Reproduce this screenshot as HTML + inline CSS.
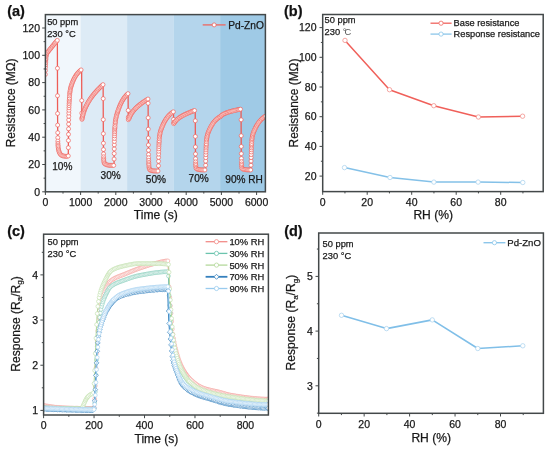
<!DOCTYPE html><html><head><meta charset="utf-8"><style>html,body{margin:0;padding:0;background:#fff;width:550px;height:449px;overflow:hidden}svg{display:block;will-change:transform;filter:blur(0.3px)} text{stroke:#1e1e1e;stroke-width:0.25px}</style></head><body>
<svg width="550" height="449" viewBox="0 0 550 449" font-family='"Liberation Sans", sans-serif'>
<rect width="550" height="449" fill="#fff"/>
<rect x="45.4" y="14.6" width="35.1" height="177.2" fill="#f1f7fc"/>
<rect x="80.5" y="14.6" width="46.6" height="177.2" fill="#ddebf6"/>
<rect x="127.1" y="14.6" width="46.3" height="177.2" fill="#c7def0"/>
<rect x="173.4" y="14.6" width="46.7" height="177.2" fill="#b4d5ec"/>
<rect x="220.1" y="14.6" width="45.3" height="177.2" fill="#9fcae6"/>
<clipPath id="ca"><rect x="45.4" y="14.6" width="220" height="177.2"/></clipPath>
<polyline points="45.4,74.41 45.47,70.49 45.54,67.33 45.61,64.79 45.68,62.73 45.75,61.06 45.82,59.71 45.89,58.61 45.96,57.71 46.03,56.97 46.1,56.35 46.17,55.84 46.24,55.42 46.32,55.06 46.39,54.75 46.46,54.49 46.53,54.26 46.6,54.05 46.67,53.87 46.74,53.71 46.81,53.56 46.88,53.42 46.95,53.29 47.02,53.17 47.09,53.05 47.16,52.94 47.23,52.84 47.3,52.73 47.37,52.63 47.44,52.53 47.51,52.43 47.58,52.34 47.65,52.24 47.72,52.15 47.79,52.06 47.86,51.96 47.93,51.87 48,51.78 48.08,51.69 48.15,51.6 48.22,51.5 48.29,51.41 48.36,51.32 48.43,51.23 48.5,51.14 48.57,51.05 48.64,50.96 48.71,50.87 48.78,50.78 48.85,50.69 48.92,50.61 48.99,50.52 49.06,50.43 49.13,50.34 49.2,50.25 49.27,50.16 49.34,50.07 49.41,49.98 49.48,49.89 49.55,49.81 49.62,49.72 49.69,49.63 49.76,49.54 49.84,49.45 49.91,49.36 49.98,49.28 50.05,49.19 50.12,49.1 50.19,49.01 50.26,48.92 50.33,48.84 50.4,48.75 50.47,48.66 50.54,48.57 50.61,48.49 50.68,48.4 50.75,48.31 50.82,48.22 50.89,48.14 50.96,48.05 51.03,47.96 51.1,47.88 51.17,47.79 51.24,47.7 51.31,47.61 51.38,47.53 51.45,47.44 51.52,47.35 51.6,47.27 51.67,47.18 51.74,47.09 51.81,47.01 51.88,46.92 51.95,46.83 52.02,46.75 52.09,46.66 52.16,46.58 52.23,46.49 52.3,46.4 52.37,46.32 52.44,46.23 52.51,46.14 52.58,46.06 52.65,45.97 52.72,45.89 52.79,45.8 52.86,45.71 52.93,45.63 53,45.54 53.07,45.46 53.14,45.37 53.21,45.28 53.28,45.2 53.36,45.11 53.43,45.03 53.5,44.94 53.57,44.86 53.64,44.77 53.71,44.69 53.78,44.6 53.85,44.51 53.92,44.43 53.99,44.34 54.06,44.26 54.13,44.17 54.2,44.09 54.27,44 54.34,43.92 54.41,43.83 54.48,43.75 54.55,43.66 54.62,43.58 54.69,43.49 54.76,43.41 54.83,43.32 54.9,43.24 54.97,43.15 55.04,43.07 55.12,42.98 55.19,42.9 55.26,42.81 55.33,42.73 55.4,42.64 55.47,42.56 55.54,42.48 55.61,42.39 55.68,42.31 55.75,42.22 55.82,42.14 55.89,42.05 55.96,41.97 56.03,41.88 56.1,41.8 56.17,41.72 56.24,41.63 56.31,41.55 56.38,41.46 56.45,41.38 56.52,41.29 56.59,41.21 56.66,41.13 56.73,41.04 56.8,40.96 56.88,40.87 56.95,40.79 57.02,40.7 57.09,40.62 57.16,40.54 57.23,40.45 57.3,40.37 57.37,40.29 57.44,68.25 57.51,95.73 57.58,113.53 57.65,125.11 57.72,132.7 57.79,137.73 57.86,141.1 57.93,143.4 58,145.02 58.07,146.18 58.14,147.06 58.21,147.74 58.28,148.29 58.35,148.75 58.42,149.15 58.49,149.51 58.56,149.84 58.64,150.14 58.71,150.42 58.78,150.68 58.85,150.93 58.92,151.17 58.99,151.39 59.06,151.61 59.13,151.81 59.2,152.01 59.27,152.2 59.34,152.38 59.41,152.55 59.48,152.71 59.55,152.87 59.62,153.02 59.69,153.16 59.76,153.3 59.83,153.43 59.9,153.55 59.97,153.67 60.04,153.79 60.11,153.9 60.18,154 60.25,154.1 60.32,154.2 60.4,154.29 60.47,154.38 60.54,154.46 60.61,154.54 60.68,154.62 60.75,154.69 60.82,154.76 60.89,154.83 60.96,154.9 61.03,154.96 61.1,155.02 61.17,155.07 61.24,155.13 61.31,155.18 61.38,155.23 61.45,155.27 61.52,155.32 61.59,155.36 61.66,155.4 61.73,155.44 61.8,155.48 61.87,155.52 61.94,155.55 62.01,155.58 62.08,155.62 62.16,155.65 62.23,155.67 62.3,155.7 62.37,155.73 62.44,155.75 62.51,155.78 62.58,155.8 62.65,155.82 62.72,155.84 62.79,155.86 62.86,155.88 62.93,155.9 63,155.92 63.07,155.94 63.14,155.95 63.21,155.97 63.28,155.98 63.35,156 63.42,156.01 63.49,156.02 63.56,156.04 63.63,156.05 63.7,156.06 63.77,156.07 63.84,156.08 63.92,156.09 63.99,156.1 64.06,156.11 64.13,156.12 64.2,156.13 64.27,156.13 64.34,156.14 64.41,156.15 64.48,156.16 64.55,156.16 64.62,156.17 64.69,156.18 64.76,156.18 64.83,156.19 64.9,156.19 64.97,156.2 65.04,156.2 65.11,156.21 65.18,156.21 65.25,156.22 65.32,156.22 65.39,156.22 65.46,156.23 65.53,156.23 65.6,156.23 65.68,156.24 65.75,156.24 65.82,156.24 65.89,156.25 65.96,156.25 66.03,156.25 66.1,156.25 66.17,156.26 66.24,156.26 66.31,156.26 66.38,156.26 66.45,156.27 66.52,156.27 66.59,156.27 66.66,156.27 66.73,156.27 66.8,156.27 66.87,156.28 66.94,156.28 67.01,156.28 67.08,156.28 67.15,156.28 67.22,156.28 67.29,156.28 67.36,156.29 67.44,156.29 67.51,156.29 67.58,156.29 67.65,156.29 67.72,156.29 67.79,156.29 67.86,156.29 67.93,156.29 68,156.29 68.07,156.29 68.14,156.29 68.21,156.3 68.28,155.9 68.35,147.69 68.42,140.54 68.49,134.3 68.56,128.85 68.63,124.09 68.7,119.92 68.77,116.28 68.84,113.08 68.91,110.27 68.98,107.8 69.05,105.62 69.12,103.69 69.2,101.99 69.27,100.48 69.34,99.14 69.41,97.94 69.48,96.87 69.55,95.9 69.62,95.03 69.69,94.25 69.76,93.54 69.83,92.89 69.9,92.29 69.97,91.74 70.04,91.24 70.11,90.77 70.18,90.33 70.25,89.92 70.32,89.54 70.39,89.17 70.46,88.83 70.53,88.5 70.6,88.19 70.67,87.89 70.74,87.61 70.81,87.33 70.88,87.06 70.96,86.8 71.03,86.55 71.1,86.3 71.17,86.07 71.24,85.83 71.31,85.6 71.38,85.38 71.45,85.16 71.52,84.95 71.59,84.74 71.66,84.53 71.73,84.32 71.8,84.12 71.87,83.92 71.94,83.73 72.01,83.53 72.08,83.34 72.15,83.15 72.22,82.97 72.29,82.78 72.36,82.6 72.43,82.42 72.5,82.24 72.57,82.07 72.64,81.89 72.72,81.72 72.79,81.55 72.86,81.38 72.93,81.22 73,81.05 73.07,80.89 73.14,80.73 73.21,80.57 73.28,80.41 73.35,80.26 73.42,80.1 73.49,79.95 73.56,79.8 73.63,79.65 73.7,79.5 73.77,79.35 73.84,79.2 73.91,79.06 73.98,78.92 74.05,78.78 74.12,78.64 74.19,78.5 74.26,78.36 74.33,78.22 74.4,78.09 74.48,77.96 74.55,77.83 74.62,77.7 74.69,77.57 74.76,77.44 74.83,77.31 74.9,77.19 74.97,77.06 75.04,76.94 75.11,76.82 75.18,76.7 75.25,76.58 75.32,76.46 75.39,76.34 75.46,76.23 75.53,76.11 75.6,76 75.67,75.89 75.74,75.78 75.81,75.67 75.88,75.56 75.95,75.45 76.02,75.34 76.09,75.24 76.16,75.13 76.24,75.03 76.31,74.93 76.38,74.83 76.45,74.73 76.52,74.63 76.59,74.53 76.66,74.43 76.73,74.33 76.8,74.24 76.87,74.14 76.94,74.05 77.01,73.96 77.08,73.86 77.15,73.77 77.22,73.68 77.29,73.59 77.36,73.51 77.43,73.42 77.5,73.33 77.57,73.25 77.64,73.16 77.71,73.08 77.78,72.99 77.85,72.91 77.92,72.83 78,72.75 78.07,72.67 78.14,72.59 78.21,72.51 78.28,72.44 78.35,72.36 78.42,72.28 78.49,72.21 78.56,72.13 78.63,72.06 78.7,71.99 78.77,71.91 78.84,71.84 78.91,71.77 78.98,71.7 79.05,71.63 79.12,71.56 79.19,71.5 79.26,71.43 79.33,71.36 79.4,71.3 79.47,71.23 79.54,71.17 79.61,71.1 79.68,71.04 79.76,70.98 79.83,70.91 79.9,70.85 79.97,70.79 80.04,70.73 80.11,70.67 80.18,70.61 80.25,70.55 80.32,70.49 80.39,70.44 80.46,70.38 80.53,70.32 80.6,70.27 80.67,70.21 80.74,70.16 80.81,70.1 80.88,70.05 80.95,70 81.02,69.95 81.09,69.89 81.16,69.84 81.23,69.79 81.3,69.74 81.37,69.69 81.44,69.64 81.52,69.59 81.59,69.54 81.66,69.5 81.73,100.54 81.8,113.13 81.87,117.81 81.94,119.32 82.01,119.6 82.08,119.41 82.15,119.05 82.22,118.64 82.29,118.22 82.36,117.82 82.43,117.43 82.5,117.06 82.57,116.71 82.64,116.36 82.71,116.04 82.78,115.72 82.85,115.41 82.92,115.12 82.99,114.83 83.06,114.55 83.13,114.28 83.2,114.01 83.28,113.75 83.35,113.5 83.42,113.25 83.49,113.01 83.56,112.77 83.63,112.54 83.7,112.31 83.77,112.09 83.84,111.87 83.91,111.65 83.98,111.44 84.05,111.23 84.12,111.02 84.19,110.82 84.26,110.62 84.33,110.42 84.4,110.23 84.47,110.04 84.54,109.85 84.61,109.66 84.68,109.48 84.75,109.3 84.82,109.12 84.89,108.94 84.96,108.77 85.04,108.59 85.11,108.42 85.18,108.25 85.25,108.09 85.32,107.92 85.39,107.76 85.46,107.59 85.53,107.43 85.6,107.27 85.67,107.12 85.74,106.96 85.81,106.81 85.88,106.65 85.95,106.5 86.02,106.35 86.09,106.2 86.16,106.05 86.23,105.91 86.3,105.76 86.37,105.62 86.44,105.47 86.51,105.33 86.58,105.19 86.65,105.05 86.72,104.91 86.8,104.77 86.87,104.64 86.94,104.5 87.01,104.37 87.08,104.23 87.15,104.1 87.22,103.97 87.29,103.84 87.36,103.71 87.43,103.58 87.5,103.45 87.57,103.32 87.64,103.19 87.71,103.07 87.78,102.94 87.85,102.82 87.92,102.7 87.99,102.57 88.06,102.45 88.13,102.33 88.2,102.21 88.27,102.09 88.34,101.97 88.41,101.85 88.48,101.73 88.56,101.61 88.63,101.5 88.7,101.38 88.77,101.27 88.84,101.15 88.91,101.04 88.98,100.92 89.05,100.81 89.12,100.7 89.19,100.59 89.26,100.47 89.33,100.36 89.4,100.25 89.47,100.14 89.54,100.03 89.61,99.93 89.68,99.82 89.75,99.71 89.82,99.6 89.89,99.5 89.96,99.39 90.03,99.28 90.1,99.18 90.17,99.07 90.24,98.97 90.32,98.87 90.39,98.76 90.46,98.66 90.53,98.56 90.6,98.46 90.67,98.35 90.74,98.25 90.81,98.15 90.88,98.05 90.95,97.95 91.02,97.85 91.09,97.75 91.16,97.66 91.23,97.56 91.3,97.46 91.37,97.36 91.44,97.26 91.51,97.17 91.58,97.07 91.65,96.98 91.72,96.88 91.79,96.78 91.86,96.69 91.93,96.6 92,96.5 92.08,96.41 92.15,96.31 92.22,96.22 92.29,96.13 92.36,96.04 92.43,95.94 92.5,95.85 92.57,95.76 92.64,95.67 92.71,95.58 92.78,95.49 92.85,95.4 92.92,95.31 92.99,95.22 93.06,95.13 93.13,95.04 93.2,94.95 93.27,94.86 93.34,94.77 93.41,94.68 93.48,94.6 93.55,94.51 93.62,94.42 93.69,94.34 93.76,94.25 93.84,94.16 93.91,94.08 93.98,93.99 94.05,93.91 94.12,93.82 94.19,93.74 94.26,93.65 94.33,93.57 94.4,93.48 94.47,93.4 94.54,93.32 94.61,93.23 94.68,93.15 94.75,93.07 94.82,92.98 94.89,92.9 94.96,92.82 95.03,92.74 95.1,92.65 95.17,92.57 95.24,92.49 95.31,92.41 95.38,92.33 95.45,92.25 95.52,92.17 95.6,92.09 95.67,92.01 95.74,91.93 95.81,91.85 95.88,91.77 95.95,91.69 96.02,91.61 96.09,91.53 96.16,91.45 96.23,91.38 96.3,91.3 96.37,91.22 96.44,91.14 96.51,91.07 96.58,90.99 96.65,90.91 96.72,90.83 96.79,90.76 96.86,90.68 96.93,90.6 97,90.53 97.07,90.45 97.14,90.38 97.21,90.3 97.28,90.23 97.36,90.15 97.43,90.08 97.5,90 97.57,89.93 97.64,89.85 97.71,89.78 97.78,89.7 97.85,89.63 97.92,89.56 97.99,89.48 98.06,89.41 98.13,89.34 98.2,89.26 98.27,89.19 98.34,89.12 98.41,89.04 98.48,88.97 98.55,88.9 98.62,88.83 98.69,88.76 98.76,88.68 98.83,88.61 98.9,88.54 98.97,88.47 99.04,88.4 99.12,88.33 99.19,88.26 99.26,88.19 99.33,88.12 99.4,88.05 99.47,87.97 99.54,87.9 99.61,87.83 99.68,87.77 99.75,87.7 99.82,87.63 99.89,87.56 99.96,87.49 100.03,87.42 100.1,87.35 100.17,87.28 100.24,87.21 100.31,87.14 100.38,87.08 100.45,87.01 100.52,86.94 100.59,86.87 100.66,86.8 100.73,86.74 100.8,86.67 100.88,86.6 100.95,86.53 101.02,86.47 101.09,86.4 101.16,86.33 101.23,86.27 101.3,86.2 101.37,86.13 101.44,86.07 101.51,86 101.58,85.93 101.65,85.87 101.72,85.8 101.79,85.74 101.86,85.67 101.93,85.61 102,85.54 102.07,85.48 102.14,85.41 102.21,85.34 102.28,85.28 102.35,85.22 102.42,85.15 102.49,85.09 102.56,85.02 102.64,84.96 102.71,84.89 102.78,84.83 102.85,84.77 102.92,84.7 102.99,84.64 103.06,84.57 103.13,84.51 103.2,98.64 103.27,119.61 103.34,133.7 103.41,143.18 103.48,149.56 103.55,153.88 103.62,156.8 103.69,158.79 103.76,160.15 103.83,161.09 103.9,161.74 103.97,162.21 104.04,162.55 104.11,162.8 104.18,162.99 104.25,163.14 104.32,163.26 104.4,163.36 104.47,163.45 104.54,163.53 104.61,163.6 104.68,163.67 104.75,163.73 104.82,163.79 104.89,163.85 104.96,163.9 105.03,163.96 105.1,164 105.17,164.05 105.24,164.1 105.31,164.14 105.38,164.19 105.45,164.23 105.52,164.27 105.59,164.31 105.66,164.35 105.73,164.38 105.8,164.42 105.87,164.45 105.94,164.48 106.01,164.52 106.08,164.55 106.16,164.58 106.23,164.61 106.3,164.63 106.37,164.66 106.44,164.69 106.51,164.71 106.58,164.74 106.65,164.76 106.72,164.78 106.79,164.8 106.86,164.83 106.93,164.85 107,164.87 107.07,164.89 107.14,164.9 107.21,164.92 107.28,164.94 107.35,164.96 107.42,164.97 107.49,164.99 107.56,165 107.63,165.02 107.7,165.03 107.77,165.05 107.84,165.06 107.92,165.07 107.99,165.09 108.06,165.1 108.13,165.11 108.2,165.12 108.27,165.13 108.34,165.14 108.41,165.15 108.48,165.16 108.55,165.17 108.62,165.18 108.69,165.19 108.76,165.2 108.83,165.21 108.9,165.22 108.97,165.22 109.04,165.23 109.11,165.24 109.18,165.25 109.25,165.25 109.32,165.26 109.39,165.27 109.46,165.27 109.53,165.28 109.6,165.28 109.68,165.29 109.75,165.29 109.82,165.3 109.89,165.31 109.96,165.31 110.03,165.31 110.1,165.32 110.17,165.32 110.24,165.33 110.31,165.33 110.38,165.34 110.45,165.34 110.52,165.34 110.59,165.35 110.66,165.35 110.73,165.35 110.8,165.36 110.87,165.36 110.94,165.36 111.01,165.37 111.08,165.37 111.15,165.37 111.22,165.38 111.29,165.38 111.36,165.38 111.44,165.38 111.51,165.39 111.58,165.39 111.65,165.39 111.72,165.39 111.79,165.39 111.86,165.4 111.93,165.4 112,165.4 112.07,165.4 112.14,165.4 112.21,165.41 112.28,165.41 112.35,165.41 112.42,165.41 112.49,165.41 112.56,165.41 112.63,165.41 112.7,165.42 112.77,165.42 112.84,165.42 112.91,165.42 112.98,165.42 113.05,165.42 113.12,165.42 113.2,165.42 113.27,165.43 113.34,165.43 113.41,165.43 113.48,165.43 113.55,165.43 113.62,165.43 113.69,165.43 113.76,165.43 113.83,165.43 113.9,165.43 113.97,165.43 114.04,165.46 114.11,159.04 114.18,153.56 114.25,148.88 114.32,144.86 114.39,141.41 114.46,138.45 114.53,135.89 114.6,133.68 114.67,131.76 114.74,130.09 114.81,128.63 114.88,127.35 114.96,126.23 115.03,125.23 115.1,124.34 115.17,123.54 115.24,122.82 115.31,122.17 115.38,121.58 115.45,121.03 115.52,120.53 115.59,120.06 115.66,119.63 115.73,119.22 115.8,118.83 115.87,118.46 115.94,118.11 116.01,117.78 116.08,117.45 116.15,117.14 116.22,116.84 116.29,116.54 116.36,116.26 116.43,115.98 116.5,115.7 116.57,115.43 116.64,115.17 116.72,114.91 116.79,114.66 116.86,114.4 116.93,114.16 117,113.91 117.07,113.67 117.14,113.43 117.21,113.2 117.28,112.96 117.35,112.73 117.42,112.5 117.49,112.28 117.56,112.05 117.63,111.83 117.7,111.61 117.77,111.4 117.84,111.18 117.91,110.97 117.98,110.76 118.05,110.55 118.12,110.34 118.19,110.13 118.26,109.93 118.33,109.73 118.4,109.53 118.48,109.33 118.55,109.13 118.62,108.94 118.69,108.74 118.76,108.55 118.83,108.36 118.9,108.17 118.97,107.99 119.04,107.8 119.11,107.62 119.18,107.44 119.25,107.26 119.32,107.08 119.39,106.9 119.46,106.72 119.53,106.55 119.6,106.38 119.67,106.21 119.74,106.04 119.81,105.87 119.88,105.7 119.95,105.54 120.02,105.37 120.09,105.21 120.16,105.05 120.24,104.89 120.31,104.73 120.38,104.58 120.45,104.42 120.52,104.27 120.59,104.11 120.66,103.96 120.73,103.81 120.8,103.66 120.87,103.52 120.94,103.37 121.01,103.22 121.08,103.08 121.15,102.94 121.22,102.8 121.29,102.66 121.36,102.52 121.43,102.38 121.5,102.24 121.57,102.11 121.64,101.97 121.71,101.84 121.78,101.71 121.85,101.58 121.92,101.45 122,101.32 122.07,101.19 122.14,101.07 122.21,100.94 122.28,100.82 122.35,100.7 122.42,100.57 122.49,100.45 122.56,100.33 122.63,100.21 122.7,100.1 122.77,99.98 122.84,99.86 122.91,99.75 122.98,99.64 123.05,99.52 123.12,99.41 123.19,99.3 123.26,99.19 123.33,99.08 123.4,98.97 123.47,98.87 123.54,98.76 123.61,98.66 123.68,98.55 123.76,98.45 123.83,98.35 123.9,98.25 123.97,98.14 124.04,98.04 124.11,97.95 124.18,97.85 124.25,97.75 124.32,97.65 124.39,97.56 124.46,97.46 124.53,97.37 124.6,97.28 124.67,97.18 124.74,97.09 124.81,97 124.88,96.91 124.95,96.82 125.02,96.74 125.09,96.65 125.16,96.56 125.23,96.48 125.3,96.39 125.37,96.31 125.44,96.22 125.52,96.14 125.59,96.06 125.66,95.97 125.73,95.89 125.8,95.81 125.87,95.73 125.94,95.65 126.01,95.58 126.08,95.5 126.15,95.42 126.22,95.35 126.29,95.27 126.36,95.2 126.43,95.12 126.5,95.05 126.57,94.97 126.64,94.9 126.71,94.83 126.78,94.76 126.85,94.69 126.92,94.62 126.99,94.55 127.06,94.48 127.13,94.41 127.2,94.35 127.28,94.28 127.35,94.21 127.42,94.15 127.49,94.08 127.56,94.02 127.63,93.95 127.7,93.89 127.77,93.83 127.84,93.76 127.91,93.7 127.98,93.64 128.05,93.58 128.12,93.52 128.19,110.33 128.26,117.16 128.33,119.66 128.4,120.43 128.47,120.53 128.54,120.38 128.61,120.13 128.68,119.86 128.75,119.6 128.82,119.34 128.89,119.09 128.96,118.85 129.04,118.63 129.11,118.41 129.18,118.2 129.25,118 129.32,117.8 129.39,117.61 129.46,117.43 129.53,117.25 129.6,117.08 129.67,116.91 129.74,116.74 129.81,116.58 129.88,116.42 129.95,116.27 130.02,116.11 130.09,115.97 130.16,115.82 130.23,115.68 130.3,115.54 130.37,115.4 130.44,115.26 130.51,115.13 130.58,115 130.65,114.87 130.72,114.74 130.8,114.62 130.87,114.49 130.94,114.37 131.01,114.25 131.08,114.13 131.15,114.01 131.22,113.9 131.29,113.78 131.36,113.67 131.43,113.56 131.5,113.45 131.57,113.34 131.64,113.23 131.71,113.12 131.78,113.02 131.85,112.91 131.92,112.81 131.99,112.71 132.06,112.61 132.13,112.51 132.2,112.41 132.27,112.31 132.34,112.21 132.41,112.11 132.48,112.02 132.56,111.92 132.63,111.83 132.7,111.73 132.77,111.64 132.84,111.55 132.91,111.46 132.98,111.37 133.05,111.28 133.12,111.19 133.19,111.1 133.26,111.01 133.33,110.92 133.4,110.84 133.47,110.75 133.54,110.66 133.61,110.58 133.68,110.49 133.75,110.41 133.82,110.33 133.89,110.25 133.96,110.16 134.03,110.08 134.1,110 134.17,109.92 134.24,109.84 134.32,109.76 134.39,109.68 134.46,109.6 134.53,109.53 134.6,109.45 134.67,109.37 134.74,109.29 134.81,109.22 134.88,109.14 134.95,109.07 135.02,108.99 135.09,108.92 135.16,108.84 135.23,108.77 135.3,108.7 135.37,108.62 135.44,108.55 135.51,108.48 135.58,108.41 135.65,108.34 135.72,108.26 135.79,108.19 135.86,108.12 135.93,108.05 136,107.98 136.08,107.91 136.15,107.84 136.22,107.78 136.29,107.71 136.36,107.64 136.43,107.57 136.5,107.5 136.57,107.44 136.64,107.37 136.71,107.3 136.78,107.24 136.85,107.17 136.92,107.11 136.99,107.04 137.06,106.98 137.13,106.91 137.2,106.85 137.27,106.78 137.34,106.72 137.41,106.65 137.48,106.59 137.55,106.53 137.62,106.46 137.69,106.4 137.76,106.34 137.84,106.28 137.91,106.21 137.98,106.15 138.05,106.09 138.12,106.03 138.19,105.97 138.26,105.91 138.33,105.85 138.4,105.79 138.47,105.73 138.54,105.67 138.61,105.61 138.68,105.55 138.75,105.49 138.82,105.43 138.89,105.37 138.96,105.31 139.03,105.25 139.1,105.2 139.17,105.14 139.24,105.08 139.31,105.02 139.38,104.96 139.45,104.91 139.52,104.85 139.6,104.79 139.67,104.74 139.74,104.68 139.81,104.62 139.88,104.57 139.95,104.51 140.02,104.46 140.09,104.4 140.16,104.34 140.23,104.29 140.3,104.23 140.37,104.18 140.44,104.12 140.51,104.07 140.58,104.02 140.65,103.96 140.72,103.91 140.79,103.85 140.86,103.8 140.93,103.75 141,103.69 141.07,103.64 141.14,103.59 141.21,103.53 141.28,103.48 141.36,103.43 141.43,103.38 141.5,103.32 141.57,103.27 141.64,103.22 141.71,103.17 141.78,103.12 141.85,103.06 141.92,103.01 141.99,102.96 142.06,102.91 142.13,102.86 142.2,102.81 142.27,102.76 142.34,102.71 142.41,102.66 142.48,102.61 142.55,102.56 142.62,102.5 142.69,102.45 142.76,102.41 142.83,102.36 142.9,102.31 142.97,102.26 143.04,102.21 143.12,102.16 143.19,102.11 143.26,102.06 143.33,102.01 143.4,101.96 143.47,101.91 143.54,101.87 143.61,101.82 143.68,101.77 143.75,101.72 143.82,101.67 143.89,101.62 143.96,101.58 144.03,101.53 144.1,101.48 144.17,101.43 144.24,101.39 144.31,101.34 144.38,101.29 144.45,101.25 144.52,101.2 144.59,101.15 144.66,101.11 144.73,101.06 144.8,101.01 144.88,100.97 144.95,100.92 145.02,100.87 145.09,100.83 145.16,100.78 145.23,100.74 145.3,100.69 145.37,100.64 145.44,100.6 145.51,100.55 145.58,100.51 145.65,100.46 145.72,100.42 145.79,100.37 145.86,100.33 145.93,100.28 146,100.24 146.07,100.19 146.14,100.15 146.21,100.1 146.28,100.06 146.35,100.02 146.42,99.97 146.49,99.93 146.56,99.88 146.64,99.84 146.71,99.8 146.78,99.75 146.85,99.71 146.92,99.67 146.99,99.62 147.06,99.58 147.13,99.53 147.2,99.49 147.27,99.45 147.34,99.41 147.41,99.36 147.48,99.32 147.55,99.28 147.62,99.23 147.69,99.19 147.76,99.15 147.83,99.11 147.9,99.06 147.97,99.02 148.04,98.98 148.11,103.28 148.18,117.82 148.25,129.16 148.32,138.01 148.4,144.91 148.47,150.3 148.54,154.51 148.61,157.81 148.68,160.38 148.75,162.4 148.82,163.98 148.89,165.22 148.96,166.2 149.03,166.98 149.1,167.59 149.17,168.07 149.24,168.46 149.31,168.77 149.38,169.02 149.45,169.22 149.52,169.39 149.59,169.53 149.66,169.64 149.73,169.74 149.8,169.82 149.87,169.89 149.94,169.95 150.01,170.01 150.08,170.06 150.16,170.1 150.23,170.14 150.3,170.18 150.37,170.21 150.44,170.24 150.51,170.27 150.58,170.3 150.65,170.33 150.72,170.35 150.79,170.38 150.86,170.4 150.93,170.42 151,170.44 151.07,170.46 151.14,170.48 151.21,170.5 151.28,170.52 151.35,170.54 151.42,170.56 151.49,170.57 151.56,170.59 151.63,170.6 151.7,170.62 151.77,170.63 151.84,170.65 151.92,170.66 151.99,170.67 152.06,170.68 152.13,170.7 152.2,170.71 152.27,170.72 152.34,170.73 152.41,170.74 152.48,170.75 152.55,170.76 152.62,170.77 152.69,170.78 152.76,170.79 152.83,170.8 152.9,170.81 152.97,170.81 153.04,170.82 153.11,170.83 153.18,170.84 153.25,170.84 153.32,170.85 153.39,170.86 153.46,170.86 153.53,170.87 153.6,170.88 153.68,170.88 153.75,170.89 153.82,170.89 153.89,170.9 153.96,170.9 154.03,170.91 154.1,170.91 154.17,170.92 154.24,170.92 154.31,170.93 154.38,170.93 154.45,170.93 154.52,170.94 154.59,170.94 154.66,170.94 154.73,170.95 154.8,170.95 154.87,170.96 154.94,170.96 155.01,170.96 155.08,170.96 155.15,170.97 155.22,170.97 155.29,170.97 155.36,170.98 155.44,170.98 155.51,170.98 155.58,170.98 155.65,170.98 155.72,170.99 155.79,170.99 155.86,170.99 155.93,170.99 156,171 156.07,171 156.14,171 156.21,171 156.28,171 156.35,171 156.42,171.01 156.49,171.01 156.56,171.01 156.63,171.01 156.7,171.01 156.77,171.01 156.84,171.01 156.91,171.02 156.98,171.02 157.05,171.02 157.12,171.02 157.2,171.02 157.27,171.02 157.34,171.02 157.41,171.02 157.48,171.02 157.55,171.02 157.62,171.03 157.69,171.03 157.76,171.03 157.83,171.03 157.9,171.03 157.97,171.03 158.04,171.03 158.11,171.03 158.18,171.03 158.25,171.03 158.32,171.03 158.39,171.05 158.46,165.76 158.53,161.25 158.6,157.39 158.67,154.08 158.74,151.24 158.81,148.8 158.88,146.7 158.96,144.88 159.03,143.3 159.1,141.93 159.17,140.73 159.24,139.68 159.31,138.76 159.38,137.94 159.45,137.21 159.52,136.56 159.59,135.97 159.66,135.44 159.73,134.96 159.8,134.52 159.87,134.11 159.94,133.73 160.01,133.37 160.08,133.04 160.15,132.73 160.22,132.43 160.29,132.15 160.36,131.87 160.43,131.61 160.5,131.36 160.57,131.12 160.64,130.88 160.72,130.65 160.79,130.42 160.86,130.2 160.93,129.98 161,129.77 161.07,129.56 161.14,129.36 161.21,129.16 161.28,128.96 161.35,128.76 161.42,128.56 161.49,128.37 161.56,128.18 161.63,127.99 161.7,127.81 161.77,127.63 161.84,127.44 161.91,127.26 161.98,127.09 162.05,126.91 162.12,126.73 162.19,126.56 162.26,126.39 162.33,126.22 162.4,126.05 162.48,125.88 162.55,125.72 162.62,125.55 162.69,125.39 162.76,125.23 162.83,125.07 162.9,124.91 162.97,124.76 163.04,124.6 163.11,124.45 163.18,124.29 163.25,124.14 163.32,123.99 163.39,123.84 163.46,123.69 163.53,123.55 163.6,123.4 163.67,123.26 163.74,123.12 163.81,122.98 163.88,122.84 163.95,122.7 164.02,122.56 164.09,122.42 164.16,122.29 164.24,122.15 164.31,122.02 164.38,121.89 164.45,121.76 164.52,121.63 164.59,121.5 164.66,121.37 164.73,121.25 164.8,121.12 164.87,121 164.94,120.88 165.01,120.75 165.08,120.63 165.15,120.51 165.22,120.39 165.29,120.28 165.36,120.16 165.43,120.04 165.5,119.93 165.57,119.82 165.64,119.7 165.71,119.59 165.78,119.48 165.85,119.37 165.92,119.26 166,119.15 166.07,119.05 166.14,118.94 166.21,118.84 166.28,118.73 166.35,118.63 166.42,118.53 166.49,118.43 166.56,118.32 166.63,118.22 166.7,118.13 166.77,118.03 166.84,117.93 166.91,117.83 166.98,117.74 167.05,117.64 167.12,117.55 167.19,117.46 167.26,117.36 167.33,117.27 167.4,117.18 167.47,117.09 167.54,117 167.61,116.92 167.68,116.83 167.76,116.74 167.83,116.66 167.9,116.57 167.97,116.49 168.04,116.4 168.11,116.32 168.18,116.24 168.25,116.15 168.32,116.07 168.39,115.99 168.46,115.91 168.53,115.83 168.6,115.76 168.67,115.68 168.74,115.6 168.81,115.53 168.88,115.45 168.95,115.38 169.02,115.3 169.09,115.23 169.16,115.15 169.23,115.08 169.3,115.01 169.37,114.94 169.44,114.87 169.52,114.8 169.59,114.73 169.66,114.66 169.73,114.59 169.8,114.53 169.87,114.46 169.94,114.39 170.01,114.33 170.08,114.26 170.15,114.2 170.22,114.13 170.29,114.07 170.36,114.01 170.43,113.94 170.5,113.88 170.57,113.82 170.64,113.76 170.71,113.7 170.78,113.64 170.85,113.58 170.92,113.52 170.99,113.46 171.06,113.41 171.13,113.35 171.2,113.29 171.28,113.24 171.35,113.18 171.42,113.13 171.49,113.07 171.56,113.02 171.63,112.96 171.7,112.91 171.77,112.86 171.84,112.8 171.91,112.75 171.98,112.7 172.05,112.65 172.12,112.6 172.19,112.55 172.26,112.5 172.33,112.45 172.4,112.4 172.47,112.35 172.54,112.31 172.61,112.26 172.68,112.21 172.75,112.16 172.82,112.12 172.89,112.07 172.96,112.03 173.04,111.98 173.11,111.94 173.18,111.89 173.25,111.85 173.32,111.8 173.39,111.76 173.46,111.72 173.53,111.67 173.6,119.39 173.67,122.54 173.74,123.65 173.81,123.96 173.88,123.95 173.95,123.84 174.02,123.68 174.09,123.51 174.16,123.35 174.23,123.19 174.3,123.04 174.37,122.9 174.44,122.77 174.51,122.63 174.58,122.51 174.65,122.39 174.72,122.27 174.8,122.15 174.87,122.04 174.94,121.94 175.01,121.83 175.08,121.73 175.15,121.63 175.22,121.53 175.29,121.44 175.36,121.34 175.43,121.25 175.5,121.16 175.57,121.07 175.64,120.99 175.71,120.9 175.78,120.82 175.85,120.74 175.92,120.66 175.99,120.58 176.06,120.5 176.13,120.42 176.2,120.35 176.27,120.27 176.34,120.2 176.41,120.13 176.48,120.06 176.56,119.99 176.63,119.92 176.7,119.85 176.77,119.78 176.84,119.71 176.91,119.65 176.98,119.58 177.05,119.51 177.12,119.45 177.19,119.39 177.26,119.32 177.33,119.26 177.4,119.2 177.47,119.14 177.54,119.08 177.61,119.02 177.68,118.96 177.75,118.9 177.82,118.84 177.89,118.78 177.96,118.73 178.03,118.67 178.1,118.61 178.17,118.56 178.24,118.5 178.32,118.45 178.39,118.39 178.46,118.34 178.53,118.28 178.6,118.23 178.67,118.18 178.74,118.12 178.81,118.07 178.88,118.02 178.95,117.97 179.02,117.92 179.09,117.87 179.16,117.82 179.23,117.77 179.3,117.72 179.37,117.67 179.44,117.62 179.51,117.57 179.58,117.52 179.65,117.47 179.72,117.42 179.79,117.38 179.86,117.33 179.93,117.28 180,117.24 180.08,117.19 180.15,117.14 180.22,117.1 180.29,117.05 180.36,117.01 180.43,116.96 180.5,116.92 180.57,116.87 180.64,116.83 180.71,116.78 180.78,116.74 180.85,116.7 180.92,116.65 180.99,116.61 181.06,116.57 181.13,116.52 181.2,116.48 181.27,116.44 181.34,116.4 181.41,116.35 181.48,116.31 181.55,116.27 181.62,116.23 181.69,116.19 181.76,116.15 181.84,116.11 181.91,116.06 181.98,116.02 182.05,115.98 182.12,115.94 182.19,115.9 182.26,115.86 182.33,115.82 182.4,115.79 182.47,115.75 182.54,115.71 182.61,115.67 182.68,115.63 182.75,115.59 182.82,115.55 182.89,115.51 182.96,115.48 183.03,115.44 183.1,115.4 183.17,115.36 183.24,115.33 183.31,115.29 183.38,115.25 183.45,115.21 183.52,115.18 183.6,115.14 183.67,115.1 183.74,115.07 183.81,115.03 183.88,114.99 183.95,114.96 184.02,114.92 184.09,114.89 184.16,114.85 184.23,114.81 184.3,114.78 184.37,114.74 184.44,114.71 184.51,114.67 184.58,114.64 184.65,114.6 184.72,114.57 184.79,114.53 184.86,114.5 184.93,114.47 185,114.43 185.07,114.4 185.14,114.36 185.21,114.33 185.28,114.3 185.36,114.26 185.43,114.23 185.5,114.19 185.57,114.16 185.64,114.13 185.71,114.1 185.78,114.06 185.85,114.03 185.92,114 185.99,113.96 186.06,113.93 186.13,113.9 186.2,113.87 186.27,113.83 186.34,113.8 186.41,113.77 186.48,113.74 186.55,113.7 186.62,113.67 186.69,113.64 186.76,113.61 186.83,113.58 186.9,113.55 186.97,113.51 187.04,113.48 187.12,113.45 187.19,113.42 187.26,113.39 187.33,113.36 187.4,113.33 187.47,113.3 187.54,113.27 187.61,113.24 187.68,113.2 187.75,113.17 187.82,113.14 187.89,113.11 187.96,113.08 188.03,113.05 188.1,113.02 188.17,112.99 188.24,112.96 188.31,112.93 188.38,112.9 188.45,112.87 188.52,112.84 188.59,112.81 188.66,112.79 188.73,112.76 188.8,112.73 188.88,112.7 188.95,112.67 189.02,112.64 189.09,112.61 189.16,112.58 189.23,112.55 189.3,112.52 189.37,112.49 189.44,112.47 189.51,112.44 189.58,112.41 189.65,112.38 189.72,112.35 189.79,112.32 189.86,112.29 189.93,112.27 190,112.24 190.07,112.21 190.14,112.18 190.21,112.15 190.28,112.13 190.35,112.1 190.42,112.07 190.49,112.04 190.56,112.02 190.64,111.99 190.71,111.96 190.78,111.93 190.85,111.91 190.92,111.88 190.99,111.85 191.06,111.82 191.13,111.8 191.2,111.77 191.27,111.74 191.34,111.71 191.41,111.69 191.48,111.66 191.55,111.63 191.62,111.61 191.69,111.58 191.76,111.55 191.83,111.53 191.9,111.5 191.97,111.47 192.04,111.45 192.11,111.42 192.18,111.4 192.25,111.37 192.32,111.34 192.4,111.32 192.47,111.29 192.54,111.26 192.61,111.24 192.68,111.21 192.75,111.19 192.82,111.16 192.89,111.13 192.96,111.11 193.03,111.08 193.1,111.06 193.17,111.03 193.24,111.01 193.31,110.98 193.38,110.96 193.45,110.93 193.52,110.9 193.59,110.88 193.66,110.85 193.73,110.83 193.8,110.8 193.87,110.78 193.94,110.75 194.01,110.73 194.08,110.7 194.16,110.68 194.23,110.65 194.3,110.63 194.37,110.6 194.44,110.58 194.51,110.55 194.58,110.53 194.65,110.5 194.72,110.48 194.79,110.46 194.86,110.43 194.93,110.41 195,110.38 195.07,110.36 195.14,110.33 195.21,110.31 195.28,120.82 195.35,136.43 195.42,146.92 195.49,153.96 195.56,158.71 195.63,161.9 195.7,164.06 195.77,165.52 195.84,166.52 195.92,167.2 195.99,167.68 196.06,168.01 196.13,168.24 196.2,168.42 196.27,168.54 196.34,168.64 196.41,168.72 196.48,168.78 196.55,168.84 196.62,168.89 196.69,168.93 196.76,168.97 196.83,169 196.9,169.04 196.97,169.07 197.04,169.1 197.11,169.13 197.18,169.15 197.25,169.18 197.32,169.21 197.39,169.23 197.46,169.26 197.53,169.28 197.6,169.3 197.68,169.32 197.75,169.34 197.82,169.36 197.89,169.38 197.96,169.4 198.03,169.42 198.1,169.44 198.17,169.46 198.24,169.47 198.31,169.49 198.38,169.5 198.45,169.52 198.52,169.53 198.59,169.55 198.66,169.56 198.73,169.57 198.8,169.59 198.87,169.6 198.94,169.61 199.01,169.62 199.08,169.63 199.15,169.64 199.22,169.65 199.29,169.66 199.36,169.67 199.44,169.68 199.51,169.69 199.58,169.7 199.65,169.71 199.72,169.72 199.79,169.73 199.86,169.73 199.93,169.74 200,169.75 200.07,169.75 200.14,169.76 200.21,169.77 200.28,169.77 200.35,169.78 200.42,169.79 200.49,169.79 200.56,169.8 200.63,169.8 200.7,169.81 200.77,169.81 200.84,169.82 200.91,169.82 200.98,169.83 201.05,169.83 201.12,169.84 201.2,169.84 201.27,169.84 201.34,169.85 201.41,169.85 201.48,169.85 201.55,169.86 201.62,169.86 201.69,169.86 201.76,169.87 201.83,169.87 201.9,169.87 201.97,169.88 202.04,169.88 202.11,169.88 202.18,169.88 202.25,169.89 202.32,169.89 202.39,169.89 202.46,169.89 202.53,169.9 202.6,169.9 202.67,169.9 202.74,169.9 202.81,169.9 202.88,169.91 202.96,169.91 203.03,169.91 203.1,169.91 203.17,169.91 203.24,169.91 203.31,169.92 203.38,169.92 203.45,169.92 203.52,169.92 203.59,169.92 203.66,169.92 203.73,169.92 203.8,169.92 203.87,169.93 203.94,169.93 204.01,169.93 204.08,169.93 204.15,169.93 204.22,169.93 204.29,169.93 204.36,169.93 204.43,169.93 204.5,169.93 204.57,169.94 204.64,169.94 204.72,169.94 204.79,169.94 204.86,169.94 204.93,169.94 205,169.94 205.07,169.94 205.14,169.94 205.21,169.94 205.28,169.94 205.35,169.94 205.42,169.94 205.49,169.94 205.56,169.96 205.63,165.19 205.7,161.12 205.77,157.64 205.84,154.66 205.91,152.1 205.98,149.9 206.05,148 206.12,146.36 206.19,144.94 206.26,143.7 206.33,142.62 206.4,141.67 206.48,140.83 206.55,140.09 206.62,139.44 206.69,138.85 206.76,138.32 206.83,137.84 206.9,137.4 206.97,137 207.04,136.63 207.11,136.29 207.18,135.96 207.25,135.66 207.32,135.38 207.39,135.11 207.46,134.85 207.53,134.61 207.6,134.37 207.67,134.14 207.74,133.92 207.81,133.7 207.88,133.49 207.95,133.29 208.02,133.09 208.09,132.89 208.16,132.7 208.24,132.51 208.31,132.32 208.38,132.14 208.45,131.96 208.52,131.78 208.59,131.6 208.66,131.43 208.73,131.25 208.8,131.08 208.87,130.91 208.94,130.75 209.01,130.58 209.08,130.42 209.15,130.26 209.22,130.1 209.29,129.94 209.36,129.78 209.43,129.62 209.5,129.47 209.57,129.32 209.64,129.16 209.71,129.01 209.78,128.86 209.85,128.72 209.92,128.57 210,128.43 210.07,128.28 210.14,128.14 210.21,128 210.28,127.86 210.35,127.72 210.42,127.58 210.49,127.45 210.56,127.31 210.63,127.18 210.7,127.04 210.77,126.91 210.84,126.78 210.91,126.65 210.98,126.52 211.05,126.4 211.12,126.27 211.19,126.14 211.26,126.02 211.33,125.9 211.4,125.78 211.47,125.66 211.54,125.54 211.61,125.42 211.68,125.3 211.76,125.18 211.83,125.07 211.9,124.95 211.97,124.84 212.04,124.73 212.11,124.61 212.18,124.5 212.25,124.39 212.32,124.29 212.39,124.18 212.46,124.07 212.53,123.96 212.6,123.86 212.67,123.76 212.74,123.65 212.81,123.55 212.88,123.45 212.95,123.35 213.02,123.25 213.09,123.15 213.16,123.05 213.23,122.95 213.3,122.86 213.37,122.76 213.44,122.67 213.52,122.57 213.59,122.48 213.66,122.39 213.73,122.3 213.8,122.21 213.87,122.12 213.94,122.03 214.01,121.94 214.08,121.85 214.15,121.76 214.22,121.68 214.29,121.59 214.36,121.51 214.43,121.43 214.5,121.34 214.57,121.26 214.64,121.18 214.71,121.1 214.78,121.02 214.85,120.94 214.92,120.86 214.99,120.78 215.06,120.7 215.13,120.63 215.2,120.55 215.28,120.47 215.35,120.4 215.42,120.33 215.49,120.25 215.56,120.18 215.63,120.11 215.7,120.03 215.77,119.96 215.84,119.89 215.91,119.82 215.98,119.75 216.05,119.69 216.12,119.62 216.19,119.55 216.26,119.48 216.33,119.42 216.4,119.35 216.47,119.29 216.54,119.22 216.61,119.16 216.68,119.09 216.75,119.03 216.82,118.97 216.89,118.91 216.96,118.85 217.04,118.79 217.11,118.73 217.18,118.67 217.25,118.61 217.32,118.55 217.39,118.49 217.46,118.43 217.53,118.37 217.6,118.32 217.67,118.26 217.74,118.21 217.81,118.15 217.88,118.1 217.95,118.04 218.02,117.99 218.09,117.93 218.16,117.88 218.23,117.83 218.3,117.78 218.37,117.73 218.44,117.68 218.51,117.62 218.58,117.57 218.65,117.52 218.72,117.48 218.8,117.43 218.87,117.38 218.94,117.33 219.01,117.28 219.08,117.24 219.15,117.19 219.22,117.14 219.29,117.1 219.36,117.05 219.43,117.01 219.5,116.96 219.57,116.92 219.64,116.87 219.71,116.83 219.78,116.78 219.85,116.74 219.92,116.7 219.99,116.66 220.06,116.62 220.13,116.57 220.2,116.53 220.27,116.49 220.34,116.45 220.41,116.56 220.48,116.62 220.56,116.56 220.63,116.46 220.7,116.35 220.77,116.24 220.84,116.14 220.91,116.04 220.98,115.95 221.05,115.86 221.12,115.78 221.19,115.71 221.26,115.63 221.33,115.56 221.4,115.49 221.47,115.43 221.54,115.36 221.61,115.3 221.68,115.24 221.75,115.18 221.82,115.13 221.89,115.07 221.96,115.02 222.03,114.96 222.1,114.91 222.17,114.86 222.24,114.81 222.32,114.76 222.39,114.72 222.46,114.67 222.53,114.63 222.6,114.58 222.67,114.54 222.74,114.49 222.81,114.45 222.88,114.41 222.95,114.37 223.02,114.33 223.09,114.28 223.16,114.25 223.23,114.21 223.3,114.17 223.37,114.13 223.44,114.09 223.51,114.05 223.58,114.02 223.65,113.98 223.72,113.94 223.79,113.91 223.86,113.87 223.93,113.84 224,113.8 224.08,113.77 224.15,113.74 224.22,113.7 224.29,113.67 224.36,113.64 224.43,113.6 224.5,113.57 224.57,113.54 224.64,113.51 224.71,113.48 224.78,113.45 224.85,113.42 224.92,113.39 224.99,113.36 225.06,113.33 225.13,113.3 225.2,113.27 225.27,113.24 225.34,113.21 225.41,113.18 225.48,113.15 225.55,113.12 225.62,113.09 225.69,113.07 225.76,113.04 225.84,113.01 225.91,112.98 225.98,112.95 226.05,112.93 226.12,112.9 226.19,112.87 226.26,112.85 226.33,112.82 226.4,112.8 226.47,112.77 226.54,112.74 226.61,112.72 226.68,112.69 226.75,112.67 226.82,112.64 226.89,112.62 226.96,112.59 227.03,112.57 227.1,112.54 227.17,112.52 227.24,112.49 227.31,112.47 227.38,112.44 227.45,112.42 227.52,112.4 227.6,112.37 227.67,112.35 227.74,112.33 227.81,112.3 227.88,112.28 227.95,112.26 228.02,112.23 228.09,112.21 228.16,112.19 228.23,112.16 228.3,112.14 228.37,112.12 228.44,112.1 228.51,112.07 228.58,112.05 228.65,112.03 228.72,112.01 228.79,111.99 228.86,111.96 228.93,111.94 229,111.92 229.07,111.9 229.14,111.88 229.21,111.86 229.28,111.84 229.36,111.81 229.43,111.79 229.5,111.77 229.57,111.75 229.64,111.73 229.71,111.71 229.78,111.69 229.85,111.67 229.92,111.65 229.99,111.63 230.06,111.61 230.13,111.59 230.2,111.57 230.27,111.55 230.34,111.53 230.41,111.51 230.48,111.49 230.55,111.47 230.62,111.45 230.69,111.43 230.76,111.41 230.83,111.39 230.9,111.37 230.97,111.35 231.04,111.33 231.12,111.31 231.19,111.29 231.26,111.27 231.33,111.26 231.4,111.24 231.47,111.22 231.54,111.2 231.61,111.18 231.68,111.16 231.75,111.14 231.82,111.12 231.89,111.11 231.96,111.09 232.03,111.07 232.1,111.05 232.17,111.03 232.24,111.01 232.31,111 232.38,110.98 232.45,110.96 232.52,110.94 232.59,110.92 232.66,110.91 232.73,110.89 232.8,110.87 232.88,110.85 232.95,110.84 233.02,110.82 233.09,110.8 233.16,110.78 233.23,110.77 233.3,110.75 233.37,110.73 233.44,110.71 233.51,110.7 233.58,110.68 233.65,110.66 233.72,110.65 233.79,110.63 233.86,110.61 233.93,110.59 234,110.58 234.07,110.56 234.14,110.54 234.21,110.53 234.28,110.51 234.35,110.49 234.42,110.48 234.49,110.46 234.56,110.44 234.64,110.43 234.71,110.41 234.78,110.4 234.85,110.38 234.92,110.36 234.99,110.35 235.06,110.33 235.13,110.31 235.2,110.3 235.27,110.28 235.34,110.27 235.41,110.25 235.48,110.23 235.55,110.22 235.62,110.2 235.69,110.19 235.76,110.17 235.83,110.15 235.9,110.14 235.97,110.12 236.04,110.11 236.11,110.09 236.18,110.08 236.25,110.06 236.32,110.05 236.4,110.03 236.47,110.01 236.54,110 236.61,109.98 236.68,109.97 236.75,109.95 236.82,109.94 236.89,109.92 236.96,109.91 237.03,109.89 237.1,109.88 237.17,109.86 237.24,109.85 237.31,109.83 237.38,109.82 237.45,109.8 237.52,109.79 237.59,109.77 237.66,109.76 237.73,109.74 237.8,109.73 237.87,109.71 237.94,109.7 238.01,109.68 238.08,109.67 238.16,109.66 238.23,109.64 238.3,109.63 238.37,109.61 238.44,109.6 238.51,109.58 238.58,109.57 238.65,109.55 238.72,109.54 238.79,109.52 238.86,109.51 238.93,109.5 239,109.48 239.07,109.47 239.14,109.45 239.21,109.44 239.28,109.43 239.35,109.41 239.42,109.4 239.49,109.38 239.56,109.37 239.63,109.36 239.7,109.34 239.77,109.33 239.84,109.31 239.92,109.3 239.99,109.29 240.06,109.27 240.13,109.26 240.2,109.24 240.27,109.23 240.34,109.22 240.41,109.2 240.48,109.19 240.55,109.18 240.62,109.16 240.69,109.15 240.76,109.14 240.83,109.12 240.9,109.11 240.97,109.09 241.04,109.08 241.11,119.81 241.18,135.76 241.25,146.46 241.32,153.66 241.39,158.5 241.46,161.76 241.53,163.97 241.6,165.46 241.68,166.48 241.75,167.18 241.82,167.66 241.89,168 241.96,168.24 242.03,168.41 242.1,168.54 242.17,168.64 242.24,168.72 242.31,168.78 242.38,168.84 242.45,168.88 242.52,168.93 242.59,168.97 242.66,169 242.73,169.04 242.8,169.07 242.87,169.1 242.94,169.13 243.01,169.15 243.08,169.18 243.15,169.21 243.22,169.23 243.29,169.26 243.36,169.28 243.44,169.3 243.51,169.32 243.58,169.34 243.65,169.36 243.72,169.38 243.79,169.4 243.86,169.42 243.93,169.44 244,169.46 244.07,169.47 244.14,169.49 244.21,169.5 244.28,169.52 244.35,169.53 244.42,169.55 244.49,169.56 244.56,169.57 244.63,169.59 244.7,169.6 244.77,169.61 244.84,169.62 244.91,169.63 244.98,169.64 245.05,169.65 245.12,169.66 245.2,169.67 245.27,169.68 245.34,169.69 245.41,169.7 245.48,169.71 245.55,169.72 245.62,169.73 245.69,169.73 245.76,169.74 245.83,169.75 245.9,169.75 245.97,169.76 246.04,169.77 246.11,169.77 246.18,169.78 246.25,169.79 246.32,169.79 246.39,169.8 246.46,169.8 246.53,169.81 246.6,169.81 246.67,169.82 246.74,169.82 246.81,169.83 246.88,169.83 246.96,169.84 247.03,169.84 247.1,169.84 247.17,169.85 247.24,169.85 247.31,169.85 247.38,169.86 247.45,169.86 247.52,169.86 247.59,169.87 247.66,169.87 247.73,169.87 247.8,169.88 247.87,169.88 247.94,169.88 248.01,169.88 248.08,169.89 248.15,169.89 248.22,169.89 248.29,169.89 248.36,169.9 248.43,169.9 248.5,169.9 248.57,169.9 248.64,169.9 248.72,169.91 248.79,169.91 248.86,169.91 248.93,169.91 249,169.91 249.07,169.91 249.14,169.92 249.21,169.92 249.28,169.92 249.35,169.92 249.42,169.92 249.49,169.92 249.56,169.92 249.63,169.92 249.7,169.93 249.77,169.93 249.84,169.93 249.91,169.93 249.98,169.93 250.05,169.93 250.12,169.93 250.19,169.93 250.26,169.93 250.33,169.93 250.4,169.94 250.48,169.94 250.55,169.94 250.62,169.94 250.69,169.94 250.76,169.94 250.83,169.94 250.9,169.96 250.97,165.16 251.04,161.06 251.11,157.55 251.18,154.54 251.25,151.96 251.32,149.75 251.39,147.83 251.46,146.18 251.53,144.75 251.6,143.5 251.67,142.41 251.74,141.46 251.81,140.62 251.88,139.87 251.95,139.21 252.02,138.62 252.09,138.08 252.16,137.6 252.24,137.16 252.31,136.75 252.38,136.38 252.45,136.04 252.52,135.71 252.59,135.41 252.66,135.12 252.73,134.85 252.8,134.59 252.87,134.34 252.94,134.11 253.01,133.88 253.08,133.65 253.15,133.44 253.22,133.22 253.29,133.02 253.36,132.82 253.43,132.62 253.5,132.42 253.57,132.23 253.64,132.05 253.71,131.86 253.78,131.68 253.85,131.5 253.92,131.32 254,131.15 254.07,130.97 254.14,130.8 254.21,130.63 254.28,130.46 254.35,130.3 254.42,130.13 254.49,129.97 254.56,129.81 254.63,129.65 254.7,129.49 254.77,129.33 254.84,129.18 254.91,129.02 254.98,128.87 255.05,128.72 255.12,128.57 255.19,128.42 255.26,128.27 255.33,128.13 255.4,127.98 255.47,127.84 255.54,127.7 255.61,127.56 255.68,127.42 255.76,127.28 255.83,127.14 255.9,127.01 255.97,126.87 256.04,126.74 256.11,126.6 256.18,126.47 256.25,126.34 256.32,126.21 256.39,126.09 256.46,125.96 256.53,125.83 256.6,125.71 256.67,125.58 256.74,125.46 256.81,125.34 256.88,125.22 256.95,125.1 257.02,124.98 257.09,124.87 257.16,124.75 257.23,124.63 257.3,124.52 257.37,124.41 257.44,124.29 257.52,124.18 257.59,124.07 257.66,123.96 257.73,123.85 257.8,123.75 257.87,123.64 257.94,123.53 258.01,123.43 258.08,123.33 258.15,123.22 258.22,123.12 258.29,123.02 258.36,122.92 258.43,122.82 258.5,122.72 258.57,122.62 258.64,122.53 258.71,122.43 258.78,122.34 258.85,122.24 258.92,122.15 258.99,122.05 259.06,121.96 259.13,121.87 259.2,121.78 259.28,121.69 259.35,121.6 259.42,121.51 259.49,121.43 259.56,121.34 259.63,121.26 259.7,121.17 259.77,121.09 259.84,121 259.91,120.92 259.98,120.84 260.05,120.76 260.12,120.68 260.19,120.6 260.26,120.52 260.33,120.44 260.4,120.36 260.47,120.28 260.54,120.21 260.61,120.13 260.68,120.05 260.75,119.98 260.82,119.91 260.89,119.83 260.96,119.76 261.04,119.69 261.11,119.62 261.18,119.54 261.25,119.47 261.32,119.41 261.39,119.34 261.46,119.27 261.53,119.2 261.6,119.13 261.67,119.07 261.74,119 261.81,118.93 261.88,118.87 261.95,118.8 262.02,118.74 262.09,118.68 262.16,118.62 262.23,118.55 262.3,118.49 262.37,118.43 262.44,118.37 262.51,118.31 262.58,118.25 262.65,118.19 262.72,118.13 262.8,118.07 262.87,118.02 262.94,117.96 263.01,117.9 263.08,117.85 263.15,117.79 263.22,117.74 263.29,117.68 263.36,117.63 263.43,117.57 263.5,117.52 263.57,117.47 263.64,117.42 263.71,117.36 263.78,117.31 263.85,117.26 263.92,117.21 263.99,117.16 264.06,117.11 264.13,117.06 264.2,117.01 264.27,116.97 264.34,116.92 264.41,116.87 264.48,116.82 264.56,116.78 264.63,116.73 264.7,116.68 264.77,116.64 264.84,116.59 264.91,116.55 264.98,116.51 265.05,116.46 265.12,116.42 265.19,116.37 265.26,116.33 265.33,116.29 265.4,116.25" fill="none" stroke="#ee5d57" stroke-width="1.3" stroke-linejoin="round" clip-path="url(#ca)"/>
<g fill="#fff" stroke="#ee625c" stroke-width="0.7" clip-path="url(#ca)">
<circle cx="45.4" cy="74.41" r="2.0"/>
<circle cx="45.47" cy="70.49" r="2.0"/>
<circle cx="45.54" cy="67.33" r="2.0"/>
<circle cx="45.61" cy="64.79" r="2.0"/>
<circle cx="45.68" cy="62.73" r="2.0"/>
<circle cx="45.75" cy="61.06" r="2.0"/>
<circle cx="45.82" cy="59.71" r="2.0"/>
<circle cx="45.89" cy="58.61" r="2.0"/>
<circle cx="46.03" cy="56.97" r="2.0"/>
<circle cx="46.17" cy="55.84" r="2.0"/>
<circle cx="46.39" cy="54.75" r="2.0"/>
<circle cx="46.74" cy="53.71" r="2.0"/>
<circle cx="47.3" cy="52.73" r="2.0"/>
<circle cx="48" cy="51.78" r="2.0"/>
<circle cx="48.71" cy="50.87" r="2.0"/>
<circle cx="49.41" cy="49.98" r="2.0"/>
<circle cx="50.12" cy="49.1" r="2.0"/>
<circle cx="50.82" cy="48.22" r="2.0"/>
<circle cx="51.52" cy="47.35" r="2.0"/>
<circle cx="52.23" cy="46.49" r="2.0"/>
<circle cx="52.93" cy="45.63" r="2.0"/>
<circle cx="53.64" cy="44.77" r="2.0"/>
<circle cx="54.34" cy="43.92" r="2.0"/>
<circle cx="55.04" cy="43.07" r="2.0"/>
<circle cx="55.75" cy="42.22" r="2.0"/>
<circle cx="56.52" cy="41.29" r="2.0"/>
<circle cx="57.3" cy="40.37" r="2.0"/>
<circle cx="57.44" cy="68.25" r="2.0"/>
<circle cx="57.51" cy="95.73" r="2.0"/>
<circle cx="57.58" cy="113.53" r="2.0"/>
<circle cx="57.65" cy="125.11" r="2.0"/>
<circle cx="57.72" cy="132.7" r="2.0"/>
<circle cx="57.79" cy="137.73" r="2.0"/>
<circle cx="57.86" cy="141.1" r="2.0"/>
<circle cx="57.93" cy="143.4" r="2.0"/>
<circle cx="58" cy="145.02" r="2.0"/>
<circle cx="58.07" cy="146.18" r="2.0"/>
<circle cx="58.21" cy="147.74" r="2.0"/>
<circle cx="58.42" cy="149.15" r="2.0"/>
<circle cx="58.71" cy="150.42" r="2.0"/>
<circle cx="59.06" cy="151.61" r="2.0"/>
<circle cx="59.48" cy="152.71" r="2.0"/>
<circle cx="60.04" cy="153.79" r="2.0"/>
<circle cx="60.75" cy="154.69" r="2.0"/>
<circle cx="61.66" cy="155.4" r="2.0"/>
<circle cx="62.72" cy="155.84" r="2.0"/>
<circle cx="63.84" cy="156.08" r="2.0"/>
<circle cx="64.97" cy="156.2" r="2.0"/>
<circle cx="66.1" cy="156.25" r="2.0"/>
<circle cx="67.22" cy="156.28" r="2.0"/>
<circle cx="68.28" cy="155.9" r="2.0"/>
<circle cx="68.35" cy="147.69" r="2.0"/>
<circle cx="68.42" cy="140.54" r="2.0"/>
<circle cx="68.49" cy="134.3" r="2.0"/>
<circle cx="68.56" cy="128.85" r="2.0"/>
<circle cx="68.63" cy="124.09" r="2.0"/>
<circle cx="68.7" cy="119.92" r="2.0"/>
<circle cx="68.77" cy="116.28" r="2.0"/>
<circle cx="68.84" cy="113.08" r="2.0"/>
<circle cx="68.91" cy="110.27" r="2.0"/>
<circle cx="68.98" cy="107.8" r="2.0"/>
<circle cx="69.05" cy="105.62" r="2.0"/>
<circle cx="69.12" cy="103.69" r="2.0"/>
<circle cx="69.2" cy="101.99" r="2.0"/>
<circle cx="69.27" cy="100.48" r="2.0"/>
<circle cx="69.34" cy="99.14" r="2.0"/>
<circle cx="69.41" cy="97.94" r="2.0"/>
<circle cx="69.55" cy="95.9" r="2.0"/>
<circle cx="69.69" cy="94.25" r="2.0"/>
<circle cx="69.83" cy="92.89" r="2.0"/>
<circle cx="69.97" cy="91.74" r="2.0"/>
<circle cx="70.18" cy="90.33" r="2.0"/>
<circle cx="70.39" cy="89.17" r="2.0"/>
<circle cx="70.67" cy="87.89" r="2.0"/>
<circle cx="70.96" cy="86.8" r="2.0"/>
<circle cx="71.31" cy="85.6" r="2.0"/>
<circle cx="71.66" cy="84.53" r="2.0"/>
<circle cx="72.08" cy="83.34" r="2.0"/>
<circle cx="72.5" cy="82.24" r="2.0"/>
<circle cx="72.93" cy="81.22" r="2.0"/>
<circle cx="73.42" cy="80.1" r="2.0"/>
<circle cx="73.91" cy="79.06" r="2.0"/>
<circle cx="74.48" cy="77.96" r="2.0"/>
<circle cx="75.04" cy="76.94" r="2.0"/>
<circle cx="75.67" cy="75.89" r="2.0"/>
<circle cx="76.31" cy="74.93" r="2.0"/>
<circle cx="77.01" cy="73.96" r="2.0"/>
<circle cx="77.71" cy="73.08" r="2.0"/>
<circle cx="78.49" cy="72.21" r="2.0"/>
<circle cx="79.33" cy="71.36" r="2.0"/>
<circle cx="80.18" cy="70.61" r="2.0"/>
<circle cx="81.09" cy="69.89" r="2.0"/>
<circle cx="81.73" cy="100.54" r="2.0"/>
<circle cx="81.8" cy="113.13" r="2.0"/>
<circle cx="81.87" cy="117.81" r="2.0"/>
<circle cx="81.94" cy="119.32" r="2.0"/>
<circle cx="82.29" cy="118.22" r="2.0"/>
<circle cx="82.5" cy="117.06" r="2.0"/>
<circle cx="82.78" cy="115.72" r="2.0"/>
<circle cx="83.06" cy="114.55" r="2.0"/>
<circle cx="83.42" cy="113.25" r="2.0"/>
<circle cx="83.77" cy="112.09" r="2.0"/>
<circle cx="84.12" cy="111.02" r="2.0"/>
<circle cx="84.54" cy="109.85" r="2.0"/>
<circle cx="84.96" cy="108.77" r="2.0"/>
<circle cx="85.46" cy="107.59" r="2.0"/>
<circle cx="85.95" cy="106.5" r="2.0"/>
<circle cx="86.44" cy="105.47" r="2.0"/>
<circle cx="87.01" cy="104.37" r="2.0"/>
<circle cx="87.57" cy="103.32" r="2.0"/>
<circle cx="88.13" cy="102.33" r="2.0"/>
<circle cx="88.7" cy="101.38" r="2.0"/>
<circle cx="89.33" cy="100.36" r="2.0"/>
<circle cx="89.96" cy="99.39" r="2.0"/>
<circle cx="90.6" cy="98.46" r="2.0"/>
<circle cx="91.3" cy="97.46" r="2.0"/>
<circle cx="92" cy="96.5" r="2.0"/>
<circle cx="92.71" cy="95.58" r="2.0"/>
<circle cx="93.41" cy="94.68" r="2.0"/>
<circle cx="94.12" cy="93.82" r="2.0"/>
<circle cx="94.89" cy="92.9" r="2.0"/>
<circle cx="95.67" cy="92.01" r="2.0"/>
<circle cx="96.44" cy="91.14" r="2.0"/>
<circle cx="97.21" cy="90.3" r="2.0"/>
<circle cx="97.99" cy="89.48" r="2.0"/>
<circle cx="98.76" cy="88.68" r="2.0"/>
<circle cx="99.61" cy="87.83" r="2.0"/>
<circle cx="100.45" cy="87.01" r="2.0"/>
<circle cx="101.3" cy="86.2" r="2.0"/>
<circle cx="102.14" cy="85.41" r="2.0"/>
<circle cx="102.99" cy="84.64" r="2.0"/>
<circle cx="103.2" cy="98.64" r="2.0"/>
<circle cx="103.27" cy="119.61" r="2.0"/>
<circle cx="103.34" cy="133.7" r="2.0"/>
<circle cx="103.41" cy="143.18" r="2.0"/>
<circle cx="103.48" cy="149.56" r="2.0"/>
<circle cx="103.55" cy="153.88" r="2.0"/>
<circle cx="103.62" cy="156.8" r="2.0"/>
<circle cx="103.69" cy="158.79" r="2.0"/>
<circle cx="103.76" cy="160.15" r="2.0"/>
<circle cx="103.9" cy="161.74" r="2.0"/>
<circle cx="104.18" cy="162.99" r="2.0"/>
<circle cx="104.89" cy="163.85" r="2.0"/>
<circle cx="105.87" cy="164.45" r="2.0"/>
<circle cx="106.93" cy="164.85" r="2.0"/>
<circle cx="108.06" cy="165.1" r="2.0"/>
<circle cx="109.18" cy="165.25" r="2.0"/>
<circle cx="110.31" cy="165.33" r="2.0"/>
<circle cx="111.44" cy="165.38" r="2.0"/>
<circle cx="112.56" cy="165.41" r="2.0"/>
<circle cx="113.69" cy="165.43" r="2.0"/>
<circle cx="114.11" cy="159.04" r="2.0"/>
<circle cx="114.18" cy="153.56" r="2.0"/>
<circle cx="114.25" cy="148.88" r="2.0"/>
<circle cx="114.32" cy="144.86" r="2.0"/>
<circle cx="114.39" cy="141.41" r="2.0"/>
<circle cx="114.46" cy="138.45" r="2.0"/>
<circle cx="114.53" cy="135.89" r="2.0"/>
<circle cx="114.6" cy="133.68" r="2.0"/>
<circle cx="114.67" cy="131.76" r="2.0"/>
<circle cx="114.74" cy="130.09" r="2.0"/>
<circle cx="114.81" cy="128.63" r="2.0"/>
<circle cx="114.88" cy="127.35" r="2.0"/>
<circle cx="114.96" cy="126.23" r="2.0"/>
<circle cx="115.1" cy="124.34" r="2.0"/>
<circle cx="115.24" cy="122.82" r="2.0"/>
<circle cx="115.38" cy="121.58" r="2.0"/>
<circle cx="115.59" cy="120.06" r="2.0"/>
<circle cx="115.8" cy="118.83" r="2.0"/>
<circle cx="116.08" cy="117.45" r="2.0"/>
<circle cx="116.36" cy="116.26" r="2.0"/>
<circle cx="116.64" cy="115.17" r="2.0"/>
<circle cx="117" cy="113.91" r="2.0"/>
<circle cx="117.35" cy="112.73" r="2.0"/>
<circle cx="117.7" cy="111.61" r="2.0"/>
<circle cx="118.05" cy="110.55" r="2.0"/>
<circle cx="118.48" cy="109.33" r="2.0"/>
<circle cx="118.9" cy="108.17" r="2.0"/>
<circle cx="119.32" cy="107.08" r="2.0"/>
<circle cx="119.74" cy="106.04" r="2.0"/>
<circle cx="120.24" cy="104.89" r="2.0"/>
<circle cx="120.73" cy="103.81" r="2.0"/>
<circle cx="121.22" cy="102.8" r="2.0"/>
<circle cx="121.78" cy="101.71" r="2.0"/>
<circle cx="122.35" cy="100.7" r="2.0"/>
<circle cx="122.91" cy="99.75" r="2.0"/>
<circle cx="123.54" cy="98.76" r="2.0"/>
<circle cx="124.18" cy="97.85" r="2.0"/>
<circle cx="124.88" cy="96.91" r="2.0"/>
<circle cx="125.59" cy="96.06" r="2.0"/>
<circle cx="126.36" cy="95.2" r="2.0"/>
<circle cx="127.13" cy="94.41" r="2.0"/>
<circle cx="127.98" cy="93.64" r="2.0"/>
<circle cx="128.19" cy="110.33" r="2.0"/>
<circle cx="128.26" cy="117.16" r="2.0"/>
<circle cx="128.33" cy="119.66" r="2.0"/>
<circle cx="129.04" cy="118.63" r="2.0"/>
<circle cx="129.46" cy="117.43" r="2.0"/>
<circle cx="129.95" cy="116.27" r="2.0"/>
<circle cx="130.44" cy="115.26" r="2.0"/>
<circle cx="131.01" cy="114.25" r="2.0"/>
<circle cx="131.64" cy="113.23" r="2.0"/>
<circle cx="132.27" cy="112.31" r="2.0"/>
<circle cx="132.98" cy="111.37" r="2.0"/>
<circle cx="133.68" cy="110.49" r="2.0"/>
<circle cx="134.46" cy="109.6" r="2.0"/>
<circle cx="135.23" cy="108.77" r="2.0"/>
<circle cx="136" cy="107.98" r="2.0"/>
<circle cx="136.85" cy="107.17" r="2.0"/>
<circle cx="137.69" cy="106.4" r="2.0"/>
<circle cx="138.54" cy="105.67" r="2.0"/>
<circle cx="139.45" cy="104.91" r="2.0"/>
<circle cx="140.37" cy="104.18" r="2.0"/>
<circle cx="141.28" cy="103.48" r="2.0"/>
<circle cx="142.2" cy="102.81" r="2.0"/>
<circle cx="143.12" cy="102.16" r="2.0"/>
<circle cx="144.03" cy="101.53" r="2.0"/>
<circle cx="145.02" cy="100.87" r="2.0"/>
<circle cx="146" cy="100.24" r="2.0"/>
<circle cx="146.99" cy="99.62" r="2.0"/>
<circle cx="147.97" cy="99.02" r="2.0"/>
<circle cx="148.11" cy="103.28" r="2.0"/>
<circle cx="148.18" cy="117.82" r="2.0"/>
<circle cx="148.25" cy="129.16" r="2.0"/>
<circle cx="148.32" cy="138.01" r="2.0"/>
<circle cx="148.4" cy="144.91" r="2.0"/>
<circle cx="148.47" cy="150.3" r="2.0"/>
<circle cx="148.54" cy="154.51" r="2.0"/>
<circle cx="148.61" cy="157.81" r="2.0"/>
<circle cx="148.68" cy="160.38" r="2.0"/>
<circle cx="148.75" cy="162.4" r="2.0"/>
<circle cx="148.82" cy="163.98" r="2.0"/>
<circle cx="148.89" cy="165.22" r="2.0"/>
<circle cx="149.03" cy="166.98" r="2.0"/>
<circle cx="149.17" cy="168.07" r="2.0"/>
<circle cx="149.45" cy="169.22" r="2.0"/>
<circle cx="150.16" cy="170.1" r="2.0"/>
<circle cx="151.21" cy="170.5" r="2.0"/>
<circle cx="152.34" cy="170.73" r="2.0"/>
<circle cx="153.46" cy="170.86" r="2.0"/>
<circle cx="154.59" cy="170.94" r="2.0"/>
<circle cx="155.72" cy="170.99" r="2.0"/>
<circle cx="156.84" cy="171.01" r="2.0"/>
<circle cx="157.97" cy="171.03" r="2.0"/>
<circle cx="158.46" cy="165.76" r="2.0"/>
<circle cx="158.53" cy="161.25" r="2.0"/>
<circle cx="158.6" cy="157.39" r="2.0"/>
<circle cx="158.67" cy="154.08" r="2.0"/>
<circle cx="158.74" cy="151.24" r="2.0"/>
<circle cx="158.81" cy="148.8" r="2.0"/>
<circle cx="158.88" cy="146.7" r="2.0"/>
<circle cx="158.96" cy="144.88" r="2.0"/>
<circle cx="159.03" cy="143.3" r="2.0"/>
<circle cx="159.1" cy="141.93" r="2.0"/>
<circle cx="159.17" cy="140.73" r="2.0"/>
<circle cx="159.31" cy="138.76" r="2.0"/>
<circle cx="159.45" cy="137.21" r="2.0"/>
<circle cx="159.59" cy="135.97" r="2.0"/>
<circle cx="159.8" cy="134.52" r="2.0"/>
<circle cx="160.01" cy="133.37" r="2.0"/>
<circle cx="160.29" cy="132.15" r="2.0"/>
<circle cx="160.64" cy="130.88" r="2.0"/>
<circle cx="161" cy="129.77" r="2.0"/>
<circle cx="161.42" cy="128.56" r="2.0"/>
<circle cx="161.84" cy="127.44" r="2.0"/>
<circle cx="162.26" cy="126.39" r="2.0"/>
<circle cx="162.76" cy="125.23" r="2.0"/>
<circle cx="163.25" cy="124.14" r="2.0"/>
<circle cx="163.74" cy="123.12" r="2.0"/>
<circle cx="164.31" cy="122.02" r="2.0"/>
<circle cx="164.87" cy="121" r="2.0"/>
<circle cx="165.43" cy="120.04" r="2.0"/>
<circle cx="166.07" cy="119.05" r="2.0"/>
<circle cx="166.7" cy="118.13" r="2.0"/>
<circle cx="167.4" cy="117.18" r="2.0"/>
<circle cx="168.11" cy="116.32" r="2.0"/>
<circle cx="168.88" cy="115.45" r="2.0"/>
<circle cx="169.66" cy="114.66" r="2.0"/>
<circle cx="170.5" cy="113.88" r="2.0"/>
<circle cx="171.42" cy="113.13" r="2.0"/>
<circle cx="172.33" cy="112.45" r="2.0"/>
<circle cx="173.32" cy="111.8" r="2.0"/>
<circle cx="173.6" cy="119.39" r="2.0"/>
<circle cx="173.67" cy="122.54" r="2.0"/>
<circle cx="173.74" cy="123.65" r="2.0"/>
<circle cx="174.44" cy="122.77" r="2.0"/>
<circle cx="175.08" cy="121.73" r="2.0"/>
<circle cx="175.78" cy="120.82" r="2.0"/>
<circle cx="176.56" cy="119.99" r="2.0"/>
<circle cx="177.4" cy="119.2" r="2.0"/>
<circle cx="178.32" cy="118.45" r="2.0"/>
<circle cx="179.23" cy="117.77" r="2.0"/>
<circle cx="180.15" cy="117.14" r="2.0"/>
<circle cx="181.13" cy="116.52" r="2.0"/>
<circle cx="182.12" cy="115.94" r="2.0"/>
<circle cx="183.1" cy="115.4" r="2.0"/>
<circle cx="184.09" cy="114.89" r="2.0"/>
<circle cx="185.07" cy="114.4" r="2.0"/>
<circle cx="186.13" cy="113.9" r="2.0"/>
<circle cx="187.19" cy="113.42" r="2.0"/>
<circle cx="188.24" cy="112.96" r="2.0"/>
<circle cx="189.3" cy="112.52" r="2.0"/>
<circle cx="190.35" cy="112.1" r="2.0"/>
<circle cx="191.41" cy="111.69" r="2.0"/>
<circle cx="192.47" cy="111.29" r="2.0"/>
<circle cx="193.52" cy="110.9" r="2.0"/>
<circle cx="194.58" cy="110.53" r="2.0"/>
<circle cx="195.28" cy="120.82" r="2.0"/>
<circle cx="195.35" cy="136.43" r="2.0"/>
<circle cx="195.42" cy="146.92" r="2.0"/>
<circle cx="195.49" cy="153.96" r="2.0"/>
<circle cx="195.56" cy="158.71" r="2.0"/>
<circle cx="195.63" cy="161.9" r="2.0"/>
<circle cx="195.7" cy="164.06" r="2.0"/>
<circle cx="195.77" cy="165.52" r="2.0"/>
<circle cx="195.92" cy="167.2" r="2.0"/>
<circle cx="196.2" cy="168.42" r="2.0"/>
<circle cx="197.11" cy="169.13" r="2.0"/>
<circle cx="198.17" cy="169.46" r="2.0"/>
<circle cx="199.29" cy="169.66" r="2.0"/>
<circle cx="200.42" cy="169.79" r="2.0"/>
<circle cx="201.55" cy="169.86" r="2.0"/>
<circle cx="202.67" cy="169.9" r="2.0"/>
<circle cx="203.8" cy="169.92" r="2.0"/>
<circle cx="204.93" cy="169.94" r="2.0"/>
<circle cx="205.63" cy="165.19" r="2.0"/>
<circle cx="205.7" cy="161.12" r="2.0"/>
<circle cx="205.77" cy="157.64" r="2.0"/>
<circle cx="205.84" cy="154.66" r="2.0"/>
<circle cx="205.91" cy="152.1" r="2.0"/>
<circle cx="205.98" cy="149.9" r="2.0"/>
<circle cx="206.05" cy="148" r="2.0"/>
<circle cx="206.12" cy="146.36" r="2.0"/>
<circle cx="206.19" cy="144.94" r="2.0"/>
<circle cx="206.26" cy="143.7" r="2.0"/>
<circle cx="206.4" cy="141.67" r="2.0"/>
<circle cx="206.55" cy="140.09" r="2.0"/>
<circle cx="206.69" cy="138.85" r="2.0"/>
<circle cx="206.9" cy="137.4" r="2.0"/>
<circle cx="207.11" cy="136.29" r="2.0"/>
<circle cx="207.39" cy="135.11" r="2.0"/>
<circle cx="207.74" cy="133.92" r="2.0"/>
<circle cx="208.16" cy="132.7" r="2.0"/>
<circle cx="208.59" cy="131.6" r="2.0"/>
<circle cx="209.01" cy="130.58" r="2.0"/>
<circle cx="209.5" cy="129.47" r="2.0"/>
<circle cx="210" cy="128.43" r="2.0"/>
<circle cx="210.56" cy="127.31" r="2.0"/>
<circle cx="211.12" cy="126.27" r="2.0"/>
<circle cx="211.68" cy="125.3" r="2.0"/>
<circle cx="212.32" cy="124.29" r="2.0"/>
<circle cx="212.95" cy="123.35" r="2.0"/>
<circle cx="213.66" cy="122.39" r="2.0"/>
<circle cx="214.36" cy="121.51" r="2.0"/>
<circle cx="215.13" cy="120.63" r="2.0"/>
<circle cx="215.91" cy="119.82" r="2.0"/>
<circle cx="216.75" cy="119.03" r="2.0"/>
<circle cx="217.6" cy="118.32" r="2.0"/>
<circle cx="218.51" cy="117.62" r="2.0"/>
<circle cx="219.43" cy="117.01" r="2.0"/>
<circle cx="220.48" cy="116.62" r="2.0"/>
<circle cx="221.19" cy="115.71" r="2.0"/>
<circle cx="222.03" cy="114.96" r="2.0"/>
<circle cx="223.02" cy="114.33" r="2.0"/>
<circle cx="224" cy="113.8" r="2.0"/>
<circle cx="225.06" cy="113.33" r="2.0"/>
<circle cx="226.12" cy="112.9" r="2.0"/>
<circle cx="227.17" cy="112.52" r="2.0"/>
<circle cx="228.23" cy="112.16" r="2.0"/>
<circle cx="229.28" cy="111.84" r="2.0"/>
<circle cx="230.34" cy="111.53" r="2.0"/>
<circle cx="231.47" cy="111.22" r="2.0"/>
<circle cx="232.59" cy="110.92" r="2.0"/>
<circle cx="233.72" cy="110.65" r="2.0"/>
<circle cx="234.85" cy="110.38" r="2.0"/>
<circle cx="235.97" cy="110.12" r="2.0"/>
<circle cx="237.1" cy="109.88" r="2.0"/>
<circle cx="238.23" cy="109.64" r="2.0"/>
<circle cx="239.35" cy="109.41" r="2.0"/>
<circle cx="240.48" cy="109.19" r="2.0"/>
<circle cx="241.11" cy="119.81" r="2.0"/>
<circle cx="241.18" cy="135.76" r="2.0"/>
<circle cx="241.25" cy="146.46" r="2.0"/>
<circle cx="241.32" cy="153.66" r="2.0"/>
<circle cx="241.39" cy="158.5" r="2.0"/>
<circle cx="241.46" cy="161.76" r="2.0"/>
<circle cx="241.53" cy="163.97" r="2.0"/>
<circle cx="241.6" cy="165.46" r="2.0"/>
<circle cx="241.75" cy="167.18" r="2.0"/>
<circle cx="242.03" cy="168.41" r="2.0"/>
<circle cx="242.94" cy="169.13" r="2.0"/>
<circle cx="244" cy="169.46" r="2.0"/>
<circle cx="245.12" cy="169.66" r="2.0"/>
<circle cx="246.25" cy="169.79" r="2.0"/>
<circle cx="247.38" cy="169.86" r="2.0"/>
<circle cx="248.5" cy="169.9" r="2.0"/>
<circle cx="249.63" cy="169.92" r="2.0"/>
<circle cx="250.76" cy="169.94" r="2.0"/>
<circle cx="250.97" cy="165.16" r="2.0"/>
<circle cx="251.04" cy="161.06" r="2.0"/>
<circle cx="251.11" cy="157.55" r="2.0"/>
<circle cx="251.18" cy="154.54" r="2.0"/>
<circle cx="251.25" cy="151.96" r="2.0"/>
<circle cx="251.32" cy="149.75" r="2.0"/>
<circle cx="251.39" cy="147.83" r="2.0"/>
<circle cx="251.46" cy="146.18" r="2.0"/>
<circle cx="251.53" cy="144.75" r="2.0"/>
<circle cx="251.6" cy="143.5" r="2.0"/>
<circle cx="251.74" cy="141.46" r="2.0"/>
<circle cx="251.88" cy="139.87" r="2.0"/>
<circle cx="252.02" cy="138.62" r="2.0"/>
<circle cx="252.24" cy="137.16" r="2.0"/>
<circle cx="252.45" cy="136.04" r="2.0"/>
<circle cx="252.73" cy="134.85" r="2.0"/>
<circle cx="253.08" cy="133.65" r="2.0"/>
<circle cx="253.5" cy="132.42" r="2.0"/>
<circle cx="253.92" cy="131.32" r="2.0"/>
<circle cx="254.35" cy="130.3" r="2.0"/>
<circle cx="254.84" cy="129.18" r="2.0"/>
<circle cx="255.33" cy="128.13" r="2.0"/>
<circle cx="255.83" cy="127.14" r="2.0"/>
<circle cx="256.39" cy="126.09" r="2.0"/>
<circle cx="256.95" cy="125.1" r="2.0"/>
<circle cx="257.59" cy="124.07" r="2.0"/>
<circle cx="258.22" cy="123.12" r="2.0"/>
<circle cx="258.92" cy="122.15" r="2.0"/>
<circle cx="259.63" cy="121.26" r="2.0"/>
<circle cx="260.4" cy="120.36" r="2.0"/>
<circle cx="261.18" cy="119.54" r="2.0"/>
<circle cx="262.02" cy="118.74" r="2.0"/>
<circle cx="262.87" cy="118.02" r="2.0"/>
<circle cx="263.78" cy="117.31" r="2.0"/>
<circle cx="264.7" cy="116.68" r="2.0"/>
<circle cx="265.4" cy="116.25" r="2.0"/>
</g>
<rect x="45.4" y="14.6" width="220" height="177.2" fill="none" stroke="#434849" stroke-width="1.5"/>
<line x1="45.4" y1="191.8" x2="45.4" y2="195" stroke="#434849" stroke-width="1"/>
<line x1="80.6" y1="191.8" x2="80.6" y2="195" stroke="#434849" stroke-width="1"/>
<line x1="115.8" y1="191.8" x2="115.8" y2="195" stroke="#434849" stroke-width="1"/>
<line x1="151" y1="191.8" x2="151" y2="195" stroke="#434849" stroke-width="1"/>
<line x1="186.2" y1="191.8" x2="186.2" y2="195" stroke="#434849" stroke-width="1"/>
<line x1="221.4" y1="191.8" x2="221.4" y2="195" stroke="#434849" stroke-width="1"/>
<line x1="256.6" y1="191.8" x2="256.6" y2="195" stroke="#434849" stroke-width="1"/>
<line x1="63" y1="191.8" x2="63" y2="193.6" stroke="#434849" stroke-width="1"/>
<line x1="98.2" y1="191.8" x2="98.2" y2="193.6" stroke="#434849" stroke-width="1"/>
<line x1="133.4" y1="191.8" x2="133.4" y2="193.6" stroke="#434849" stroke-width="1"/>
<line x1="168.6" y1="191.8" x2="168.6" y2="193.6" stroke="#434849" stroke-width="1"/>
<line x1="203.8" y1="191.8" x2="203.8" y2="193.6" stroke="#434849" stroke-width="1"/>
<line x1="239" y1="191.8" x2="239" y2="193.6" stroke="#434849" stroke-width="1"/>
<text x="45.4" y="205.6" font-size="10.5" text-anchor="middle" font-weight="normal" fill="#161616" >0</text>
<text x="80.6" y="205.6" font-size="10.5" text-anchor="middle" font-weight="normal" fill="#161616" >1000</text>
<text x="115.8" y="205.6" font-size="10.5" text-anchor="middle" font-weight="normal" fill="#161616" >2000</text>
<text x="151" y="205.6" font-size="10.5" text-anchor="middle" font-weight="normal" fill="#161616" >3000</text>
<text x="186.2" y="205.6" font-size="10.5" text-anchor="middle" font-weight="normal" fill="#161616" >4000</text>
<text x="221.4" y="205.6" font-size="10.5" text-anchor="middle" font-weight="normal" fill="#161616" >5000</text>
<text x="256.6" y="205.6" font-size="10.5" text-anchor="middle" font-weight="normal" fill="#161616" >6000</text>
<line x1="42.2" y1="191.8" x2="45.4" y2="191.8" stroke="#434849" stroke-width="1"/>
<line x1="42.2" y1="164.5" x2="45.4" y2="164.5" stroke="#434849" stroke-width="1"/>
<line x1="42.2" y1="137.2" x2="45.4" y2="137.2" stroke="#434849" stroke-width="1"/>
<line x1="42.2" y1="109.9" x2="45.4" y2="109.9" stroke="#434849" stroke-width="1"/>
<line x1="42.2" y1="82.6" x2="45.4" y2="82.6" stroke="#434849" stroke-width="1"/>
<line x1="42.2" y1="55.3" x2="45.4" y2="55.3" stroke="#434849" stroke-width="1"/>
<line x1="42.2" y1="28" x2="45.4" y2="28" stroke="#434849" stroke-width="1"/>
<line x1="43.6" y1="178.15" x2="45.4" y2="178.15" stroke="#434849" stroke-width="1"/>
<line x1="43.6" y1="150.85" x2="45.4" y2="150.85" stroke="#434849" stroke-width="1"/>
<line x1="43.6" y1="123.55" x2="45.4" y2="123.55" stroke="#434849" stroke-width="1"/>
<line x1="43.6" y1="96.25" x2="45.4" y2="96.25" stroke="#434849" stroke-width="1"/>
<line x1="43.6" y1="68.95" x2="45.4" y2="68.95" stroke="#434849" stroke-width="1"/>
<line x1="43.6" y1="41.65" x2="45.4" y2="41.65" stroke="#434849" stroke-width="1"/>
<text x="40" y="195.55" font-size="10.5" text-anchor="end" font-weight="normal" fill="#161616" >0</text>
<text x="40" y="168.25" font-size="10.5" text-anchor="end" font-weight="normal" fill="#161616" >20</text>
<text x="40" y="140.95" font-size="10.5" text-anchor="end" font-weight="normal" fill="#161616" >40</text>
<text x="40" y="113.65" font-size="10.5" text-anchor="end" font-weight="normal" fill="#161616" >60</text>
<text x="40" y="86.35" font-size="10.5" text-anchor="end" font-weight="normal" fill="#161616" >80</text>
<text x="40" y="59.05" font-size="10.5" text-anchor="end" font-weight="normal" fill="#161616" >100</text>
<text x="40" y="31.75" font-size="10.5" text-anchor="end" font-weight="normal" fill="#161616" >120</text>
<text x="155.8" y="219.4" font-size="12.1" text-anchor="middle" font-weight="normal" fill="#161616" >Time (s)</text>
<text x="15.3" y="102.9" font-size="11.9" text-anchor="middle" fill="#161616" transform="rotate(-90 15.3 102.9)">Resistance (MΩ)</text>
<text x="7.2" y="15.9" font-size="14.5" text-anchor="start" font-weight="bold" fill="#111" >(a)</text>
<text x="47.2" y="24.8" font-size="9.3" text-anchor="start" font-weight="normal" fill="#161616" >50 ppm</text>
<text x="47.2" y="36.5" font-size="9.3" text-anchor="start" font-weight="normal" fill="#161616" >230 °C</text>
<text x="52.2" y="169.6" font-size="10.1" text-anchor="start" font-weight="normal" fill="#161616" >10%</text>
<text x="100.6" y="178.9" font-size="10.1" text-anchor="start" font-weight="normal" fill="#161616" >30%</text>
<text x="145.8" y="183.2" font-size="10.1" text-anchor="start" font-weight="normal" fill="#161616" >50%</text>
<text x="188.6" y="181.8" font-size="10.1" text-anchor="start" font-weight="normal" fill="#161616" >70%</text>
<text x="225.3" y="183.2" font-size="10.1" text-anchor="start" font-weight="normal" fill="#161616" >90% RH</text>
<line x1="202.7" y1="24.9" x2="225.6" y2="24.9" stroke="#ee6660" stroke-width="1.3"/>
<g fill="#fff" stroke="#ee6660" stroke-width="0.8">
<circle cx="214.15" cy="24.9" r="2.0"/>
</g>
<text x="228.2" y="28.7" font-size="10.2" text-anchor="start" font-weight="normal" fill="#161616" >Pd-ZnO</text>
<rect x="322.7" y="14.5" width="220.5" height="177.1" fill="none" stroke="#434849" stroke-width="1.5"/>
<line x1="322.7" y1="191.6" x2="322.7" y2="194.8" stroke="#434849" stroke-width="1"/>
<line x1="367.2" y1="191.6" x2="367.2" y2="194.8" stroke="#434849" stroke-width="1"/>
<line x1="411.7" y1="191.6" x2="411.7" y2="194.8" stroke="#434849" stroke-width="1"/>
<line x1="456.2" y1="191.6" x2="456.2" y2="194.8" stroke="#434849" stroke-width="1"/>
<line x1="500.7" y1="191.6" x2="500.7" y2="194.8" stroke="#434849" stroke-width="1"/>
<line x1="344.95" y1="191.6" x2="344.95" y2="193.4" stroke="#434849" stroke-width="1"/>
<line x1="389.45" y1="191.6" x2="389.45" y2="193.4" stroke="#434849" stroke-width="1"/>
<line x1="433.95" y1="191.6" x2="433.95" y2="193.4" stroke="#434849" stroke-width="1"/>
<line x1="478.45" y1="191.6" x2="478.45" y2="193.4" stroke="#434849" stroke-width="1"/>
<line x1="522.95" y1="191.6" x2="522.95" y2="193.4" stroke="#434849" stroke-width="1"/>
<text x="322.7" y="205.6" font-size="10.5" text-anchor="middle" font-weight="normal" fill="#161616" >0</text>
<text x="367.2" y="205.6" font-size="10.5" text-anchor="middle" font-weight="normal" fill="#161616" >20</text>
<text x="411.7" y="205.6" font-size="10.5" text-anchor="middle" font-weight="normal" fill="#161616" >40</text>
<text x="456.2" y="205.6" font-size="10.5" text-anchor="middle" font-weight="normal" fill="#161616" >60</text>
<text x="500.7" y="205.6" font-size="10.5" text-anchor="middle" font-weight="normal" fill="#161616" >80</text>
<line x1="319.5" y1="176.1" x2="322.7" y2="176.1" stroke="#434849" stroke-width="1"/>
<line x1="319.5" y1="146.4" x2="322.7" y2="146.4" stroke="#434849" stroke-width="1"/>
<line x1="319.5" y1="116.7" x2="322.7" y2="116.7" stroke="#434849" stroke-width="1"/>
<line x1="319.5" y1="87" x2="322.7" y2="87" stroke="#434849" stroke-width="1"/>
<line x1="319.5" y1="57.3" x2="322.7" y2="57.3" stroke="#434849" stroke-width="1"/>
<line x1="319.5" y1="27.6" x2="322.7" y2="27.6" stroke="#434849" stroke-width="1"/>
<line x1="320.9" y1="161.25" x2="322.7" y2="161.25" stroke="#434849" stroke-width="1"/>
<line x1="320.9" y1="131.55" x2="322.7" y2="131.55" stroke="#434849" stroke-width="1"/>
<line x1="320.9" y1="101.85" x2="322.7" y2="101.85" stroke="#434849" stroke-width="1"/>
<line x1="320.9" y1="72.15" x2="322.7" y2="72.15" stroke="#434849" stroke-width="1"/>
<line x1="320.9" y1="42.45" x2="322.7" y2="42.45" stroke="#434849" stroke-width="1"/>
<text x="316.5" y="179.85" font-size="10.5" text-anchor="end" font-weight="normal" fill="#161616" >20</text>
<text x="316.5" y="150.15" font-size="10.5" text-anchor="end" font-weight="normal" fill="#161616" >40</text>
<text x="316.5" y="120.45" font-size="10.5" text-anchor="end" font-weight="normal" fill="#161616" >60</text>
<text x="316.5" y="90.75" font-size="10.5" text-anchor="end" font-weight="normal" fill="#161616" >80</text>
<text x="316.5" y="61.05" font-size="10.5" text-anchor="end" font-weight="normal" fill="#161616" >100</text>
<text x="316.5" y="31.35" font-size="10.5" text-anchor="end" font-weight="normal" fill="#161616" >120</text>
<text x="433.2" y="219.3" font-size="12.1" text-anchor="middle" font-weight="normal" fill="#161616" >RH (%)</text>
<text x="298.1" y="103" font-size="11.9" text-anchor="middle" fill="#161616" transform="rotate(-90 298.1 103)">Resistance (MΩ)</text>
<text x="284" y="15.9" font-size="14.5" text-anchor="start" font-weight="bold" fill="#111" >(b)</text>
<text x="324.6" y="23.1" font-size="9.3" text-anchor="start" font-weight="normal" fill="#161616" >50 ppm</text>
<text x="324.6" y="34.5" font-size="9.3" text-anchor="start" font-weight="normal" fill="#161616" >230 <tspan fill="#555" style="stroke:none" letter-spacing="-1.8">°C</tspan></text>
<polyline points="345,40.4 389.5,89.7 433.8,105.7 478.4,117 522.6,116.2" fill="none" stroke="#f0605a" stroke-width="1.5" stroke-linejoin="round"/>
<g fill="#fff" stroke="#f3928d" stroke-width="0.8">
<circle cx="345" cy="40.4" r="2.2"/>
<circle cx="389.5" cy="89.7" r="2.2"/>
<circle cx="433.8" cy="105.7" r="2.2"/>
<circle cx="478.4" cy="117" r="2.2"/>
<circle cx="522.6" cy="116.2" r="2.2"/>
</g>
<polyline points="344.5,167.6 390,177.5 433.9,182.1 478.1,182.1 522.8,182.5" fill="none" stroke="#84c1e8" stroke-width="1.5" stroke-linejoin="round"/>
<g fill="#fff" stroke="#add4ef" stroke-width="0.8">
<circle cx="344.5" cy="167.6" r="2.2"/>
<circle cx="390" cy="177.5" r="2.2"/>
<circle cx="433.9" cy="182.1" r="2.2"/>
<circle cx="478.1" cy="182.1" r="2.2"/>
<circle cx="522.8" cy="182.5" r="2.2"/>
</g>
<line x1="430.5" y1="23.2" x2="451.6" y2="23.2" stroke="#f0645e" stroke-width="1.3"/>
<g fill="#fff" stroke="#f0645e" stroke-width="0.8">
<circle cx="441.05" cy="23.2" r="2.1"/>
</g>
<text x="453.6" y="25.6" font-size="9.25" text-anchor="start" font-weight="normal" fill="#161616" >Base resistance</text>
<line x1="430.5" y1="34.1" x2="451.6" y2="34.1" stroke="#8cc6ea" stroke-width="1.3"/>
<g fill="#fff" stroke="#8cc6ea" stroke-width="0.8">
<circle cx="441.05" cy="34.1" r="2.1"/>
</g>
<text x="453.6" y="36.5" font-size="9.25" text-anchor="start" font-weight="normal" fill="#161616" >Response resistance</text>
<clipPath id="cc"><rect x="43.6" y="234.2" width="224.8" height="180.8"/></clipPath>
<polyline points="43.6,405.43 44.23,405.54 44.86,405.65 45.49,405.76 46.12,405.87 46.75,405.98 47.38,406.08 48.02,406.18 48.65,406.28 49.28,406.38 49.91,406.48 50.54,406.57 51.17,406.66 51.8,406.75 52.43,406.83 53.06,406.91 53.69,406.99 54.32,407.06 54.95,407.13 55.58,407.2 56.22,407.26 56.85,407.32 57.48,407.37 58.11,407.42 58.74,407.46 59.37,407.51 60,407.55 60.63,407.59 61.26,407.63 61.89,407.66 62.52,407.7 63.15,407.74 63.78,407.77 64.41,407.8 65.05,407.83 65.68,407.87 66.31,407.89 66.94,407.92 67.57,407.95 68.2,407.98 68.83,408 69.46,408.02 70.09,408.04 70.72,408.06 71.35,408.08 71.98,408.1 72.61,408.11 73.25,408.13 73.88,408.14 74.51,408.15 75.14,408.16 75.77,408.18 76.4,408.19 77.03,408.2 77.66,408.21 78.29,408.22 78.92,408.23 79.55,408.24 80.18,408.25 80.81,408.26 81.45,408.27 82.08,408.28 82.71,408.29 83.34,408.29 83.97,408.3 84.6,408.31 85.23,408.32 85.86,408.32 86.49,408.33 87.12,408.34 87.75,408.34 88.38,408.35 89.01,408.35 89.64,408.35 90.28,408.36 90.91,408.36 91.54,408.36 92.17,408.37 92.8,408.37 93.43,408.37 94.06,407.3 94.69,398.84 95.32,385.71 95.95,368.3 96.58,353.36 97.21,340.21 97.84,330.94 98.48,323.63 99.11,317.92 99.74,313.01 100.37,308.72 101,305.04 101.63,301.99 102.26,299.37 102.89,296.96 103.52,294.77 104.15,292.78 104.78,290.97 105.41,289.35 106.04,287.89 106.68,286.57 107.31,285.35 107.94,284.21 108.57,283.18 109.2,282.29 109.83,281.56 110.46,281.01 111.09,280.52 111.72,280.06 112.35,279.63 112.98,279.22 113.61,278.84 114.24,278.49 114.87,278.15 115.51,277.83 116.14,277.53 116.77,277.25 117.4,276.98 118.03,276.72 118.66,276.47 119.29,276.23 119.92,275.99 120.55,275.75 121.18,275.52 121.81,275.29 122.44,275.05 123.07,274.81 123.71,274.56 124.34,274.31 124.97,274.04 125.6,273.77 126.23,273.5 126.86,273.23 127.49,272.96 128.12,272.69 128.75,272.43 129.38,272.16 130.01,271.9 130.64,271.65 131.27,271.39 131.91,271.14 132.54,270.88 133.17,270.64 133.8,270.39 134.43,270.15 135.06,269.9 135.69,269.67 136.32,269.43 136.95,269.2 137.58,268.97 138.21,268.74 138.84,268.51 139.47,268.29 140.1,268.07 140.74,267.85 141.37,267.64 142,267.42 142.63,267.2 143.26,266.99 143.89,266.78 144.52,266.57 145.15,266.36 145.78,266.15 146.41,265.95 147.04,265.75 147.67,265.55 148.3,265.35 148.94,265.16 149.57,264.97 150.2,264.79 150.83,264.6 151.46,264.43 152.09,264.25 152.72,264.08 153.35,263.91 153.98,263.75 154.61,263.6 155.24,263.44 155.87,263.28 156.5,263.11 157.14,262.94 157.77,262.77 158.4,262.59 159.03,262.42 159.66,262.25 160.29,262.09 160.92,261.93 161.55,261.77 162.18,261.63 162.81,261.49 163.44,261.36 164.07,261.25 164.7,261.15 165.33,261.06 165.97,260.99 166.6,260.94 167.23,260.9 167.86,260.89 168.49,272.27 169.12,286.89 169.75,297.47 170.38,305.79 171.01,313.28 171.64,321.5 172.27,329.06 172.9,334.2 173.53,338.4 174.17,342 174.8,345.12 175.43,347.89 176.06,350.41 176.69,352.78 177.32,355.01 177.95,357.1 178.58,359.05 179.21,360.87 179.84,362.55 180.47,364.11 181.1,365.54 181.73,366.84 182.37,368.06 183,369.23 183.63,370.34 184.26,371.41 184.89,372.42 185.52,373.38 186.15,374.29 186.78,375.16 187.41,375.97 188.04,376.74 188.67,377.47 189.3,378.15 189.93,378.78 190.56,379.39 191.2,379.98 191.83,380.56 192.46,381.12 193.09,381.67 193.72,382.2 194.35,382.71 194.98,383.21 195.61,383.69 196.24,384.15 196.87,384.59 197.5,385.02 198.13,385.43 198.76,385.81 199.4,386.18 200.03,386.53 200.66,386.86 201.29,387.17 201.92,387.45 202.55,387.72 203.18,387.96 203.81,388.19 204.44,388.41 205.07,388.62 205.7,388.82 206.33,389.02 206.96,389.2 207.59,389.38 208.23,389.55 208.86,389.71 209.49,389.87 210.12,390.02 210.75,390.17 211.38,390.31 212.01,390.46 212.64,390.6 213.27,390.73 213.9,390.87 214.53,391.01 215.16,391.14 215.79,391.28 216.43,391.42 217.06,391.56 217.69,391.71 218.32,391.86 218.95,392.01 219.58,392.17 220.21,392.33 220.84,392.5 221.47,392.68 222.1,392.86 222.73,393.05 223.36,393.24 223.99,393.43 224.63,393.62 225.26,393.81 225.89,393.99 226.52,394.17 227.15,394.34 227.78,394.51 228.41,394.66 229.04,394.8 229.67,394.93 230.3,395.04 230.93,395.15 231.56,395.25 232.19,395.36 232.83,395.46 233.46,395.57 234.09,395.67 234.72,395.77 235.35,395.87 235.98,395.98 236.61,396.08 237.24,396.18 237.87,396.28 238.5,396.37 239.13,396.47 239.76,396.57 240.39,396.66 241.02,396.76 241.66,396.85 242.29,396.94 242.92,397.03 243.55,397.12 244.18,397.21 244.81,397.3 245.44,397.38 246.07,397.47 246.7,397.55 247.33,397.63 247.96,397.71 248.59,397.79 249.22,397.87 249.86,397.94 250.49,398.01 251.12,398.08 251.75,398.15 252.38,398.22 253.01,398.28 253.64,398.35 254.27,398.41 254.9,398.47 255.53,398.52 256.16,398.58 256.79,398.63 257.42,398.68 258.06,398.72 258.69,398.77 259.32,398.81 259.95,398.85 260.58,398.89 261.21,398.92 261.84,398.95 262.47,398.98 263.1,399.01 263.73,399.03 264.36,399.05 264.99,399.07 265.62,399.08 266.25,399.09 266.89,399.1 267.52,399.11 268.15,399.11" fill="none" stroke="#f28c88" stroke-width="1.0" stroke-linejoin="round" clip-path="url(#cc)"/>
<g fill="#fff" stroke="#f5a9a5" stroke-width="0.7" clip-path="url(#cc)">
<circle cx="43.6" cy="405.43" r="1.9"/>
<circle cx="44.86" cy="405.65" r="1.9"/>
<circle cx="46.12" cy="405.87" r="1.9"/>
<circle cx="47.38" cy="406.08" r="1.9"/>
<circle cx="48.65" cy="406.28" r="1.9"/>
<circle cx="49.91" cy="406.48" r="1.9"/>
<circle cx="51.17" cy="406.66" r="1.9"/>
<circle cx="52.43" cy="406.83" r="1.9"/>
<circle cx="53.69" cy="406.99" r="1.9"/>
<circle cx="54.95" cy="407.13" r="1.9"/>
<circle cx="56.22" cy="407.26" r="1.9"/>
<circle cx="57.48" cy="407.37" r="1.9"/>
<circle cx="58.74" cy="407.46" r="1.9"/>
<circle cx="60" cy="407.55" r="1.9"/>
<circle cx="61.26" cy="407.63" r="1.9"/>
<circle cx="62.52" cy="407.7" r="1.9"/>
<circle cx="63.78" cy="407.77" r="1.9"/>
<circle cx="65.05" cy="407.83" r="1.9"/>
<circle cx="66.31" cy="407.89" r="1.9"/>
<circle cx="67.57" cy="407.95" r="1.9"/>
<circle cx="68.83" cy="408" r="1.9"/>
<circle cx="70.09" cy="408.04" r="1.9"/>
<circle cx="71.35" cy="408.08" r="1.9"/>
<circle cx="72.61" cy="408.11" r="1.9"/>
<circle cx="73.88" cy="408.14" r="1.9"/>
<circle cx="75.14" cy="408.16" r="1.9"/>
<circle cx="76.4" cy="408.19" r="1.9"/>
<circle cx="77.66" cy="408.21" r="1.9"/>
<circle cx="78.92" cy="408.23" r="1.9"/>
<circle cx="80.18" cy="408.25" r="1.9"/>
<circle cx="81.45" cy="408.27" r="1.9"/>
<circle cx="82.71" cy="408.29" r="1.9"/>
<circle cx="83.97" cy="408.3" r="1.9"/>
<circle cx="85.23" cy="408.32" r="1.9"/>
<circle cx="86.49" cy="408.33" r="1.9"/>
<circle cx="87.75" cy="408.34" r="1.9"/>
<circle cx="89.01" cy="408.35" r="1.9"/>
<circle cx="90.28" cy="408.36" r="1.9"/>
<circle cx="91.54" cy="408.36" r="1.9"/>
<circle cx="92.8" cy="408.37" r="1.9"/>
<circle cx="94.06" cy="407.3" r="1.9"/>
<circle cx="94.69" cy="398.84" r="1.9"/>
<circle cx="95.32" cy="385.71" r="1.9"/>
<circle cx="95.95" cy="368.3" r="1.9"/>
<circle cx="96.58" cy="353.36" r="1.9"/>
<circle cx="97.21" cy="340.21" r="1.9"/>
<circle cx="97.84" cy="330.94" r="1.9"/>
<circle cx="98.48" cy="323.63" r="1.9"/>
<circle cx="99.11" cy="317.92" r="1.9"/>
<circle cx="99.74" cy="313.01" r="1.9"/>
<circle cx="100.37" cy="308.72" r="1.9"/>
<circle cx="101" cy="305.04" r="1.9"/>
<circle cx="101.63" cy="301.99" r="1.9"/>
<circle cx="102.26" cy="299.37" r="1.9"/>
<circle cx="102.89" cy="296.96" r="1.9"/>
<circle cx="103.52" cy="294.77" r="1.9"/>
<circle cx="104.15" cy="292.78" r="1.9"/>
<circle cx="104.78" cy="290.97" r="1.9"/>
<circle cx="105.41" cy="289.35" r="1.9"/>
<circle cx="106.04" cy="287.89" r="1.9"/>
<circle cx="106.68" cy="286.57" r="1.9"/>
<circle cx="107.31" cy="285.35" r="1.9"/>
<circle cx="107.94" cy="284.21" r="1.9"/>
<circle cx="108.57" cy="283.18" r="1.9"/>
<circle cx="109.2" cy="282.29" r="1.9"/>
<circle cx="109.83" cy="281.56" r="1.9"/>
<circle cx="111.09" cy="280.52" r="1.9"/>
<circle cx="112.35" cy="279.63" r="1.9"/>
<circle cx="113.61" cy="278.84" r="1.9"/>
<circle cx="114.87" cy="278.15" r="1.9"/>
<circle cx="116.14" cy="277.53" r="1.9"/>
<circle cx="117.4" cy="276.98" r="1.9"/>
<circle cx="118.66" cy="276.47" r="1.9"/>
<circle cx="119.92" cy="275.99" r="1.9"/>
<circle cx="121.18" cy="275.52" r="1.9"/>
<circle cx="122.44" cy="275.05" r="1.9"/>
<circle cx="123.71" cy="274.56" r="1.9"/>
<circle cx="124.97" cy="274.04" r="1.9"/>
<circle cx="126.23" cy="273.5" r="1.9"/>
<circle cx="127.49" cy="272.96" r="1.9"/>
<circle cx="128.75" cy="272.43" r="1.9"/>
<circle cx="130.01" cy="271.9" r="1.9"/>
<circle cx="131.27" cy="271.39" r="1.9"/>
<circle cx="132.54" cy="270.88" r="1.9"/>
<circle cx="133.8" cy="270.39" r="1.9"/>
<circle cx="135.06" cy="269.9" r="1.9"/>
<circle cx="136.32" cy="269.43" r="1.9"/>
<circle cx="137.58" cy="268.97" r="1.9"/>
<circle cx="138.84" cy="268.51" r="1.9"/>
<circle cx="140.1" cy="268.07" r="1.9"/>
<circle cx="141.37" cy="267.64" r="1.9"/>
<circle cx="142.63" cy="267.2" r="1.9"/>
<circle cx="143.89" cy="266.78" r="1.9"/>
<circle cx="145.15" cy="266.36" r="1.9"/>
<circle cx="146.41" cy="265.95" r="1.9"/>
<circle cx="147.67" cy="265.55" r="1.9"/>
<circle cx="148.94" cy="265.16" r="1.9"/>
<circle cx="150.2" cy="264.79" r="1.9"/>
<circle cx="151.46" cy="264.43" r="1.9"/>
<circle cx="152.72" cy="264.08" r="1.9"/>
<circle cx="153.98" cy="263.75" r="1.9"/>
<circle cx="155.24" cy="263.44" r="1.9"/>
<circle cx="156.5" cy="263.11" r="1.9"/>
<circle cx="157.77" cy="262.77" r="1.9"/>
<circle cx="159.03" cy="262.42" r="1.9"/>
<circle cx="160.29" cy="262.09" r="1.9"/>
<circle cx="161.55" cy="261.77" r="1.9"/>
<circle cx="162.81" cy="261.49" r="1.9"/>
<circle cx="164.07" cy="261.25" r="1.9"/>
<circle cx="165.33" cy="261.06" r="1.9"/>
<circle cx="166.6" cy="260.94" r="1.9"/>
<circle cx="167.86" cy="260.89" r="1.9"/>
<circle cx="168.49" cy="272.27" r="1.9"/>
<circle cx="169.12" cy="286.89" r="1.9"/>
<circle cx="169.75" cy="297.47" r="1.9"/>
<circle cx="170.38" cy="305.79" r="1.9"/>
<circle cx="171.01" cy="313.28" r="1.9"/>
<circle cx="171.64" cy="321.5" r="1.9"/>
<circle cx="172.27" cy="329.06" r="1.9"/>
<circle cx="172.9" cy="334.2" r="1.9"/>
<circle cx="173.53" cy="338.4" r="1.9"/>
<circle cx="174.17" cy="342" r="1.9"/>
<circle cx="174.8" cy="345.12" r="1.9"/>
<circle cx="175.43" cy="347.89" r="1.9"/>
<circle cx="176.06" cy="350.41" r="1.9"/>
<circle cx="176.69" cy="352.78" r="1.9"/>
<circle cx="177.32" cy="355.01" r="1.9"/>
<circle cx="177.95" cy="357.1" r="1.9"/>
<circle cx="178.58" cy="359.05" r="1.9"/>
<circle cx="179.21" cy="360.87" r="1.9"/>
<circle cx="179.84" cy="362.55" r="1.9"/>
<circle cx="180.47" cy="364.11" r="1.9"/>
<circle cx="181.1" cy="365.54" r="1.9"/>
<circle cx="181.73" cy="366.84" r="1.9"/>
<circle cx="182.37" cy="368.06" r="1.9"/>
<circle cx="183" cy="369.23" r="1.9"/>
<circle cx="183.63" cy="370.34" r="1.9"/>
<circle cx="184.26" cy="371.41" r="1.9"/>
<circle cx="184.89" cy="372.42" r="1.9"/>
<circle cx="185.52" cy="373.38" r="1.9"/>
<circle cx="186.15" cy="374.29" r="1.9"/>
<circle cx="186.78" cy="375.16" r="1.9"/>
<circle cx="187.41" cy="375.97" r="1.9"/>
<circle cx="188.04" cy="376.74" r="1.9"/>
<circle cx="188.67" cy="377.47" r="1.9"/>
<circle cx="189.3" cy="378.15" r="1.9"/>
<circle cx="190.56" cy="379.39" r="1.9"/>
<circle cx="191.83" cy="380.56" r="1.9"/>
<circle cx="193.09" cy="381.67" r="1.9"/>
<circle cx="194.35" cy="382.71" r="1.9"/>
<circle cx="195.61" cy="383.69" r="1.9"/>
<circle cx="196.87" cy="384.59" r="1.9"/>
<circle cx="198.13" cy="385.43" r="1.9"/>
<circle cx="199.4" cy="386.18" r="1.9"/>
<circle cx="200.66" cy="386.86" r="1.9"/>
<circle cx="201.92" cy="387.45" r="1.9"/>
<circle cx="203.18" cy="387.96" r="1.9"/>
<circle cx="204.44" cy="388.41" r="1.9"/>
<circle cx="205.7" cy="388.82" r="1.9"/>
<circle cx="206.96" cy="389.2" r="1.9"/>
<circle cx="208.23" cy="389.55" r="1.9"/>
<circle cx="209.49" cy="389.87" r="1.9"/>
<circle cx="210.75" cy="390.17" r="1.9"/>
<circle cx="212.01" cy="390.46" r="1.9"/>
<circle cx="213.27" cy="390.73" r="1.9"/>
<circle cx="214.53" cy="391.01" r="1.9"/>
<circle cx="215.79" cy="391.28" r="1.9"/>
<circle cx="217.06" cy="391.56" r="1.9"/>
<circle cx="218.32" cy="391.86" r="1.9"/>
<circle cx="219.58" cy="392.17" r="1.9"/>
<circle cx="220.84" cy="392.5" r="1.9"/>
<circle cx="222.1" cy="392.86" r="1.9"/>
<circle cx="223.36" cy="393.24" r="1.9"/>
<circle cx="224.63" cy="393.62" r="1.9"/>
<circle cx="225.89" cy="393.99" r="1.9"/>
<circle cx="227.15" cy="394.34" r="1.9"/>
<circle cx="228.41" cy="394.66" r="1.9"/>
<circle cx="229.67" cy="394.93" r="1.9"/>
<circle cx="230.93" cy="395.15" r="1.9"/>
<circle cx="232.19" cy="395.36" r="1.9"/>
<circle cx="233.46" cy="395.57" r="1.9"/>
<circle cx="234.72" cy="395.77" r="1.9"/>
<circle cx="235.98" cy="395.98" r="1.9"/>
<circle cx="237.24" cy="396.18" r="1.9"/>
<circle cx="238.5" cy="396.37" r="1.9"/>
<circle cx="239.76" cy="396.57" r="1.9"/>
<circle cx="241.02" cy="396.76" r="1.9"/>
<circle cx="242.29" cy="396.94" r="1.9"/>
<circle cx="243.55" cy="397.12" r="1.9"/>
<circle cx="244.81" cy="397.3" r="1.9"/>
<circle cx="246.07" cy="397.47" r="1.9"/>
<circle cx="247.33" cy="397.63" r="1.9"/>
<circle cx="248.59" cy="397.79" r="1.9"/>
<circle cx="249.86" cy="397.94" r="1.9"/>
<circle cx="251.12" cy="398.08" r="1.9"/>
<circle cx="252.38" cy="398.22" r="1.9"/>
<circle cx="253.64" cy="398.35" r="1.9"/>
<circle cx="254.9" cy="398.47" r="1.9"/>
<circle cx="256.16" cy="398.58" r="1.9"/>
<circle cx="257.42" cy="398.68" r="1.9"/>
<circle cx="258.69" cy="398.77" r="1.9"/>
<circle cx="259.95" cy="398.85" r="1.9"/>
<circle cx="261.21" cy="398.92" r="1.9"/>
<circle cx="262.47" cy="398.98" r="1.9"/>
<circle cx="263.73" cy="399.03" r="1.9"/>
<circle cx="264.99" cy="399.07" r="1.9"/>
<circle cx="266.25" cy="399.09" r="1.9"/>
<circle cx="267.52" cy="399.11" r="1.9"/>
<circle cx="268.15" cy="399.11" r="1.9"/>
</g>
<polyline points="43.6,407.69 44.23,407.72 44.86,407.75 45.49,407.77 46.12,407.8 46.75,407.83 47.38,407.86 48.02,407.88 48.65,407.91 49.28,407.94 49.91,407.96 50.54,407.99 51.17,408.01 51.8,408.04 52.43,408.06 53.06,408.09 53.69,408.11 54.32,408.14 54.95,408.16 55.58,408.18 56.22,408.21 56.85,408.23 57.48,408.25 58.11,408.28 58.74,408.3 59.37,408.32 60,408.34 60.63,408.36 61.26,408.38 61.89,408.4 62.52,408.42 63.15,408.44 63.78,408.46 64.41,408.48 65.05,408.49 65.68,408.51 66.31,408.53 66.94,408.55 67.57,408.56 68.2,408.58 68.83,408.59 69.46,408.61 70.09,408.62 70.72,408.64 71.35,408.65 71.98,408.67 72.61,408.69 73.25,408.7 73.88,408.72 74.51,408.73 75.14,408.75 75.77,408.76 76.4,408.78 77.03,408.79 77.66,408.81 78.29,408.82 78.92,408.84 79.55,408.85 80.18,408.87 80.81,408.88 81.45,408.89 82.08,408.91 82.71,408.92 83.34,408.93 83.97,408.94 84.6,408.95 85.23,408.97 85.86,408.98 86.49,408.99 87.12,408.99 87.75,409 88.38,409.01 89.01,409.02 89.64,409.02 90.28,409.03 90.91,409.03 91.54,409.04 92.17,409.04 92.8,409.04 93.43,409.04 94.06,409.04 94.69,403.09 95.32,391.85 95.95,374.87 96.58,359.69 97.21,346.78 97.84,336.72 98.48,328.63 99.11,322.32 99.74,317.32 100.37,313 101,309.39 101.63,306.51 102.26,304.15 102.89,302.05 103.52,300.18 104.15,298.49 104.78,296.95 105.41,295.53 106.04,294.19 106.68,292.89 107.31,291.6 107.94,290.37 108.57,289.24 109.2,288.25 109.83,287.45 110.46,286.88 111.09,286.37 111.72,285.9 112.35,285.45 112.98,285.03 113.61,284.64 114.24,284.27 114.87,283.92 115.51,283.59 116.14,283.28 116.77,282.98 117.4,282.7 118.03,282.44 118.66,282.18 119.29,281.94 119.92,281.7 120.55,281.47 121.18,281.25 121.81,281.03 122.44,280.81 123.07,280.58 123.71,280.36 124.34,280.14 124.97,279.91 125.6,279.67 126.23,279.44 126.86,279.21 127.49,278.98 128.12,278.75 128.75,278.52 129.38,278.3 130.01,278.09 130.64,277.87 131.27,277.66 131.91,277.46 132.54,277.25 133.17,277.06 133.8,276.87 134.43,276.68 135.06,276.5 135.69,276.33 136.32,276.16 136.95,276 137.58,275.85 138.21,275.71 138.84,275.57 139.47,275.44 140.1,275.32 140.74,275.2 141.37,275.08 142,274.96 142.63,274.84 143.26,274.73 143.89,274.61 144.52,274.49 145.15,274.37 145.78,274.26 146.41,274.14 147.04,274.03 147.67,273.92 148.3,273.81 148.94,273.7 149.57,273.59 150.2,273.48 150.83,273.38 151.46,273.28 152.09,273.18 152.72,273.08 153.35,272.98 153.98,272.89 154.61,272.8 155.24,272.71 155.87,272.63 156.5,272.54 157.14,272.47 157.77,272.39 158.4,272.32 159.03,272.25 159.66,272.18 160.29,272.12 160.92,272.07 161.55,272.01 162.18,271.96 162.81,271.92 163.44,271.88 164.07,271.84 164.7,271.81 165.33,271.78 165.97,271.76 166.6,271.75 167.23,271.74 167.86,271.73 168.49,276.09 169.12,295.43 169.75,305.44 170.38,313.18 171.01,319.6 171.64,327.01 172.27,335.26 172.9,341.33 173.53,345.58 174.17,349.17 174.8,352.2 175.43,354.8 176.06,357.08 176.69,359.18 177.32,361.12 177.95,362.92 178.58,364.58 179.21,366.12 179.84,367.55 180.47,368.89 181.1,370.15 181.73,371.34 182.37,372.48 183,373.58 183.63,374.65 184.26,375.68 184.89,376.66 185.52,377.61 186.15,378.5 186.78,379.35 187.41,380.15 188.04,380.9 188.67,381.6 189.3,382.25 189.93,382.85 190.56,383.4 191.2,383.94 191.83,384.46 192.46,384.97 193.09,385.46 193.72,385.93 194.35,386.38 194.98,386.82 195.61,387.24 196.24,387.65 196.87,388.04 197.5,388.41 198.13,388.77 198.76,389.12 199.4,389.44 200.03,389.76 200.66,390.06 201.29,390.35 201.92,390.62 202.55,390.88 203.18,391.12 203.81,391.37 204.44,391.6 205.07,391.83 205.7,392.06 206.33,392.29 206.96,392.51 207.59,392.72 208.23,392.93 208.86,393.14 209.49,393.34 210.12,393.54 210.75,393.73 211.38,393.93 212.01,394.11 212.64,394.3 213.27,394.48 213.9,394.65 214.53,394.83 215.16,395 215.79,395.16 216.43,395.33 217.06,395.49 217.69,395.64 218.32,395.8 218.95,395.95 219.58,396.09 220.21,396.24 220.84,396.38 221.47,396.52 222.1,396.65 222.73,396.79 223.36,396.92 223.99,397.05 224.63,397.17 225.26,397.3 225.89,397.42 226.52,397.54 227.15,397.65 227.78,397.77 228.41,397.88 229.04,397.99 229.67,398.1 230.3,398.2 230.93,398.31 231.56,398.41 232.19,398.52 232.83,398.62 233.46,398.73 234.09,398.83 234.72,398.93 235.35,399.04 235.98,399.14 236.61,399.24 237.24,399.34 237.87,399.44 238.5,399.54 239.13,399.64 239.76,399.74 240.39,399.83 241.02,399.93 241.66,400.02 242.29,400.12 242.92,400.21 243.55,400.3 244.18,400.4 244.81,400.49 245.44,400.57 246.07,400.66 246.7,400.75 247.33,400.83 247.96,400.92 248.59,401 249.22,401.08 249.86,401.16 250.49,401.24 251.12,401.32 251.75,401.39 252.38,401.47 253.01,401.54 253.64,401.61 254.27,401.68 254.9,401.75 255.53,401.82 256.16,401.88 256.79,401.94 257.42,402 258.06,402.06 258.69,402.12 259.32,402.17 259.95,402.23 260.58,402.28 261.21,402.33 261.84,402.37 262.47,402.42 263.1,402.46 263.73,402.5 264.36,402.54 264.99,402.58 265.62,402.61 266.25,402.64 266.89,402.67 267.52,402.7 268.15,402.72" fill="none" stroke="#6cc4ae" stroke-width="1.0" stroke-linejoin="round" clip-path="url(#cc)"/>
<g fill="#fff" stroke="#93d3c3" stroke-width="0.7" clip-path="url(#cc)">
<circle cx="43.6" cy="407.69" r="1.9"/>
<circle cx="44.86" cy="407.75" r="1.9"/>
<circle cx="46.12" cy="407.8" r="1.9"/>
<circle cx="47.38" cy="407.86" r="1.9"/>
<circle cx="48.65" cy="407.91" r="1.9"/>
<circle cx="49.91" cy="407.96" r="1.9"/>
<circle cx="51.17" cy="408.01" r="1.9"/>
<circle cx="52.43" cy="408.06" r="1.9"/>
<circle cx="53.69" cy="408.11" r="1.9"/>
<circle cx="54.95" cy="408.16" r="1.9"/>
<circle cx="56.22" cy="408.21" r="1.9"/>
<circle cx="57.48" cy="408.25" r="1.9"/>
<circle cx="58.74" cy="408.3" r="1.9"/>
<circle cx="60" cy="408.34" r="1.9"/>
<circle cx="61.26" cy="408.38" r="1.9"/>
<circle cx="62.52" cy="408.42" r="1.9"/>
<circle cx="63.78" cy="408.46" r="1.9"/>
<circle cx="65.05" cy="408.49" r="1.9"/>
<circle cx="66.31" cy="408.53" r="1.9"/>
<circle cx="67.57" cy="408.56" r="1.9"/>
<circle cx="68.83" cy="408.59" r="1.9"/>
<circle cx="70.09" cy="408.62" r="1.9"/>
<circle cx="71.35" cy="408.65" r="1.9"/>
<circle cx="72.61" cy="408.69" r="1.9"/>
<circle cx="73.88" cy="408.72" r="1.9"/>
<circle cx="75.14" cy="408.75" r="1.9"/>
<circle cx="76.4" cy="408.78" r="1.9"/>
<circle cx="77.66" cy="408.81" r="1.9"/>
<circle cx="78.92" cy="408.84" r="1.9"/>
<circle cx="80.18" cy="408.87" r="1.9"/>
<circle cx="81.45" cy="408.89" r="1.9"/>
<circle cx="82.71" cy="408.92" r="1.9"/>
<circle cx="83.97" cy="408.94" r="1.9"/>
<circle cx="85.23" cy="408.97" r="1.9"/>
<circle cx="86.49" cy="408.99" r="1.9"/>
<circle cx="87.75" cy="409" r="1.9"/>
<circle cx="89.01" cy="409.02" r="1.9"/>
<circle cx="90.28" cy="409.03" r="1.9"/>
<circle cx="91.54" cy="409.04" r="1.9"/>
<circle cx="92.8" cy="409.04" r="1.9"/>
<circle cx="94.06" cy="409.04" r="1.9"/>
<circle cx="94.69" cy="403.09" r="1.9"/>
<circle cx="95.32" cy="391.85" r="1.9"/>
<circle cx="95.95" cy="374.87" r="1.9"/>
<circle cx="96.58" cy="359.69" r="1.9"/>
<circle cx="97.21" cy="346.78" r="1.9"/>
<circle cx="97.84" cy="336.72" r="1.9"/>
<circle cx="98.48" cy="328.63" r="1.9"/>
<circle cx="99.11" cy="322.32" r="1.9"/>
<circle cx="99.74" cy="317.32" r="1.9"/>
<circle cx="100.37" cy="313" r="1.9"/>
<circle cx="101" cy="309.39" r="1.9"/>
<circle cx="101.63" cy="306.51" r="1.9"/>
<circle cx="102.26" cy="304.15" r="1.9"/>
<circle cx="102.89" cy="302.05" r="1.9"/>
<circle cx="103.52" cy="300.18" r="1.9"/>
<circle cx="104.15" cy="298.49" r="1.9"/>
<circle cx="104.78" cy="296.95" r="1.9"/>
<circle cx="105.41" cy="295.53" r="1.9"/>
<circle cx="106.04" cy="294.19" r="1.9"/>
<circle cx="106.68" cy="292.89" r="1.9"/>
<circle cx="107.31" cy="291.6" r="1.9"/>
<circle cx="107.94" cy="290.37" r="1.9"/>
<circle cx="108.57" cy="289.24" r="1.9"/>
<circle cx="109.2" cy="288.25" r="1.9"/>
<circle cx="109.83" cy="287.45" r="1.9"/>
<circle cx="111.09" cy="286.37" r="1.9"/>
<circle cx="112.35" cy="285.45" r="1.9"/>
<circle cx="113.61" cy="284.64" r="1.9"/>
<circle cx="114.87" cy="283.92" r="1.9"/>
<circle cx="116.14" cy="283.28" r="1.9"/>
<circle cx="117.4" cy="282.7" r="1.9"/>
<circle cx="118.66" cy="282.18" r="1.9"/>
<circle cx="119.92" cy="281.7" r="1.9"/>
<circle cx="121.18" cy="281.25" r="1.9"/>
<circle cx="122.44" cy="280.81" r="1.9"/>
<circle cx="123.71" cy="280.36" r="1.9"/>
<circle cx="124.97" cy="279.91" r="1.9"/>
<circle cx="126.23" cy="279.44" r="1.9"/>
<circle cx="127.49" cy="278.98" r="1.9"/>
<circle cx="128.75" cy="278.52" r="1.9"/>
<circle cx="130.01" cy="278.09" r="1.9"/>
<circle cx="131.27" cy="277.66" r="1.9"/>
<circle cx="132.54" cy="277.25" r="1.9"/>
<circle cx="133.8" cy="276.87" r="1.9"/>
<circle cx="135.06" cy="276.5" r="1.9"/>
<circle cx="136.32" cy="276.16" r="1.9"/>
<circle cx="137.58" cy="275.85" r="1.9"/>
<circle cx="138.84" cy="275.57" r="1.9"/>
<circle cx="140.1" cy="275.32" r="1.9"/>
<circle cx="141.37" cy="275.08" r="1.9"/>
<circle cx="142.63" cy="274.84" r="1.9"/>
<circle cx="143.89" cy="274.61" r="1.9"/>
<circle cx="145.15" cy="274.37" r="1.9"/>
<circle cx="146.41" cy="274.14" r="1.9"/>
<circle cx="147.67" cy="273.92" r="1.9"/>
<circle cx="148.94" cy="273.7" r="1.9"/>
<circle cx="150.2" cy="273.48" r="1.9"/>
<circle cx="151.46" cy="273.28" r="1.9"/>
<circle cx="152.72" cy="273.08" r="1.9"/>
<circle cx="153.98" cy="272.89" r="1.9"/>
<circle cx="155.24" cy="272.71" r="1.9"/>
<circle cx="156.5" cy="272.54" r="1.9"/>
<circle cx="157.77" cy="272.39" r="1.9"/>
<circle cx="159.03" cy="272.25" r="1.9"/>
<circle cx="160.29" cy="272.12" r="1.9"/>
<circle cx="161.55" cy="272.01" r="1.9"/>
<circle cx="162.81" cy="271.92" r="1.9"/>
<circle cx="164.07" cy="271.84" r="1.9"/>
<circle cx="165.33" cy="271.78" r="1.9"/>
<circle cx="166.6" cy="271.75" r="1.9"/>
<circle cx="167.86" cy="271.73" r="1.9"/>
<circle cx="168.49" cy="276.09" r="1.9"/>
<circle cx="169.12" cy="295.43" r="1.9"/>
<circle cx="169.75" cy="305.44" r="1.9"/>
<circle cx="170.38" cy="313.18" r="1.9"/>
<circle cx="171.01" cy="319.6" r="1.9"/>
<circle cx="171.64" cy="327.01" r="1.9"/>
<circle cx="172.27" cy="335.26" r="1.9"/>
<circle cx="172.9" cy="341.33" r="1.9"/>
<circle cx="173.53" cy="345.58" r="1.9"/>
<circle cx="174.17" cy="349.17" r="1.9"/>
<circle cx="174.8" cy="352.2" r="1.9"/>
<circle cx="175.43" cy="354.8" r="1.9"/>
<circle cx="176.06" cy="357.08" r="1.9"/>
<circle cx="176.69" cy="359.18" r="1.9"/>
<circle cx="177.32" cy="361.12" r="1.9"/>
<circle cx="177.95" cy="362.92" r="1.9"/>
<circle cx="178.58" cy="364.58" r="1.9"/>
<circle cx="179.21" cy="366.12" r="1.9"/>
<circle cx="179.84" cy="367.55" r="1.9"/>
<circle cx="180.47" cy="368.89" r="1.9"/>
<circle cx="181.1" cy="370.15" r="1.9"/>
<circle cx="181.73" cy="371.34" r="1.9"/>
<circle cx="182.37" cy="372.48" r="1.9"/>
<circle cx="183" cy="373.58" r="1.9"/>
<circle cx="183.63" cy="374.65" r="1.9"/>
<circle cx="184.26" cy="375.68" r="1.9"/>
<circle cx="184.89" cy="376.66" r="1.9"/>
<circle cx="185.52" cy="377.61" r="1.9"/>
<circle cx="186.15" cy="378.5" r="1.9"/>
<circle cx="186.78" cy="379.35" r="1.9"/>
<circle cx="187.41" cy="380.15" r="1.9"/>
<circle cx="188.04" cy="380.9" r="1.9"/>
<circle cx="188.67" cy="381.6" r="1.9"/>
<circle cx="189.3" cy="382.25" r="1.9"/>
<circle cx="190.56" cy="383.4" r="1.9"/>
<circle cx="191.83" cy="384.46" r="1.9"/>
<circle cx="193.09" cy="385.46" r="1.9"/>
<circle cx="194.35" cy="386.38" r="1.9"/>
<circle cx="195.61" cy="387.24" r="1.9"/>
<circle cx="196.87" cy="388.04" r="1.9"/>
<circle cx="198.13" cy="388.77" r="1.9"/>
<circle cx="199.4" cy="389.44" r="1.9"/>
<circle cx="200.66" cy="390.06" r="1.9"/>
<circle cx="201.92" cy="390.62" r="1.9"/>
<circle cx="203.18" cy="391.12" r="1.9"/>
<circle cx="204.44" cy="391.6" r="1.9"/>
<circle cx="205.7" cy="392.06" r="1.9"/>
<circle cx="206.96" cy="392.51" r="1.9"/>
<circle cx="208.23" cy="392.93" r="1.9"/>
<circle cx="209.49" cy="393.34" r="1.9"/>
<circle cx="210.75" cy="393.73" r="1.9"/>
<circle cx="212.01" cy="394.11" r="1.9"/>
<circle cx="213.27" cy="394.48" r="1.9"/>
<circle cx="214.53" cy="394.83" r="1.9"/>
<circle cx="215.79" cy="395.16" r="1.9"/>
<circle cx="217.06" cy="395.49" r="1.9"/>
<circle cx="218.32" cy="395.8" r="1.9"/>
<circle cx="219.58" cy="396.09" r="1.9"/>
<circle cx="220.84" cy="396.38" r="1.9"/>
<circle cx="222.1" cy="396.65" r="1.9"/>
<circle cx="223.36" cy="396.92" r="1.9"/>
<circle cx="224.63" cy="397.17" r="1.9"/>
<circle cx="225.89" cy="397.42" r="1.9"/>
<circle cx="227.15" cy="397.65" r="1.9"/>
<circle cx="228.41" cy="397.88" r="1.9"/>
<circle cx="229.67" cy="398.1" r="1.9"/>
<circle cx="230.93" cy="398.31" r="1.9"/>
<circle cx="232.19" cy="398.52" r="1.9"/>
<circle cx="233.46" cy="398.73" r="1.9"/>
<circle cx="234.72" cy="398.93" r="1.9"/>
<circle cx="235.98" cy="399.14" r="1.9"/>
<circle cx="237.24" cy="399.34" r="1.9"/>
<circle cx="238.5" cy="399.54" r="1.9"/>
<circle cx="239.76" cy="399.74" r="1.9"/>
<circle cx="241.02" cy="399.93" r="1.9"/>
<circle cx="242.29" cy="400.12" r="1.9"/>
<circle cx="243.55" cy="400.3" r="1.9"/>
<circle cx="244.81" cy="400.49" r="1.9"/>
<circle cx="246.07" cy="400.66" r="1.9"/>
<circle cx="247.33" cy="400.83" r="1.9"/>
<circle cx="248.59" cy="401" r="1.9"/>
<circle cx="249.86" cy="401.16" r="1.9"/>
<circle cx="251.12" cy="401.32" r="1.9"/>
<circle cx="252.38" cy="401.47" r="1.9"/>
<circle cx="253.64" cy="401.61" r="1.9"/>
<circle cx="254.9" cy="401.75" r="1.9"/>
<circle cx="256.16" cy="401.88" r="1.9"/>
<circle cx="257.42" cy="402" r="1.9"/>
<circle cx="258.69" cy="402.12" r="1.9"/>
<circle cx="259.95" cy="402.23" r="1.9"/>
<circle cx="261.21" cy="402.33" r="1.9"/>
<circle cx="262.47" cy="402.42" r="1.9"/>
<circle cx="263.73" cy="402.5" r="1.9"/>
<circle cx="264.99" cy="402.58" r="1.9"/>
<circle cx="266.25" cy="402.64" r="1.9"/>
<circle cx="267.52" cy="402.7" r="1.9"/>
<circle cx="268.15" cy="402.72" r="1.9"/>
</g>
<polyline points="43.6,408.14 44.23,408.16 44.86,408.18 45.49,408.2 46.12,408.22 46.75,408.23 47.38,408.25 48.02,408.27 48.65,408.28 49.28,408.3 49.91,408.32 50.54,408.33 51.17,408.35 51.8,408.37 52.43,408.38 53.06,408.39 53.69,408.41 54.32,408.42 54.95,408.44 55.58,408.45 56.22,408.46 56.85,408.47 57.48,408.48 58.11,408.5 58.74,408.51 59.37,408.52 60,408.53 60.63,408.53 61.26,408.54 61.89,408.55 62.52,408.56 63.15,408.56 63.78,408.57 64.41,408.58 65.05,408.58 65.68,408.58 66.31,408.59 66.94,408.59 67.57,408.59 68.2,408.59 68.83,408.59 69.46,408.59 70.09,408.59 70.72,408.59 71.35,408.59 71.98,408.59 72.61,408.59 73.25,408.59 73.88,408.59 74.51,408.59 75.14,408.59 75.77,408.59 76.4,408.59 77.03,408.59 77.66,408.59 78.29,408.59 78.92,408.59 79.55,408.59 80.18,408.59 80.81,408.59 81.45,408.59 82.08,408.02 82.71,406.71 83.34,405.24 83.97,403.89 84.6,402.39 85.23,400.96 85.86,399.76 86.49,398.66 87.12,397.67 87.75,396.85 88.38,396.16 89.01,395.55 89.64,395.02 90.28,394.59 90.91,394.31 91.54,394.14 92.17,393.96 92.8,393.65 93.43,392.76 94.06,383.55 94.69,370.48 95.32,353.53 95.95,338.16 96.58,324.58 97.21,313.59 97.84,306.4 98.48,301.44 99.11,297.62 99.74,294.68 100.37,292.25 101,290.16 101.63,288.36 102.26,286.75 102.89,285.28 103.52,283.85 104.15,282.45 104.78,281.07 105.41,279.72 106.04,278.42 106.68,277.18 107.31,276 107.94,274.9 108.57,273.88 109.2,272.95 109.83,272.13 110.46,271.42 111.09,270.83 111.72,270.37 112.35,270 112.98,269.64 113.61,269.31 114.24,269 114.87,268.71 115.51,268.43 116.14,268.18 116.77,267.93 117.4,267.71 118.03,267.49 118.66,267.29 119.29,267.1 119.92,266.92 120.55,266.75 121.18,266.59 121.81,266.43 122.44,266.28 123.07,266.14 123.71,266 124.34,265.86 124.97,265.72 125.6,265.58 126.23,265.43 126.86,265.29 127.49,265.15 128.12,265.02 128.75,264.88 129.38,264.75 130.01,264.62 130.64,264.5 131.27,264.38 131.91,264.26 132.54,264.16 133.17,264.06 133.8,263.97 134.43,263.88 135.06,263.81 135.69,263.74 136.32,263.69 136.95,263.65 137.58,263.62 138.21,263.6 138.84,263.6 139.47,263.6 140.1,263.6 140.74,263.6 141.37,263.6 142,263.6 142.63,263.6 143.26,263.6 143.89,263.6 144.52,263.6 145.15,263.6 145.78,263.6 146.41,263.6 147.04,263.6 147.67,263.6 148.3,263.6 148.94,263.6 149.57,263.6 150.2,263.6 150.83,263.6 151.46,263.6 152.09,263.6 152.72,263.6 153.35,263.6 153.98,263.6 154.61,263.6 155.24,263.6 155.87,263.6 156.5,263.6 157.14,263.61 157.77,263.61 158.4,263.62 159.03,263.63 159.66,263.65 160.29,263.67 160.92,263.69 161.55,263.72 162.18,263.76 162.81,263.79 163.44,263.84 164.07,263.89 164.7,263.95 165.33,264.01 165.97,264.08 166.6,264.16 167.23,264.25 167.86,264.35 168.49,264.46 169.12,272.22 169.75,289.01 170.38,299.97 171.01,309.67 171.64,318.4 172.27,326.78 172.9,334.53 173.53,340.07 174.17,344.36 174.8,347.95 175.43,350.98 176.06,353.6 176.69,356.01 177.32,358.26 177.95,360.35 178.58,362.3 179.21,364.1 179.84,365.76 180.47,367.29 181.1,368.7 181.73,370 182.37,371.22 183,372.4 183.63,373.53 184.26,374.61 184.89,375.63 185.52,376.61 186.15,377.53 186.78,378.4 187.41,379.21 188.04,379.98 188.67,380.69 189.3,381.34 189.93,381.94 190.56,382.51 191.2,383.05 191.83,383.58 192.46,384.09 193.09,384.58 193.72,385.06 194.35,385.52 194.98,385.96 195.61,386.38 196.24,386.79 196.87,387.18 197.5,387.55 198.13,387.91 198.76,388.25 199.4,388.58 200.03,388.89 200.66,389.18 201.29,389.46 201.92,389.73 202.55,389.98 203.18,390.21 203.81,390.45 204.44,390.67 205.07,390.89 205.7,391.11 206.33,391.32 206.96,391.53 207.59,391.74 208.23,391.94 208.86,392.13 209.49,392.33 210.12,392.51 210.75,392.7 211.38,392.88 212.01,393.06 212.64,393.23 213.27,393.4 213.9,393.56 214.53,393.73 215.16,393.89 215.79,394.04 216.43,394.19 217.06,394.34 217.69,394.49 218.32,394.63 218.95,394.77 219.58,394.91 220.21,395.04 220.84,395.17 221.47,395.3 222.1,395.43 222.73,395.55 223.36,395.67 223.99,395.79 224.63,395.9 225.26,396.02 225.89,396.13 226.52,396.24 227.15,396.34 227.78,396.45 228.41,396.55 229.04,396.65 229.67,396.75 230.3,396.85 230.93,396.95 231.56,397.04 232.19,397.14 232.83,397.23 233.46,397.33 234.09,397.42 234.72,397.52 235.35,397.61 235.98,397.7 236.61,397.8 237.24,397.89 237.87,397.98 238.5,398.07 239.13,398.16 239.76,398.25 240.39,398.34 241.02,398.43 241.66,398.51 242.29,398.6 242.92,398.68 243.55,398.77 244.18,398.85 244.81,398.93 245.44,399.01 246.07,399.09 246.7,399.17 247.33,399.25 247.96,399.33 248.59,399.4 249.22,399.48 249.86,399.55 250.49,399.62 251.12,399.69 251.75,399.76 252.38,399.83 253.01,399.89 253.64,399.96 254.27,400.02 254.9,400.08 255.53,400.14 256.16,400.19 256.79,400.25 257.42,400.3 258.06,400.36 258.69,400.41 259.32,400.46 259.95,400.5 260.58,400.55 261.21,400.59 261.84,400.63 262.47,400.67 263.1,400.7 263.73,400.74 264.36,400.77 264.99,400.8 265.62,400.83 266.25,400.85 266.89,400.88 267.52,400.9 268.15,400.91" fill="none" stroke="#b5d99c" stroke-width="1.0" stroke-linejoin="round" clip-path="url(#cc)"/>
<g fill="#fff" stroke="#c6e3b3" stroke-width="0.7" clip-path="url(#cc)">
<circle cx="43.6" cy="408.14" r="1.9"/>
<circle cx="44.86" cy="408.18" r="1.9"/>
<circle cx="46.12" cy="408.22" r="1.9"/>
<circle cx="47.38" cy="408.25" r="1.9"/>
<circle cx="48.65" cy="408.28" r="1.9"/>
<circle cx="49.91" cy="408.32" r="1.9"/>
<circle cx="51.17" cy="408.35" r="1.9"/>
<circle cx="52.43" cy="408.38" r="1.9"/>
<circle cx="53.69" cy="408.41" r="1.9"/>
<circle cx="54.95" cy="408.44" r="1.9"/>
<circle cx="56.22" cy="408.46" r="1.9"/>
<circle cx="57.48" cy="408.48" r="1.9"/>
<circle cx="58.74" cy="408.51" r="1.9"/>
<circle cx="60" cy="408.53" r="1.9"/>
<circle cx="61.26" cy="408.54" r="1.9"/>
<circle cx="62.52" cy="408.56" r="1.9"/>
<circle cx="63.78" cy="408.57" r="1.9"/>
<circle cx="65.05" cy="408.58" r="1.9"/>
<circle cx="66.31" cy="408.59" r="1.9"/>
<circle cx="67.57" cy="408.59" r="1.9"/>
<circle cx="68.83" cy="408.59" r="1.9"/>
<circle cx="70.09" cy="408.59" r="1.9"/>
<circle cx="71.35" cy="408.59" r="1.9"/>
<circle cx="72.61" cy="408.59" r="1.9"/>
<circle cx="73.88" cy="408.59" r="1.9"/>
<circle cx="75.14" cy="408.59" r="1.9"/>
<circle cx="76.4" cy="408.59" r="1.9"/>
<circle cx="77.66" cy="408.59" r="1.9"/>
<circle cx="78.92" cy="408.59" r="1.9"/>
<circle cx="80.18" cy="408.59" r="1.9"/>
<circle cx="81.45" cy="408.59" r="1.9"/>
<circle cx="82.71" cy="406.71" r="1.9"/>
<circle cx="83.34" cy="405.24" r="1.9"/>
<circle cx="83.97" cy="403.89" r="1.9"/>
<circle cx="84.6" cy="402.39" r="1.9"/>
<circle cx="85.23" cy="400.96" r="1.9"/>
<circle cx="85.86" cy="399.76" r="1.9"/>
<circle cx="86.49" cy="398.66" r="1.9"/>
<circle cx="87.12" cy="397.67" r="1.9"/>
<circle cx="87.75" cy="396.85" r="1.9"/>
<circle cx="88.38" cy="396.16" r="1.9"/>
<circle cx="89.64" cy="395.02" r="1.9"/>
<circle cx="90.91" cy="394.31" r="1.9"/>
<circle cx="92.17" cy="393.96" r="1.9"/>
<circle cx="93.43" cy="392.76" r="1.9"/>
<circle cx="94.06" cy="383.55" r="1.9"/>
<circle cx="94.69" cy="370.48" r="1.9"/>
<circle cx="95.32" cy="353.53" r="1.9"/>
<circle cx="95.95" cy="338.16" r="1.9"/>
<circle cx="96.58" cy="324.58" r="1.9"/>
<circle cx="97.21" cy="313.59" r="1.9"/>
<circle cx="97.84" cy="306.4" r="1.9"/>
<circle cx="98.48" cy="301.44" r="1.9"/>
<circle cx="99.11" cy="297.62" r="1.9"/>
<circle cx="99.74" cy="294.68" r="1.9"/>
<circle cx="100.37" cy="292.25" r="1.9"/>
<circle cx="101" cy="290.16" r="1.9"/>
<circle cx="101.63" cy="288.36" r="1.9"/>
<circle cx="102.26" cy="286.75" r="1.9"/>
<circle cx="102.89" cy="285.28" r="1.9"/>
<circle cx="103.52" cy="283.85" r="1.9"/>
<circle cx="104.15" cy="282.45" r="1.9"/>
<circle cx="104.78" cy="281.07" r="1.9"/>
<circle cx="105.41" cy="279.72" r="1.9"/>
<circle cx="106.04" cy="278.42" r="1.9"/>
<circle cx="106.68" cy="277.18" r="1.9"/>
<circle cx="107.31" cy="276" r="1.9"/>
<circle cx="107.94" cy="274.9" r="1.9"/>
<circle cx="108.57" cy="273.88" r="1.9"/>
<circle cx="109.2" cy="272.95" r="1.9"/>
<circle cx="109.83" cy="272.13" r="1.9"/>
<circle cx="110.46" cy="271.42" r="1.9"/>
<circle cx="111.72" cy="270.37" r="1.9"/>
<circle cx="112.98" cy="269.64" r="1.9"/>
<circle cx="114.24" cy="269" r="1.9"/>
<circle cx="115.51" cy="268.43" r="1.9"/>
<circle cx="116.77" cy="267.93" r="1.9"/>
<circle cx="118.03" cy="267.49" r="1.9"/>
<circle cx="119.29" cy="267.1" r="1.9"/>
<circle cx="120.55" cy="266.75" r="1.9"/>
<circle cx="121.81" cy="266.43" r="1.9"/>
<circle cx="123.07" cy="266.14" r="1.9"/>
<circle cx="124.34" cy="265.86" r="1.9"/>
<circle cx="125.6" cy="265.58" r="1.9"/>
<circle cx="126.86" cy="265.29" r="1.9"/>
<circle cx="128.12" cy="265.02" r="1.9"/>
<circle cx="129.38" cy="264.75" r="1.9"/>
<circle cx="130.64" cy="264.5" r="1.9"/>
<circle cx="131.91" cy="264.26" r="1.9"/>
<circle cx="133.17" cy="264.06" r="1.9"/>
<circle cx="134.43" cy="263.88" r="1.9"/>
<circle cx="135.69" cy="263.74" r="1.9"/>
<circle cx="136.95" cy="263.65" r="1.9"/>
<circle cx="138.21" cy="263.6" r="1.9"/>
<circle cx="139.47" cy="263.6" r="1.9"/>
<circle cx="140.74" cy="263.6" r="1.9"/>
<circle cx="142" cy="263.6" r="1.9"/>
<circle cx="143.26" cy="263.6" r="1.9"/>
<circle cx="144.52" cy="263.6" r="1.9"/>
<circle cx="145.78" cy="263.6" r="1.9"/>
<circle cx="147.04" cy="263.6" r="1.9"/>
<circle cx="148.3" cy="263.6" r="1.9"/>
<circle cx="149.57" cy="263.6" r="1.9"/>
<circle cx="150.83" cy="263.6" r="1.9"/>
<circle cx="152.09" cy="263.6" r="1.9"/>
<circle cx="153.35" cy="263.6" r="1.9"/>
<circle cx="154.61" cy="263.6" r="1.9"/>
<circle cx="155.87" cy="263.6" r="1.9"/>
<circle cx="157.14" cy="263.61" r="1.9"/>
<circle cx="158.4" cy="263.62" r="1.9"/>
<circle cx="159.66" cy="263.65" r="1.9"/>
<circle cx="160.92" cy="263.69" r="1.9"/>
<circle cx="162.18" cy="263.76" r="1.9"/>
<circle cx="163.44" cy="263.84" r="1.9"/>
<circle cx="164.7" cy="263.95" r="1.9"/>
<circle cx="165.97" cy="264.08" r="1.9"/>
<circle cx="167.23" cy="264.25" r="1.9"/>
<circle cx="168.49" cy="264.46" r="1.9"/>
<circle cx="169.12" cy="272.22" r="1.9"/>
<circle cx="169.75" cy="289.01" r="1.9"/>
<circle cx="170.38" cy="299.97" r="1.9"/>
<circle cx="171.01" cy="309.67" r="1.9"/>
<circle cx="171.64" cy="318.4" r="1.9"/>
<circle cx="172.27" cy="326.78" r="1.9"/>
<circle cx="172.9" cy="334.53" r="1.9"/>
<circle cx="173.53" cy="340.07" r="1.9"/>
<circle cx="174.17" cy="344.36" r="1.9"/>
<circle cx="174.8" cy="347.95" r="1.9"/>
<circle cx="175.43" cy="350.98" r="1.9"/>
<circle cx="176.06" cy="353.6" r="1.9"/>
<circle cx="176.69" cy="356.01" r="1.9"/>
<circle cx="177.32" cy="358.26" r="1.9"/>
<circle cx="177.95" cy="360.35" r="1.9"/>
<circle cx="178.58" cy="362.3" r="1.9"/>
<circle cx="179.21" cy="364.1" r="1.9"/>
<circle cx="179.84" cy="365.76" r="1.9"/>
<circle cx="180.47" cy="367.29" r="1.9"/>
<circle cx="181.1" cy="368.7" r="1.9"/>
<circle cx="181.73" cy="370" r="1.9"/>
<circle cx="182.37" cy="371.22" r="1.9"/>
<circle cx="183" cy="372.4" r="1.9"/>
<circle cx="183.63" cy="373.53" r="1.9"/>
<circle cx="184.26" cy="374.61" r="1.9"/>
<circle cx="184.89" cy="375.63" r="1.9"/>
<circle cx="185.52" cy="376.61" r="1.9"/>
<circle cx="186.15" cy="377.53" r="1.9"/>
<circle cx="186.78" cy="378.4" r="1.9"/>
<circle cx="187.41" cy="379.21" r="1.9"/>
<circle cx="188.04" cy="379.98" r="1.9"/>
<circle cx="188.67" cy="380.69" r="1.9"/>
<circle cx="189.3" cy="381.34" r="1.9"/>
<circle cx="190.56" cy="382.51" r="1.9"/>
<circle cx="191.83" cy="383.58" r="1.9"/>
<circle cx="193.09" cy="384.58" r="1.9"/>
<circle cx="194.35" cy="385.52" r="1.9"/>
<circle cx="195.61" cy="386.38" r="1.9"/>
<circle cx="196.87" cy="387.18" r="1.9"/>
<circle cx="198.13" cy="387.91" r="1.9"/>
<circle cx="199.4" cy="388.58" r="1.9"/>
<circle cx="200.66" cy="389.18" r="1.9"/>
<circle cx="201.92" cy="389.73" r="1.9"/>
<circle cx="203.18" cy="390.21" r="1.9"/>
<circle cx="204.44" cy="390.67" r="1.9"/>
<circle cx="205.7" cy="391.11" r="1.9"/>
<circle cx="206.96" cy="391.53" r="1.9"/>
<circle cx="208.23" cy="391.94" r="1.9"/>
<circle cx="209.49" cy="392.33" r="1.9"/>
<circle cx="210.75" cy="392.7" r="1.9"/>
<circle cx="212.01" cy="393.06" r="1.9"/>
<circle cx="213.27" cy="393.4" r="1.9"/>
<circle cx="214.53" cy="393.73" r="1.9"/>
<circle cx="215.79" cy="394.04" r="1.9"/>
<circle cx="217.06" cy="394.34" r="1.9"/>
<circle cx="218.32" cy="394.63" r="1.9"/>
<circle cx="219.58" cy="394.91" r="1.9"/>
<circle cx="220.84" cy="395.17" r="1.9"/>
<circle cx="222.1" cy="395.43" r="1.9"/>
<circle cx="223.36" cy="395.67" r="1.9"/>
<circle cx="224.63" cy="395.9" r="1.9"/>
<circle cx="225.89" cy="396.13" r="1.9"/>
<circle cx="227.15" cy="396.34" r="1.9"/>
<circle cx="228.41" cy="396.55" r="1.9"/>
<circle cx="229.67" cy="396.75" r="1.9"/>
<circle cx="230.93" cy="396.95" r="1.9"/>
<circle cx="232.19" cy="397.14" r="1.9"/>
<circle cx="233.46" cy="397.33" r="1.9"/>
<circle cx="234.72" cy="397.52" r="1.9"/>
<circle cx="235.98" cy="397.7" r="1.9"/>
<circle cx="237.24" cy="397.89" r="1.9"/>
<circle cx="238.5" cy="398.07" r="1.9"/>
<circle cx="239.76" cy="398.25" r="1.9"/>
<circle cx="241.02" cy="398.43" r="1.9"/>
<circle cx="242.29" cy="398.6" r="1.9"/>
<circle cx="243.55" cy="398.77" r="1.9"/>
<circle cx="244.81" cy="398.93" r="1.9"/>
<circle cx="246.07" cy="399.09" r="1.9"/>
<circle cx="247.33" cy="399.25" r="1.9"/>
<circle cx="248.59" cy="399.4" r="1.9"/>
<circle cx="249.86" cy="399.55" r="1.9"/>
<circle cx="251.12" cy="399.69" r="1.9"/>
<circle cx="252.38" cy="399.83" r="1.9"/>
<circle cx="253.64" cy="399.96" r="1.9"/>
<circle cx="254.9" cy="400.08" r="1.9"/>
<circle cx="256.16" cy="400.19" r="1.9"/>
<circle cx="257.42" cy="400.3" r="1.9"/>
<circle cx="258.69" cy="400.41" r="1.9"/>
<circle cx="259.95" cy="400.5" r="1.9"/>
<circle cx="261.21" cy="400.59" r="1.9"/>
<circle cx="262.47" cy="400.67" r="1.9"/>
<circle cx="263.73" cy="400.74" r="1.9"/>
<circle cx="264.99" cy="400.8" r="1.9"/>
<circle cx="266.25" cy="400.85" r="1.9"/>
<circle cx="267.52" cy="400.9" r="1.9"/>
<circle cx="268.15" cy="400.91" r="1.9"/>
</g>
<polyline points="43.6,409.04 44.23,409.07 44.86,409.1 45.49,409.13 46.12,409.16 46.75,409.18 47.38,409.21 48.02,409.24 48.65,409.26 49.28,409.29 49.91,409.32 50.54,409.34 51.17,409.37 51.8,409.39 52.43,409.42 53.06,409.44 53.69,409.47 54.32,409.49 54.95,409.51 55.58,409.54 56.22,409.56 56.85,409.58 57.48,409.61 58.11,409.63 58.74,409.65 59.37,409.67 60,409.69 60.63,409.71 61.26,409.73 61.89,409.75 62.52,409.77 63.15,409.79 63.78,409.81 64.41,409.83 65.05,409.85 65.68,409.87 66.31,409.88 66.94,409.9 67.57,409.92 68.2,409.93 68.83,409.95 69.46,409.96 70.09,409.98 70.72,409.99 71.35,410.01 71.98,410.03 72.61,410.04 73.25,410.06 73.88,410.07 74.51,410.09 75.14,410.11 75.77,410.12 76.4,410.14 77.03,410.15 77.66,410.17 78.29,410.18 78.92,410.2 79.55,410.21 80.18,410.23 80.81,410.24 81.45,410.25 82.08,410.27 82.71,410.28 83.34,410.29 83.97,410.3 84.6,410.32 85.23,410.33 85.86,410.34 86.49,410.35 87.12,410.35 87.75,410.36 88.38,410.37 89.01,410.38 89.64,410.38 90.28,410.39 90.91,410.39 91.54,410.4 92.17,410.4 92.8,410.4 93.43,410.4 94.06,407.9 94.69,400.91 95.32,389.62 95.95,375.44 96.58,362.9 97.21,351.21 97.84,342.81 98.48,336.36 99.11,332.21 99.74,329.37 100.37,327.12 101,325.07 101.63,323.06 102.26,321.14 102.89,319.31 103.52,317.57 104.15,315.94 104.78,314.42 105.41,313.02 106.04,311.73 106.68,310.57 107.31,309.48 107.94,308.43 108.57,307.44 109.2,306.49 109.83,305.6 110.46,304.75 111.09,303.95 111.72,303.19 112.35,302.49 112.98,301.82 113.61,301.21 114.24,300.62 114.87,300.06 115.51,299.52 116.14,299 116.77,298.51 117.4,298.05 118.03,297.63 118.66,297.25 119.29,296.91 119.92,296.62 120.55,296.37 121.18,296.13 121.81,295.89 122.44,295.66 123.07,295.43 123.71,295.22 124.34,295.01 124.97,294.8 125.6,294.6 126.23,294.41 126.86,294.23 127.49,294.05 128.12,293.88 128.75,293.71 129.38,293.55 130.01,293.4 130.64,293.25 131.27,293.1 131.91,292.96 132.54,292.83 133.17,292.7 133.8,292.58 134.43,292.46 135.06,292.34 135.69,292.24 136.32,292.13 136.95,292.03 137.58,291.93 138.21,291.84 138.84,291.75 139.47,291.67 140.1,291.59 140.74,291.51 141.37,291.43 142,291.35 142.63,291.27 143.26,291.19 143.89,291.12 144.52,291.04 145.15,290.96 145.78,290.89 146.41,290.82 147.04,290.74 147.67,290.67 148.3,290.6 148.94,290.53 149.57,290.46 150.2,290.4 150.83,290.33 151.46,290.27 152.09,290.2 152.72,290.14 153.35,290.08 153.98,290.02 154.61,289.97 155.24,289.91 155.87,289.86 156.5,289.81 157.14,289.77 157.77,289.72 158.4,289.68 159.03,289.64 159.66,289.6 160.29,289.56 160.92,289.53 161.55,289.5 162.18,289.47 162.81,289.44 163.44,289.42 164.07,289.4 164.7,289.38 165.33,289.37 165.97,289.36 166.6,289.35 167.23,289.35 167.86,290.56 168.49,311.03 169.12,323.37 169.75,332.29 170.38,339.01 171.01,344.9 171.64,350.98 172.27,356.55 172.9,360.42 173.53,363.07 174.17,365.22 174.8,367.05 175.43,368.73 176.06,370.44 176.69,372.16 177.32,373.88 177.95,375.56 178.58,377.2 179.21,378.76 179.84,380.24 180.47,381.62 181.1,382.87 181.73,383.98 182.37,384.93 183,385.7 183.63,386.38 184.26,387.03 184.89,387.65 185.52,388.23 186.15,388.78 186.78,389.3 187.41,389.79 188.04,390.25 188.67,390.7 189.3,391.12 189.93,391.51 190.56,391.89 191.2,392.25 191.83,392.6 192.46,392.93 193.09,393.24 193.72,393.55 194.35,393.85 194.98,394.14 195.61,394.42 196.24,394.69 196.87,394.95 197.5,395.2 198.13,395.44 198.76,395.67 199.4,395.9 200.03,396.11 200.66,396.32 201.29,396.53 201.92,396.73 202.55,396.92 203.18,397.11 203.81,397.3 204.44,397.48 205.07,397.66 205.7,397.84 206.33,398.02 206.96,398.2 207.59,398.38 208.23,398.56 208.86,398.74 209.49,398.92 210.12,399.11 210.75,399.3 211.38,399.49 212.01,399.68 212.64,399.87 213.27,400.07 213.9,400.26 214.53,400.46 215.16,400.66 215.79,400.85 216.43,401.05 217.06,401.24 217.69,401.44 218.32,401.63 218.95,401.82 219.58,402.01 220.21,402.19 220.84,402.38 221.47,402.55 222.1,402.73 222.73,402.9 223.36,403.07 223.99,403.23 224.63,403.39 225.26,403.54 225.89,403.69 226.52,403.83 227.15,403.96 227.78,404.09 228.41,404.21 229.04,404.32 229.67,404.43 230.3,404.53 230.93,404.62 231.56,404.71 232.19,404.81 232.83,404.9 233.46,404.99 234.09,405.08 234.72,405.17 235.35,405.26 235.98,405.35 236.61,405.44 237.24,405.53 237.87,405.62 238.5,405.71 239.13,405.79 239.76,405.88 240.39,405.97 241.02,406.05 241.66,406.13 242.29,406.21 242.92,406.29 243.55,406.37 244.18,406.45 244.81,406.53 245.44,406.61 246.07,406.68 246.7,406.75 247.33,406.83 247.96,406.9 248.59,406.97 249.22,407.03 249.86,407.1 250.49,407.17 251.12,407.23 251.75,407.29 252.38,407.35 253.01,407.41 253.64,407.46 254.27,407.52 254.9,407.57 255.53,407.62 256.16,407.67 256.79,407.71 257.42,407.76 258.06,407.8 258.69,407.84 259.32,407.88 259.95,407.91 260.58,407.94 261.21,407.98 261.84,408 262.47,408.03 263.1,408.05 263.73,408.07 264.36,408.09 264.99,408.11 265.62,408.12 266.25,408.13 266.89,408.14 267.52,408.14 268.15,408.14" fill="none" stroke="#3580bd" stroke-width="1.4" stroke-linejoin="round" clip-path="url(#cc)"/>
<g fill="#fff" stroke="#4a8fc6" stroke-width="0.7" clip-path="url(#cc)">
<path d="M43.6 406.64L46 409.04L43.6 411.44L41.2 409.04Z"/>
<path d="M44.86 406.7L47.26 409.1L44.86 411.5L42.46 409.1Z"/>
<path d="M46.12 406.76L48.52 409.16L46.12 411.56L43.72 409.16Z"/>
<path d="M47.38 406.81L49.78 409.21L47.38 411.61L44.98 409.21Z"/>
<path d="M48.65 406.86L51.05 409.26L48.65 411.66L46.25 409.26Z"/>
<path d="M49.91 406.92L52.31 409.32L49.91 411.72L47.51 409.32Z"/>
<path d="M51.17 406.97L53.57 409.37L51.17 411.77L48.77 409.37Z"/>
<path d="M52.43 407.02L54.83 409.42L52.43 411.82L50.03 409.42Z"/>
<path d="M53.69 407.07L56.09 409.47L53.69 411.87L51.29 409.47Z"/>
<path d="M54.95 407.11L57.35 409.51L54.95 411.91L52.55 409.51Z"/>
<path d="M56.22 407.16L58.62 409.56L56.22 411.96L53.82 409.56Z"/>
<path d="M57.48 407.21L59.88 409.61L57.48 412.01L55.08 409.61Z"/>
<path d="M58.74 407.25L61.14 409.65L58.74 412.05L56.34 409.65Z"/>
<path d="M60 407.29L62.4 409.69L60 412.09L57.6 409.69Z"/>
<path d="M61.26 407.33L63.66 409.73L61.26 412.13L58.86 409.73Z"/>
<path d="M62.52 407.37L64.92 409.77L62.52 412.17L60.12 409.77Z"/>
<path d="M63.78 407.41L66.18 409.81L63.78 412.21L61.38 409.81Z"/>
<path d="M65.05 407.45L67.45 409.85L65.05 412.25L62.65 409.85Z"/>
<path d="M66.31 407.48L68.71 409.88L66.31 412.28L63.91 409.88Z"/>
<path d="M67.57 407.52L69.97 409.92L67.57 412.32L65.17 409.92Z"/>
<path d="M68.83 407.55L71.23 409.95L68.83 412.35L66.43 409.95Z"/>
<path d="M70.09 407.58L72.49 409.98L70.09 412.38L67.69 409.98Z"/>
<path d="M71.35 407.61L73.75 410.01L71.35 412.41L68.95 410.01Z"/>
<path d="M72.61 407.64L75.01 410.04L72.61 412.44L70.21 410.04Z"/>
<path d="M73.88 407.67L76.28 410.07L73.88 412.47L71.48 410.07Z"/>
<path d="M75.14 407.71L77.54 410.11L75.14 412.51L72.74 410.11Z"/>
<path d="M76.4 407.74L78.8 410.14L76.4 412.54L74 410.14Z"/>
<path d="M77.66 407.77L80.06 410.17L77.66 412.57L75.26 410.17Z"/>
<path d="M78.92 407.8L81.32 410.2L78.92 412.6L76.52 410.2Z"/>
<path d="M80.18 407.83L82.58 410.23L80.18 412.63L77.78 410.23Z"/>
<path d="M81.45 407.85L83.85 410.25L81.45 412.65L79.05 410.25Z"/>
<path d="M82.71 407.88L85.11 410.28L82.71 412.68L80.31 410.28Z"/>
<path d="M83.97 407.9L86.37 410.3L83.97 412.7L81.57 410.3Z"/>
<path d="M85.23 407.93L87.63 410.33L85.23 412.73L82.83 410.33Z"/>
<path d="M86.49 407.95L88.89 410.35L86.49 412.75L84.09 410.35Z"/>
<path d="M87.75 407.96L90.15 410.36L87.75 412.76L85.35 410.36Z"/>
<path d="M89.01 407.98L91.41 410.38L89.01 412.78L86.61 410.38Z"/>
<path d="M90.28 407.99L92.68 410.39L90.28 412.79L87.88 410.39Z"/>
<path d="M91.54 408L93.94 410.4L91.54 412.8L89.14 410.4Z"/>
<path d="M92.8 408L95.2 410.4L92.8 412.8L90.4 410.4Z"/>
<path d="M94.06 405.5L96.46 407.9L94.06 410.3L91.66 407.9Z"/>
<path d="M94.69 398.51L97.09 400.91L94.69 403.31L92.29 400.91Z"/>
<path d="M95.32 387.22L97.72 389.62L95.32 392.02L92.92 389.62Z"/>
<path d="M95.95 373.04L98.35 375.44L95.95 377.84L93.55 375.44Z"/>
<path d="M96.58 360.5L98.98 362.9L96.58 365.3L94.18 362.9Z"/>
<path d="M97.21 348.81L99.61 351.21L97.21 353.61L94.81 351.21Z"/>
<path d="M97.84 340.41L100.24 342.81L97.84 345.21L95.44 342.81Z"/>
<path d="M98.48 333.96L100.88 336.36L98.48 338.76L96.08 336.36Z"/>
<path d="M99.11 329.81L101.51 332.21L99.11 334.61L96.71 332.21Z"/>
<path d="M99.74 326.97L102.14 329.37L99.74 331.77L97.34 329.37Z"/>
<path d="M100.37 324.72L102.77 327.12L100.37 329.52L97.97 327.12Z"/>
<path d="M101 322.67L103.4 325.07L101 327.47L98.6 325.07Z"/>
<path d="M101.63 320.66L104.03 323.06L101.63 325.46L99.23 323.06Z"/>
<path d="M102.26 318.74L104.66 321.14L102.26 323.54L99.86 321.14Z"/>
<path d="M102.89 316.91L105.29 319.31L102.89 321.71L100.49 319.31Z"/>
<path d="M103.52 315.17L105.92 317.57L103.52 319.97L101.12 317.57Z"/>
<path d="M104.15 313.54L106.55 315.94L104.15 318.34L101.75 315.94Z"/>
<path d="M104.78 312.02L107.18 314.42L104.78 316.82L102.38 314.42Z"/>
<path d="M105.41 310.62L107.81 313.02L105.41 315.42L103.01 313.02Z"/>
<path d="M106.04 309.33L108.44 311.73L106.04 314.13L103.64 311.73Z"/>
<path d="M106.68 308.17L109.08 310.57L106.68 312.97L104.28 310.57Z"/>
<path d="M107.31 307.08L109.71 309.48L107.31 311.88L104.91 309.48Z"/>
<path d="M107.94 306.03L110.34 308.43L107.94 310.83L105.54 308.43Z"/>
<path d="M108.57 305.04L110.97 307.44L108.57 309.84L106.17 307.44Z"/>
<path d="M109.2 304.09L111.6 306.49L109.2 308.89L106.8 306.49Z"/>
<path d="M109.83 303.2L112.23 305.6L109.83 308L107.43 305.6Z"/>
<path d="M110.46 302.35L112.86 304.75L110.46 307.15L108.06 304.75Z"/>
<path d="M111.09 301.55L113.49 303.95L111.09 306.35L108.69 303.95Z"/>
<path d="M111.72 300.79L114.12 303.19L111.72 305.59L109.32 303.19Z"/>
<path d="M112.35 300.09L114.75 302.49L112.35 304.89L109.95 302.49Z"/>
<path d="M112.98 299.42L115.38 301.82L112.98 304.22L110.58 301.82Z"/>
<path d="M114.24 298.22L116.64 300.62L114.24 303.02L111.84 300.62Z"/>
<path d="M115.51 297.12L117.91 299.52L115.51 301.92L113.11 299.52Z"/>
<path d="M116.77 296.11L119.17 298.51L116.77 300.91L114.37 298.51Z"/>
<path d="M118.03 295.23L120.43 297.63L118.03 300.03L115.63 297.63Z"/>
<path d="M119.29 294.51L121.69 296.91L119.29 299.31L116.89 296.91Z"/>
<path d="M120.55 293.97L122.95 296.37L120.55 298.77L118.15 296.37Z"/>
<path d="M121.81 293.49L124.21 295.89L121.81 298.29L119.41 295.89Z"/>
<path d="M123.07 293.03L125.47 295.43L123.07 297.83L120.67 295.43Z"/>
<path d="M124.34 292.61L126.74 295.01L124.34 297.41L121.94 295.01Z"/>
<path d="M125.6 292.2L128 294.6L125.6 297L123.2 294.6Z"/>
<path d="M126.86 291.83L129.26 294.23L126.86 296.63L124.46 294.23Z"/>
<path d="M128.12 291.48L130.52 293.88L128.12 296.28L125.72 293.88Z"/>
<path d="M129.38 291.15L131.78 293.55L129.38 295.95L126.98 293.55Z"/>
<path d="M130.64 290.85L133.04 293.25L130.64 295.65L128.24 293.25Z"/>
<path d="M131.91 290.56L134.31 292.96L131.91 295.36L129.5 292.96Z"/>
<path d="M133.17 290.3L135.57 292.7L133.17 295.1L130.77 292.7Z"/>
<path d="M134.43 290.06L136.83 292.46L134.43 294.86L132.03 292.46Z"/>
<path d="M135.69 289.84L138.09 292.24L135.69 294.64L133.29 292.24Z"/>
<path d="M136.95 289.63L139.35 292.03L136.95 294.43L134.55 292.03Z"/>
<path d="M138.21 289.44L140.61 291.84L138.21 294.24L135.81 291.84Z"/>
<path d="M139.47 289.27L141.87 291.67L139.47 294.07L137.07 291.67Z"/>
<path d="M140.74 289.11L143.14 291.51L140.74 293.91L138.34 291.51Z"/>
<path d="M142 288.95L144.4 291.35L142 293.75L139.6 291.35Z"/>
<path d="M143.26 288.79L145.66 291.19L143.26 293.59L140.86 291.19Z"/>
<path d="M144.52 288.64L146.92 291.04L144.52 293.44L142.12 291.04Z"/>
<path d="M145.78 288.49L148.18 290.89L145.78 293.29L143.38 290.89Z"/>
<path d="M147.04 288.34L149.44 290.74L147.04 293.14L144.64 290.74Z"/>
<path d="M148.3 288.2L150.7 290.6L148.3 293L145.9 290.6Z"/>
<path d="M149.57 288.06L151.97 290.46L149.57 292.86L147.17 290.46Z"/>
<path d="M150.83 287.93L153.23 290.33L150.83 292.73L148.43 290.33Z"/>
<path d="M152.09 287.8L154.49 290.2L152.09 292.6L149.69 290.2Z"/>
<path d="M153.35 287.68L155.75 290.08L153.35 292.48L150.95 290.08Z"/>
<path d="M154.61 287.57L157.01 289.97L154.61 292.37L152.21 289.97Z"/>
<path d="M155.87 287.46L158.27 289.86L155.87 292.26L153.47 289.86Z"/>
<path d="M157.14 287.37L159.54 289.77L157.14 292.17L154.74 289.77Z"/>
<path d="M158.4 287.28L160.8 289.68L158.4 292.08L156 289.68Z"/>
<path d="M159.66 287.2L162.06 289.6L159.66 292L157.26 289.6Z"/>
<path d="M160.92 287.13L163.32 289.53L160.92 291.93L158.52 289.53Z"/>
<path d="M162.18 287.07L164.58 289.47L162.18 291.87L159.78 289.47Z"/>
<path d="M163.44 287.02L165.84 289.42L163.44 291.82L161.04 289.42Z"/>
<path d="M164.7 286.98L167.1 289.38L164.7 291.78L162.3 289.38Z"/>
<path d="M165.97 286.96L168.37 289.36L165.97 291.76L163.57 289.36Z"/>
<path d="M167.23 286.95L169.63 289.35L167.23 291.75L164.83 289.35Z"/>
<path d="M167.86 288.16L170.26 290.56L167.86 292.96L165.46 290.56Z"/>
<path d="M168.49 308.63L170.89 311.03L168.49 313.43L166.09 311.03Z"/>
<path d="M169.12 320.97L171.52 323.37L169.12 325.77L166.72 323.37Z"/>
<path d="M169.75 329.89L172.15 332.29L169.75 334.69L167.35 332.29Z"/>
<path d="M170.38 336.61L172.78 339.01L170.38 341.41L167.98 339.01Z"/>
<path d="M171.01 342.5L173.41 344.9L171.01 347.3L168.61 344.9Z"/>
<path d="M171.64 348.58L174.04 350.98L171.64 353.38L169.24 350.98Z"/>
<path d="M172.27 354.15L174.67 356.55L172.27 358.95L169.87 356.55Z"/>
<path d="M172.9 358.02L175.3 360.42L172.9 362.82L170.5 360.42Z"/>
<path d="M173.53 360.67L175.93 363.07L173.53 365.47L171.13 363.07Z"/>
<path d="M174.17 362.82L176.57 365.22L174.17 367.62L171.77 365.22Z"/>
<path d="M174.8 364.65L177.2 367.05L174.8 369.45L172.4 367.05Z"/>
<path d="M175.43 366.33L177.83 368.73L175.43 371.13L173.03 368.73Z"/>
<path d="M176.06 368.04L178.46 370.44L176.06 372.84L173.66 370.44Z"/>
<path d="M176.69 369.76L179.09 372.16L176.69 374.56L174.29 372.16Z"/>
<path d="M177.32 371.48L179.72 373.88L177.32 376.28L174.92 373.88Z"/>
<path d="M177.95 373.16L180.35 375.56L177.95 377.96L175.55 375.56Z"/>
<path d="M178.58 374.8L180.98 377.2L178.58 379.6L176.18 377.2Z"/>
<path d="M179.21 376.36L181.61 378.76L179.21 381.16L176.81 378.76Z"/>
<path d="M179.84 377.84L182.24 380.24L179.84 382.64L177.44 380.24Z"/>
<path d="M180.47 379.22L182.87 381.62L180.47 384.02L178.07 381.62Z"/>
<path d="M181.1 380.47L183.5 382.87L181.1 385.27L178.7 382.87Z"/>
<path d="M181.73 381.58L184.13 383.98L181.73 386.38L179.33 383.98Z"/>
<path d="M182.37 382.53L184.77 384.93L182.37 387.33L179.97 384.93Z"/>
<path d="M183 383.3L185.4 385.7L183 388.1L180.6 385.7Z"/>
<path d="M183.63 383.98L186.03 386.38L183.63 388.78L181.23 386.38Z"/>
<path d="M184.26 384.63L186.66 387.03L184.26 389.43L181.86 387.03Z"/>
<path d="M185.52 385.83L187.92 388.23L185.52 390.63L183.12 388.23Z"/>
<path d="M186.78 386.9L189.18 389.3L186.78 391.7L184.38 389.3Z"/>
<path d="M188.04 387.85L190.44 390.25L188.04 392.65L185.64 390.25Z"/>
<path d="M189.3 388.72L191.7 391.12L189.3 393.52L186.9 391.12Z"/>
<path d="M190.56 389.49L192.96 391.89L190.56 394.29L188.16 391.89Z"/>
<path d="M191.83 390.2L194.23 392.6L191.83 395L189.43 392.6Z"/>
<path d="M193.09 390.84L195.49 393.24L193.09 395.64L190.69 393.24Z"/>
<path d="M194.35 391.45L196.75 393.85L194.35 396.25L191.95 393.85Z"/>
<path d="M195.61 392.02L198.01 394.42L195.61 396.82L193.21 394.42Z"/>
<path d="M196.87 392.55L199.27 394.95L196.87 397.35L194.47 394.95Z"/>
<path d="M198.13 393.04L200.53 395.44L198.13 397.84L195.73 395.44Z"/>
<path d="M199.4 393.5L201.8 395.9L199.4 398.3L197 395.9Z"/>
<path d="M200.66 393.92L203.06 396.32L200.66 398.72L198.26 396.32Z"/>
<path d="M201.92 394.33L204.32 396.73L201.92 399.13L199.52 396.73Z"/>
<path d="M203.18 394.71L205.58 397.11L203.18 399.51L200.78 397.11Z"/>
<path d="M204.44 395.08L206.84 397.48L204.44 399.88L202.04 397.48Z"/>
<path d="M205.7 395.44L208.1 397.84L205.7 400.24L203.3 397.84Z"/>
<path d="M206.96 395.8L209.36 398.2L206.96 400.6L204.56 398.2Z"/>
<path d="M208.23 396.16L210.63 398.56L208.23 400.96L205.83 398.56Z"/>
<path d="M209.49 396.52L211.89 398.92L209.49 401.32L207.09 398.92Z"/>
<path d="M210.75 396.9L213.15 399.3L210.75 401.7L208.35 399.3Z"/>
<path d="M212.01 397.28L214.41 399.68L212.01 402.08L209.61 399.68Z"/>
<path d="M213.27 397.67L215.67 400.07L213.27 402.47L210.87 400.07Z"/>
<path d="M214.53 398.06L216.93 400.46L214.53 402.86L212.13 400.46Z"/>
<path d="M215.79 398.45L218.19 400.85L215.79 403.25L213.39 400.85Z"/>
<path d="M217.06 398.84L219.46 401.24L217.06 403.64L214.66 401.24Z"/>
<path d="M218.32 399.23L220.72 401.63L218.32 404.03L215.92 401.63Z"/>
<path d="M219.58 399.61L221.98 402.01L219.58 404.41L217.18 402.01Z"/>
<path d="M220.84 399.98L223.24 402.38L220.84 404.78L218.44 402.38Z"/>
<path d="M222.1 400.33L224.5 402.73L222.1 405.13L219.7 402.73Z"/>
<path d="M223.36 400.67L225.76 403.07L223.36 405.47L220.96 403.07Z"/>
<path d="M224.63 400.99L227.03 403.39L224.63 405.79L222.23 403.39Z"/>
<path d="M225.89 401.29L228.29 403.69L225.89 406.09L223.49 403.69Z"/>
<path d="M227.15 401.56L229.55 403.96L227.15 406.36L224.75 403.96Z"/>
<path d="M228.41 401.81L230.81 404.21L228.41 406.61L226.01 404.21Z"/>
<path d="M229.67 402.03L232.07 404.43L229.67 406.83L227.27 404.43Z"/>
<path d="M230.93 402.22L233.33 404.62L230.93 407.02L228.53 404.62Z"/>
<path d="M232.19 402.41L234.59 404.81L232.19 407.21L229.79 404.81Z"/>
<path d="M233.46 402.59L235.86 404.99L233.46 407.39L231.06 404.99Z"/>
<path d="M234.72 402.77L237.12 405.17L234.72 407.57L232.32 405.17Z"/>
<path d="M235.98 402.95L238.38 405.35L235.98 407.75L233.58 405.35Z"/>
<path d="M237.24 403.13L239.64 405.53L237.24 407.93L234.84 405.53Z"/>
<path d="M238.5 403.31L240.9 405.71L238.5 408.11L236.1 405.71Z"/>
<path d="M239.76 403.48L242.16 405.88L239.76 408.28L237.36 405.88Z"/>
<path d="M241.02 403.65L243.42 406.05L241.02 408.45L238.62 406.05Z"/>
<path d="M242.29 403.81L244.69 406.21L242.29 408.61L239.89 406.21Z"/>
<path d="M243.55 403.97L245.95 406.37L243.55 408.77L241.15 406.37Z"/>
<path d="M244.81 404.13L247.21 406.53L244.81 408.93L242.41 406.53Z"/>
<path d="M246.07 404.28L248.47 406.68L246.07 409.08L243.67 406.68Z"/>
<path d="M247.33 404.43L249.73 406.83L247.33 409.23L244.93 406.83Z"/>
<path d="M248.59 404.57L250.99 406.97L248.59 409.37L246.19 406.97Z"/>
<path d="M249.86 404.7L252.26 407.1L249.86 409.5L247.46 407.1Z"/>
<path d="M251.12 404.83L253.52 407.23L251.12 409.63L248.72 407.23Z"/>
<path d="M252.38 404.95L254.78 407.35L252.38 409.75L249.98 407.35Z"/>
<path d="M253.64 405.06L256.04 407.46L253.64 409.86L251.24 407.46Z"/>
<path d="M254.9 405.17L257.3 407.57L254.9 409.97L252.5 407.57Z"/>
<path d="M256.16 405.27L258.56 407.67L256.16 410.07L253.76 407.67Z"/>
<path d="M257.42 405.36L259.82 407.76L257.42 410.16L255.02 407.76Z"/>
<path d="M258.69 405.44L261.09 407.84L258.69 410.24L256.29 407.84Z"/>
<path d="M259.95 405.51L262.35 407.91L259.95 410.31L257.55 407.91Z"/>
<path d="M261.21 405.58L263.61 407.98L261.21 410.38L258.81 407.98Z"/>
<path d="M262.47 405.63L264.87 408.03L262.47 410.43L260.07 408.03Z"/>
<path d="M263.73 405.67L266.13 408.07L263.73 410.47L261.33 408.07Z"/>
<path d="M264.99 405.71L267.39 408.11L264.99 410.51L262.59 408.11Z"/>
<path d="M266.25 405.73L268.65 408.13L266.25 410.53L263.85 408.13Z"/>
<path d="M267.52 405.74L269.92 408.14L267.52 410.54L265.12 408.14Z"/>
<path d="M268.15 405.74L270.55 408.14L268.15 410.54L265.75 408.14Z"/>
</g>
<polyline points="43.6,408.14 44.23,408.17 44.86,408.2 45.49,408.23 46.12,408.25 46.75,408.28 47.38,408.31 48.02,408.33 48.65,408.36 49.28,408.39 49.91,408.41 50.54,408.44 51.17,408.46 51.8,408.49 52.43,408.52 53.06,408.54 53.69,408.56 54.32,408.59 54.95,408.61 55.58,408.64 56.22,408.66 56.85,408.68 57.48,408.7 58.11,408.73 58.74,408.75 59.37,408.77 60,408.79 60.63,408.81 61.26,408.83 61.89,408.85 62.52,408.87 63.15,408.89 63.78,408.91 64.41,408.93 65.05,408.95 65.68,408.96 66.31,408.98 66.94,409 67.57,409.01 68.2,409.03 68.83,409.04 69.46,409.06 70.09,409.08 70.72,409.09 71.35,409.11 71.98,409.12 72.61,409.14 73.25,409.15 73.88,409.17 74.51,409.18 75.14,409.2 75.77,409.22 76.4,409.23 77.03,409.25 77.66,409.26 78.29,409.28 78.92,409.29 79.55,409.3 80.18,409.32 80.81,409.33 81.45,409.35 82.08,409.36 82.71,409.37 83.34,409.38 83.97,409.4 84.6,409.41 85.23,409.42 85.86,409.43 86.49,409.44 87.12,409.45 87.75,409.45 88.38,409.46 89.01,409.47 89.64,409.48 90.28,409.48 90.91,409.49 91.54,409.49 92.17,409.49 92.8,409.49 93.43,409.5 94.06,409.5 94.69,404.36 95.32,395.21 95.95,382.42 96.58,369.62 97.21,357.44 97.84,347.16 98.48,339.42 99.11,333.56 99.74,329.94 100.37,327.26 101,325.02 101.63,322.84 102.26,320.75 102.89,318.75 103.52,316.86 104.15,315.07 104.78,313.41 105.41,311.87 106.04,310.47 106.68,309.22 107.31,308.07 107.94,306.98 108.57,305.94 109.2,304.95 109.83,304.02 110.46,303.14 111.09,302.31 111.72,301.52 112.35,300.78 112.98,300.09 113.61,299.44 114.24,298.83 114.87,298.25 115.51,297.7 116.14,297.16 116.77,296.66 117.4,296.18 118.03,295.73 118.66,295.32 119.29,294.95 119.92,294.61 120.55,294.31 121.18,294.04 121.81,293.78 122.44,293.52 123.07,293.27 123.71,293.03 124.34,292.79 124.97,292.56 125.6,292.33 126.23,292.11 126.86,291.9 127.49,291.69 128.12,291.49 128.75,291.3 129.38,291.11 130.01,290.93 130.64,290.76 131.27,290.59 131.91,290.43 132.54,290.27 133.17,290.12 133.8,289.98 134.43,289.84 135.06,289.71 135.69,289.58 136.32,289.46 136.95,289.35 137.58,289.24 138.21,289.14 138.84,289.05 139.47,288.96 140.1,288.88 140.74,288.8 141.37,288.72 142,288.64 142.63,288.56 143.26,288.48 143.89,288.4 144.52,288.32 145.15,288.25 145.78,288.17 146.41,288.1 147.04,288.03 147.67,287.96 148.3,287.89 148.94,287.82 149.57,287.75 150.2,287.68 150.83,287.62 151.46,287.56 152.09,287.5 152.72,287.43 153.35,287.38 153.98,287.32 154.61,287.27 155.24,287.21 155.87,287.16 156.5,287.11 157.14,287.07 157.77,287.02 158.4,286.98 159.03,286.94 159.66,286.9 160.29,286.86 160.92,286.83 161.55,286.8 162.18,286.77 162.81,286.74 163.44,286.72 164.07,286.7 164.7,286.68 165.33,286.67 165.97,286.65 166.6,286.64 167.23,286.64 167.86,286.63 168.49,291.11 169.12,311.53 169.75,323.17 170.38,331.5 171.01,337.95 171.64,343.83 172.27,349.81 172.9,355.11 173.53,358.88 174.17,361.8 174.8,364.24 175.43,366.33 176.06,368.24 176.69,370.08 177.32,371.87 177.95,373.59 178.58,375.23 179.21,376.77 179.84,378.22 180.47,379.54 181.1,380.74 181.73,381.79 182.37,382.7 183,383.43 183.63,384.09 184.26,384.71 184.89,385.29 185.52,385.85 186.15,386.37 186.78,386.86 187.41,387.32 188.04,387.76 188.67,388.17 189.3,388.56 189.93,388.93 190.56,389.29 191.2,389.63 191.83,389.95 192.46,390.26 193.09,390.56 193.72,390.86 194.35,391.15 194.98,391.43 195.61,391.71 196.24,391.97 196.87,392.23 197.5,392.48 198.13,392.72 198.76,392.95 199.4,393.18 200.03,393.4 200.66,393.61 201.29,393.82 201.92,394.02 202.55,394.22 203.18,394.42 203.81,394.6 204.44,394.79 205.07,394.97 205.7,395.16 206.33,395.33 206.96,395.51 207.59,395.69 208.23,395.87 208.86,396.04 209.49,396.22 210.12,396.4 210.75,396.58 211.38,396.76 212.01,396.94 212.64,397.12 213.27,397.3 213.9,397.49 214.53,397.67 215.16,397.85 215.79,398.04 216.43,398.22 217.06,398.4 217.69,398.57 218.32,398.75 218.95,398.92 219.58,399.1 220.21,399.26 220.84,399.43 221.47,399.59 222.1,399.75 222.73,399.91 223.36,400.06 223.99,400.21 224.63,400.35 225.26,400.48 225.89,400.62 226.52,400.74 227.15,400.86 227.78,400.98 228.41,401.08 229.04,401.19 229.67,401.28 230.3,401.37 230.93,401.45 231.56,401.53 232.19,401.61 232.83,401.69 233.46,401.78 234.09,401.86 234.72,401.94 235.35,402.02 235.98,402.1 236.61,402.18 237.24,402.25 237.87,402.33 238.5,402.41 239.13,402.48 239.76,402.56 240.39,402.63 241.02,402.71 241.66,402.78 242.29,402.85 242.92,402.92 243.55,402.99 244.18,403.06 244.81,403.13 245.44,403.19 246.07,403.26 246.7,403.32 247.33,403.39 247.96,403.45 248.59,403.51 249.22,403.57 249.86,403.63 250.49,403.68 251.12,403.74 251.75,403.79 252.38,403.84 253.01,403.89 253.64,403.94 254.27,403.99 254.9,404.03 255.53,404.08 256.16,404.12 256.79,404.16 257.42,404.2 258.06,404.23 258.69,404.27 259.32,404.3 259.95,404.33 260.58,404.36 261.21,404.38 261.84,404.41 262.47,404.43 263.1,404.45 263.73,404.47 264.36,404.48 264.99,404.5 265.62,404.51 266.25,404.52 266.89,404.52 267.52,404.53 268.15,404.53" fill="none" stroke="#99cbee" stroke-width="1.0" stroke-linejoin="round" clip-path="url(#cc)"/>
<g fill="#fff" stroke="#a9d3f0" stroke-width="0.7" clip-path="url(#cc)">
<circle cx="43.6" cy="408.14" r="1.9"/>
<circle cx="44.86" cy="408.2" r="1.9"/>
<circle cx="46.12" cy="408.25" r="1.9"/>
<circle cx="47.38" cy="408.31" r="1.9"/>
<circle cx="48.65" cy="408.36" r="1.9"/>
<circle cx="49.91" cy="408.41" r="1.9"/>
<circle cx="51.17" cy="408.46" r="1.9"/>
<circle cx="52.43" cy="408.52" r="1.9"/>
<circle cx="53.69" cy="408.56" r="1.9"/>
<circle cx="54.95" cy="408.61" r="1.9"/>
<circle cx="56.22" cy="408.66" r="1.9"/>
<circle cx="57.48" cy="408.7" r="1.9"/>
<circle cx="58.74" cy="408.75" r="1.9"/>
<circle cx="60" cy="408.79" r="1.9"/>
<circle cx="61.26" cy="408.83" r="1.9"/>
<circle cx="62.52" cy="408.87" r="1.9"/>
<circle cx="63.78" cy="408.91" r="1.9"/>
<circle cx="65.05" cy="408.95" r="1.9"/>
<circle cx="66.31" cy="408.98" r="1.9"/>
<circle cx="67.57" cy="409.01" r="1.9"/>
<circle cx="68.83" cy="409.04" r="1.9"/>
<circle cx="70.09" cy="409.08" r="1.9"/>
<circle cx="71.35" cy="409.11" r="1.9"/>
<circle cx="72.61" cy="409.14" r="1.9"/>
<circle cx="73.88" cy="409.17" r="1.9"/>
<circle cx="75.14" cy="409.2" r="1.9"/>
<circle cx="76.4" cy="409.23" r="1.9"/>
<circle cx="77.66" cy="409.26" r="1.9"/>
<circle cx="78.92" cy="409.29" r="1.9"/>
<circle cx="80.18" cy="409.32" r="1.9"/>
<circle cx="81.45" cy="409.35" r="1.9"/>
<circle cx="82.71" cy="409.37" r="1.9"/>
<circle cx="83.97" cy="409.4" r="1.9"/>
<circle cx="85.23" cy="409.42" r="1.9"/>
<circle cx="86.49" cy="409.44" r="1.9"/>
<circle cx="87.75" cy="409.45" r="1.9"/>
<circle cx="89.01" cy="409.47" r="1.9"/>
<circle cx="90.28" cy="409.48" r="1.9"/>
<circle cx="91.54" cy="409.49" r="1.9"/>
<circle cx="92.8" cy="409.49" r="1.9"/>
<circle cx="94.06" cy="409.5" r="1.9"/>
<circle cx="94.69" cy="404.36" r="1.9"/>
<circle cx="95.32" cy="395.21" r="1.9"/>
<circle cx="95.95" cy="382.42" r="1.9"/>
<circle cx="96.58" cy="369.62" r="1.9"/>
<circle cx="97.21" cy="357.44" r="1.9"/>
<circle cx="97.84" cy="347.16" r="1.9"/>
<circle cx="98.48" cy="339.42" r="1.9"/>
<circle cx="99.11" cy="333.56" r="1.9"/>
<circle cx="99.74" cy="329.94" r="1.9"/>
<circle cx="100.37" cy="327.26" r="1.9"/>
<circle cx="101" cy="325.02" r="1.9"/>
<circle cx="101.63" cy="322.84" r="1.9"/>
<circle cx="102.26" cy="320.75" r="1.9"/>
<circle cx="102.89" cy="318.75" r="1.9"/>
<circle cx="103.52" cy="316.86" r="1.9"/>
<circle cx="104.15" cy="315.07" r="1.9"/>
<circle cx="104.78" cy="313.41" r="1.9"/>
<circle cx="105.41" cy="311.87" r="1.9"/>
<circle cx="106.04" cy="310.47" r="1.9"/>
<circle cx="106.68" cy="309.22" r="1.9"/>
<circle cx="107.31" cy="308.07" r="1.9"/>
<circle cx="107.94" cy="306.98" r="1.9"/>
<circle cx="108.57" cy="305.94" r="1.9"/>
<circle cx="109.2" cy="304.95" r="1.9"/>
<circle cx="109.83" cy="304.02" r="1.9"/>
<circle cx="110.46" cy="303.14" r="1.9"/>
<circle cx="111.09" cy="302.31" r="1.9"/>
<circle cx="111.72" cy="301.52" r="1.9"/>
<circle cx="112.35" cy="300.78" r="1.9"/>
<circle cx="112.98" cy="300.09" r="1.9"/>
<circle cx="113.61" cy="299.44" r="1.9"/>
<circle cx="114.87" cy="298.25" r="1.9"/>
<circle cx="116.14" cy="297.16" r="1.9"/>
<circle cx="117.4" cy="296.18" r="1.9"/>
<circle cx="118.66" cy="295.32" r="1.9"/>
<circle cx="119.92" cy="294.61" r="1.9"/>
<circle cx="121.18" cy="294.04" r="1.9"/>
<circle cx="122.44" cy="293.52" r="1.9"/>
<circle cx="123.71" cy="293.03" r="1.9"/>
<circle cx="124.97" cy="292.56" r="1.9"/>
<circle cx="126.23" cy="292.11" r="1.9"/>
<circle cx="127.49" cy="291.69" r="1.9"/>
<circle cx="128.75" cy="291.3" r="1.9"/>
<circle cx="130.01" cy="290.93" r="1.9"/>
<circle cx="131.27" cy="290.59" r="1.9"/>
<circle cx="132.54" cy="290.27" r="1.9"/>
<circle cx="133.8" cy="289.98" r="1.9"/>
<circle cx="135.06" cy="289.71" r="1.9"/>
<circle cx="136.32" cy="289.46" r="1.9"/>
<circle cx="137.58" cy="289.24" r="1.9"/>
<circle cx="138.84" cy="289.05" r="1.9"/>
<circle cx="140.1" cy="288.88" r="1.9"/>
<circle cx="141.37" cy="288.72" r="1.9"/>
<circle cx="142.63" cy="288.56" r="1.9"/>
<circle cx="143.89" cy="288.4" r="1.9"/>
<circle cx="145.15" cy="288.25" r="1.9"/>
<circle cx="146.41" cy="288.1" r="1.9"/>
<circle cx="147.67" cy="287.96" r="1.9"/>
<circle cx="148.94" cy="287.82" r="1.9"/>
<circle cx="150.2" cy="287.68" r="1.9"/>
<circle cx="151.46" cy="287.56" r="1.9"/>
<circle cx="152.72" cy="287.43" r="1.9"/>
<circle cx="153.98" cy="287.32" r="1.9"/>
<circle cx="155.24" cy="287.21" r="1.9"/>
<circle cx="156.5" cy="287.11" r="1.9"/>
<circle cx="157.77" cy="287.02" r="1.9"/>
<circle cx="159.03" cy="286.94" r="1.9"/>
<circle cx="160.29" cy="286.86" r="1.9"/>
<circle cx="161.55" cy="286.8" r="1.9"/>
<circle cx="162.81" cy="286.74" r="1.9"/>
<circle cx="164.07" cy="286.7" r="1.9"/>
<circle cx="165.33" cy="286.67" r="1.9"/>
<circle cx="166.6" cy="286.64" r="1.9"/>
<circle cx="167.86" cy="286.63" r="1.9"/>
<circle cx="168.49" cy="291.11" r="1.9"/>
<circle cx="169.12" cy="311.53" r="1.9"/>
<circle cx="169.75" cy="323.17" r="1.9"/>
<circle cx="170.38" cy="331.5" r="1.9"/>
<circle cx="171.01" cy="337.95" r="1.9"/>
<circle cx="171.64" cy="343.83" r="1.9"/>
<circle cx="172.27" cy="349.81" r="1.9"/>
<circle cx="172.9" cy="355.11" r="1.9"/>
<circle cx="173.53" cy="358.88" r="1.9"/>
<circle cx="174.17" cy="361.8" r="1.9"/>
<circle cx="174.8" cy="364.24" r="1.9"/>
<circle cx="175.43" cy="366.33" r="1.9"/>
<circle cx="176.06" cy="368.24" r="1.9"/>
<circle cx="176.69" cy="370.08" r="1.9"/>
<circle cx="177.32" cy="371.87" r="1.9"/>
<circle cx="177.95" cy="373.59" r="1.9"/>
<circle cx="178.58" cy="375.23" r="1.9"/>
<circle cx="179.21" cy="376.77" r="1.9"/>
<circle cx="179.84" cy="378.22" r="1.9"/>
<circle cx="180.47" cy="379.54" r="1.9"/>
<circle cx="181.1" cy="380.74" r="1.9"/>
<circle cx="181.73" cy="381.79" r="1.9"/>
<circle cx="182.37" cy="382.7" r="1.9"/>
<circle cx="183" cy="383.43" r="1.9"/>
<circle cx="183.63" cy="384.09" r="1.9"/>
<circle cx="184.89" cy="385.29" r="1.9"/>
<circle cx="186.15" cy="386.37" r="1.9"/>
<circle cx="187.41" cy="387.32" r="1.9"/>
<circle cx="188.67" cy="388.17" r="1.9"/>
<circle cx="189.93" cy="388.93" r="1.9"/>
<circle cx="191.2" cy="389.63" r="1.9"/>
<circle cx="192.46" cy="390.26" r="1.9"/>
<circle cx="193.72" cy="390.86" r="1.9"/>
<circle cx="194.98" cy="391.43" r="1.9"/>
<circle cx="196.24" cy="391.97" r="1.9"/>
<circle cx="197.5" cy="392.48" r="1.9"/>
<circle cx="198.76" cy="392.95" r="1.9"/>
<circle cx="200.03" cy="393.4" r="1.9"/>
<circle cx="201.29" cy="393.82" r="1.9"/>
<circle cx="202.55" cy="394.22" r="1.9"/>
<circle cx="203.81" cy="394.6" r="1.9"/>
<circle cx="205.07" cy="394.97" r="1.9"/>
<circle cx="206.33" cy="395.33" r="1.9"/>
<circle cx="207.59" cy="395.69" r="1.9"/>
<circle cx="208.86" cy="396.04" r="1.9"/>
<circle cx="210.12" cy="396.4" r="1.9"/>
<circle cx="211.38" cy="396.76" r="1.9"/>
<circle cx="212.64" cy="397.12" r="1.9"/>
<circle cx="213.9" cy="397.49" r="1.9"/>
<circle cx="215.16" cy="397.85" r="1.9"/>
<circle cx="216.43" cy="398.22" r="1.9"/>
<circle cx="217.69" cy="398.57" r="1.9"/>
<circle cx="218.95" cy="398.92" r="1.9"/>
<circle cx="220.21" cy="399.26" r="1.9"/>
<circle cx="221.47" cy="399.59" r="1.9"/>
<circle cx="222.73" cy="399.91" r="1.9"/>
<circle cx="223.99" cy="400.21" r="1.9"/>
<circle cx="225.26" cy="400.48" r="1.9"/>
<circle cx="226.52" cy="400.74" r="1.9"/>
<circle cx="227.78" cy="400.98" r="1.9"/>
<circle cx="229.04" cy="401.19" r="1.9"/>
<circle cx="230.3" cy="401.37" r="1.9"/>
<circle cx="231.56" cy="401.53" r="1.9"/>
<circle cx="232.83" cy="401.69" r="1.9"/>
<circle cx="234.09" cy="401.86" r="1.9"/>
<circle cx="235.35" cy="402.02" r="1.9"/>
<circle cx="236.61" cy="402.18" r="1.9"/>
<circle cx="237.87" cy="402.33" r="1.9"/>
<circle cx="239.13" cy="402.48" r="1.9"/>
<circle cx="240.39" cy="402.63" r="1.9"/>
<circle cx="241.66" cy="402.78" r="1.9"/>
<circle cx="242.92" cy="402.92" r="1.9"/>
<circle cx="244.18" cy="403.06" r="1.9"/>
<circle cx="245.44" cy="403.19" r="1.9"/>
<circle cx="246.7" cy="403.32" r="1.9"/>
<circle cx="247.96" cy="403.45" r="1.9"/>
<circle cx="249.22" cy="403.57" r="1.9"/>
<circle cx="250.49" cy="403.68" r="1.9"/>
<circle cx="251.75" cy="403.79" r="1.9"/>
<circle cx="253.01" cy="403.89" r="1.9"/>
<circle cx="254.27" cy="403.99" r="1.9"/>
<circle cx="255.53" cy="404.08" r="1.9"/>
<circle cx="256.79" cy="404.16" r="1.9"/>
<circle cx="258.06" cy="404.23" r="1.9"/>
<circle cx="259.32" cy="404.3" r="1.9"/>
<circle cx="260.58" cy="404.36" r="1.9"/>
<circle cx="261.84" cy="404.41" r="1.9"/>
<circle cx="263.1" cy="404.45" r="1.9"/>
<circle cx="264.36" cy="404.48" r="1.9"/>
<circle cx="265.62" cy="404.51" r="1.9"/>
<circle cx="266.89" cy="404.52" r="1.9"/>
<circle cx="268.15" cy="404.53" r="1.9"/>
</g>
<rect x="43.6" y="234.2" width="224.8" height="180.8" fill="none" stroke="#434849" stroke-width="1.5"/>
<line x1="43.6" y1="415" x2="43.6" y2="418.2" stroke="#434849" stroke-width="1"/>
<line x1="94.06" y1="415" x2="94.06" y2="418.2" stroke="#434849" stroke-width="1"/>
<line x1="144.52" y1="415" x2="144.52" y2="418.2" stroke="#434849" stroke-width="1"/>
<line x1="194.98" y1="415" x2="194.98" y2="418.2" stroke="#434849" stroke-width="1"/>
<line x1="245.44" y1="415" x2="245.44" y2="418.2" stroke="#434849" stroke-width="1"/>
<line x1="68.83" y1="415" x2="68.83" y2="416.8" stroke="#434849" stroke-width="1"/>
<line x1="119.29" y1="415" x2="119.29" y2="416.8" stroke="#434849" stroke-width="1"/>
<line x1="169.75" y1="415" x2="169.75" y2="416.8" stroke="#434849" stroke-width="1"/>
<line x1="220.21" y1="415" x2="220.21" y2="416.8" stroke="#434849" stroke-width="1"/>
<text x="43.6" y="428.7" font-size="10.5" text-anchor="middle" font-weight="normal" fill="#161616" >0</text>
<text x="94.06" y="428.7" font-size="10.5" text-anchor="middle" font-weight="normal" fill="#161616" >200</text>
<text x="144.52" y="428.7" font-size="10.5" text-anchor="middle" font-weight="normal" fill="#161616" >400</text>
<text x="194.98" y="428.7" font-size="10.5" text-anchor="middle" font-weight="normal" fill="#161616" >600</text>
<text x="245.44" y="428.7" font-size="10.5" text-anchor="middle" font-weight="normal" fill="#161616" >800</text>
<line x1="40.4" y1="410.4" x2="43.6" y2="410.4" stroke="#434849" stroke-width="1"/>
<line x1="40.4" y1="365.23" x2="43.6" y2="365.23" stroke="#434849" stroke-width="1"/>
<line x1="40.4" y1="320.06" x2="43.6" y2="320.06" stroke="#434849" stroke-width="1"/>
<line x1="40.4" y1="274.89" x2="43.6" y2="274.89" stroke="#434849" stroke-width="1"/>
<line x1="41.8" y1="387.81" x2="43.6" y2="387.81" stroke="#434849" stroke-width="1"/>
<line x1="41.8" y1="342.64" x2="43.6" y2="342.64" stroke="#434849" stroke-width="1"/>
<line x1="41.8" y1="297.47" x2="43.6" y2="297.47" stroke="#434849" stroke-width="1"/>
<line x1="41.8" y1="252.3" x2="43.6" y2="252.3" stroke="#434849" stroke-width="1"/>
<text x="38" y="414.15" font-size="10.5" text-anchor="end" font-weight="normal" fill="#161616" >1</text>
<text x="38" y="368.98" font-size="10.5" text-anchor="end" font-weight="normal" fill="#161616" >2</text>
<text x="38" y="323.81" font-size="10.5" text-anchor="end" font-weight="normal" fill="#161616" >3</text>
<text x="38" y="278.64" font-size="10.5" text-anchor="end" font-weight="normal" fill="#161616" >4</text>
<text x="156.4" y="443" font-size="12.1" text-anchor="middle" font-weight="normal" fill="#161616" >Time (s)</text>
<text x="19.7" y="324" font-size="12.1" text-anchor="middle" fill="#161616" transform="rotate(-90 19.7 324)">Response (R<tspan font-size="8" dy="2.5">a</tspan><tspan dy="-2.5">/R</tspan><tspan font-size="8" dy="2.5">g</tspan><tspan dy="-2.5">)</tspan></text>
<text x="7.2" y="236" font-size="14.5" text-anchor="start" font-weight="bold" fill="#111" >(c)</text>
<text x="47.6" y="244.5" font-size="9.3" text-anchor="start" font-weight="normal" fill="#161616" >50 ppm</text>
<text x="47.6" y="257.2" font-size="9.3" text-anchor="start" font-weight="normal" fill="#161616" >230 °C</text>
<line x1="205.6" y1="241.7" x2="227.4" y2="241.7" stroke="#f28c88" stroke-width="1.3"/>
<g fill="#fff" stroke="#f28c88" stroke-width="0.8">
<circle cx="216.5" cy="241.7" r="2.1"/>
</g>
<text x="229.4" y="245.1" font-size="9.4" text-anchor="start" font-weight="normal" fill="#161616" >10% RH</text>
<line x1="205.6" y1="253.4" x2="227.4" y2="253.4" stroke="#6cc4ae" stroke-width="1.3"/>
<g fill="#fff" stroke="#6cc4ae" stroke-width="0.8">
<circle cx="216.5" cy="253.4" r="2.1"/>
</g>
<text x="229.4" y="256.8" font-size="9.4" text-anchor="start" font-weight="normal" fill="#161616" >30% RH</text>
<line x1="205.6" y1="265.1" x2="227.4" y2="265.1" stroke="#b5d99c" stroke-width="1.3"/>
<g fill="#fff" stroke="#b5d99c" stroke-width="0.8">
<circle cx="216.5" cy="265.1" r="2.1"/>
</g>
<text x="229.4" y="268.5" font-size="9.4" text-anchor="start" font-weight="normal" fill="#161616" >50% RH</text>
<line x1="205.6" y1="276.8" x2="227.4" y2="276.8" stroke="#3580bd" stroke-width="1.8"/>
<g fill="#fff" stroke="#3580bd" stroke-width="0.8">
<path d="M216.5 274.3L219 276.8L216.5 279.3L214 276.8Z"/>
</g>
<text x="229.4" y="280.2" font-size="9.4" text-anchor="start" font-weight="normal" fill="#161616" >70% RH</text>
<line x1="205.6" y1="288.5" x2="227.4" y2="288.5" stroke="#99cbee" stroke-width="1.3"/>
<g fill="#fff" stroke="#99cbee" stroke-width="0.8">
<circle cx="216.5" cy="288.5" r="2.1"/>
</g>
<text x="229.4" y="291.9" font-size="9.4" text-anchor="start" font-weight="normal" fill="#161616" >90% RH</text>
<rect x="318.7" y="233" width="224.7" height="180.3" fill="none" stroke="#434849" stroke-width="1.5"/>
<line x1="318.7" y1="413.3" x2="318.7" y2="416.5" stroke="#434849" stroke-width="1"/>
<line x1="364.15" y1="413.3" x2="364.15" y2="416.5" stroke="#434849" stroke-width="1"/>
<line x1="409.6" y1="413.3" x2="409.6" y2="416.5" stroke="#434849" stroke-width="1"/>
<line x1="455.05" y1="413.3" x2="455.05" y2="416.5" stroke="#434849" stroke-width="1"/>
<line x1="500.5" y1="413.3" x2="500.5" y2="416.5" stroke="#434849" stroke-width="1"/>
<line x1="341.43" y1="413.3" x2="341.43" y2="415.1" stroke="#434849" stroke-width="1"/>
<line x1="386.88" y1="413.3" x2="386.88" y2="415.1" stroke="#434849" stroke-width="1"/>
<line x1="432.32" y1="413.3" x2="432.32" y2="415.1" stroke="#434849" stroke-width="1"/>
<line x1="477.77" y1="413.3" x2="477.77" y2="415.1" stroke="#434849" stroke-width="1"/>
<line x1="523.23" y1="413.3" x2="523.23" y2="415.1" stroke="#434849" stroke-width="1"/>
<text x="318.7" y="427.6" font-size="10.5" text-anchor="middle" font-weight="normal" fill="#161616" >0</text>
<text x="364.15" y="427.6" font-size="10.5" text-anchor="middle" font-weight="normal" fill="#161616" >20</text>
<text x="409.6" y="427.6" font-size="10.5" text-anchor="middle" font-weight="normal" fill="#161616" >40</text>
<text x="455.05" y="427.6" font-size="10.5" text-anchor="middle" font-weight="normal" fill="#161616" >60</text>
<text x="500.5" y="427.6" font-size="10.5" text-anchor="middle" font-weight="normal" fill="#161616" >80</text>
<line x1="315.5" y1="385.8" x2="318.7" y2="385.8" stroke="#434849" stroke-width="1"/>
<line x1="315.5" y1="331.1" x2="318.7" y2="331.1" stroke="#434849" stroke-width="1"/>
<line x1="315.5" y1="276.4" x2="318.7" y2="276.4" stroke="#434849" stroke-width="1"/>
<line x1="316.9" y1="413.15" x2="318.7" y2="413.15" stroke="#434849" stroke-width="1"/>
<line x1="316.9" y1="358.45" x2="318.7" y2="358.45" stroke="#434849" stroke-width="1"/>
<line x1="316.9" y1="303.75" x2="318.7" y2="303.75" stroke="#434849" stroke-width="1"/>
<line x1="316.9" y1="249.05" x2="318.7" y2="249.05" stroke="#434849" stroke-width="1"/>
<text x="312.8" y="389.55" font-size="10.5" text-anchor="end" font-weight="normal" fill="#161616" >3</text>
<text x="312.8" y="334.85" font-size="10.5" text-anchor="end" font-weight="normal" fill="#161616" >4</text>
<text x="312.8" y="280.15" font-size="10.5" text-anchor="end" font-weight="normal" fill="#161616" >5</text>
<text x="431.2" y="441.6" font-size="12.1" text-anchor="middle" font-weight="normal" fill="#161616" >RH (%)</text>
<text x="295.4" y="322.6" font-size="12.1" text-anchor="middle" fill="#161616" transform="rotate(-90 295.4 322.6)">Response (R<tspan font-size="8" dy="2.5">a</tspan><tspan dy="-2.5">/R</tspan><tspan font-size="8" dy="2.5">g</tspan><tspan dy="-2.5">)</tspan></text>
<text x="284.2" y="236.2" font-size="14.5" text-anchor="start" font-weight="bold" fill="#111" >(d)</text>
<text x="322.6" y="247.1" font-size="9.3" text-anchor="start" font-weight="normal" fill="#161616" >50 ppm</text>
<text x="322.6" y="259.4" font-size="9.3" text-anchor="start" font-weight="normal" fill="#161616" >230 °C</text>
<polyline points="341.5,315.3 386.5,328.6 432.3,319.9 477.8,348.5 522.8,345.8" fill="none" stroke="#80bfe8" stroke-width="1.6" stroke-linejoin="round"/>
<g fill="#fff" stroke="#add4ef" stroke-width="0.8">
<circle cx="341.5" cy="315.3" r="2.2"/>
<circle cx="386.5" cy="328.6" r="2.2"/>
<circle cx="432.3" cy="319.9" r="2.2"/>
<circle cx="477.8" cy="348.5" r="2.2"/>
<circle cx="522.8" cy="345.8" r="2.2"/>
</g>
<line x1="483.5" y1="242.7" x2="505.4" y2="242.7" stroke="#8cc6ea" stroke-width="1.4"/>
<g fill="#fff" stroke="#8cc6ea" stroke-width="0.8">
<circle cx="494.45" cy="242.7" r="2.1"/>
</g>
<text x="507.3" y="245.8" font-size="9.6" text-anchor="start" font-weight="normal" fill="#161616" >Pd-ZnO</text>
</svg></body></html>
